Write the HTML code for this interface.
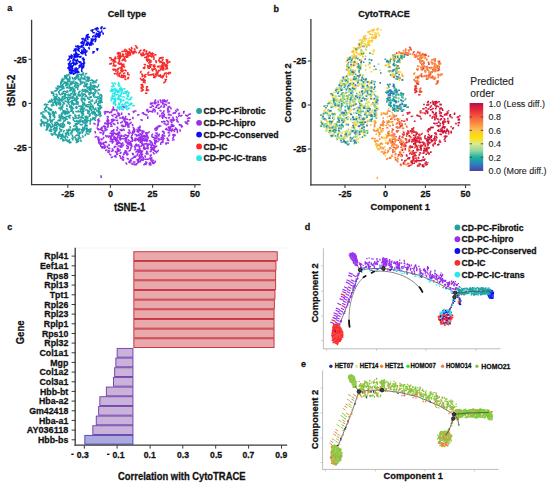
<!DOCTYPE html>
<html><head><meta charset="utf-8"><style>
html,body{margin:0;padding:0;background:#fff;}
svg{display:block;}
text{font-family:"Liberation Sans",sans-serif;}
</style></head><body>
<svg width="550" height="486" viewBox="0 0 550 486">
<rect width="550" height="486" fill="#fff"/>
<line x1="31.6" y1="19.8" x2="31.6" y2="185.2" stroke="#3a3a3a" stroke-width="1.3"/>
<line x1="31.0" y1="184.6" x2="200.7" y2="184.6" stroke="#3a3a3a" stroke-width="1.3"/>
<line x1="28.5" y1="59.3" x2="31.6" y2="59.3" stroke="#3a3a3a" stroke-width="1.1"/>
<line x1="28.5" y1="103.4" x2="31.6" y2="103.4" stroke="#3a3a3a" stroke-width="1.1"/>
<line x1="28.5" y1="147.4" x2="31.6" y2="147.4" stroke="#3a3a3a" stroke-width="1.1"/>
<line x1="67.8" y1="184.6" x2="67.8" y2="187.8" stroke="#3a3a3a" stroke-width="1.1"/>
<line x1="110.4" y1="184.6" x2="110.4" y2="187.8" stroke="#3a3a3a" stroke-width="1.1"/>
<line x1="152.6" y1="184.6" x2="152.6" y2="187.8" stroke="#3a3a3a" stroke-width="1.1"/>
<line x1="194.9" y1="184.6" x2="194.9" y2="187.8" stroke="#3a3a3a" stroke-width="1.1"/>
<text x="26.8" y="62.6" font-size="9.63" textLength="13.01" lengthAdjust="spacingAndGlyphs" font-weight="bold" text-anchor="end" fill="#111" stroke="#111" stroke-width="0.28">-25</text>
<text x="26.8" y="106.7" font-size="9.63" textLength="5.01" lengthAdjust="spacingAndGlyphs" font-weight="bold" text-anchor="end" fill="#111" stroke="#111" stroke-width="0.28">0</text>
<text x="26.8" y="150.7" font-size="9.63" textLength="13.01" lengthAdjust="spacingAndGlyphs" font-weight="bold" text-anchor="end" fill="#111" stroke="#111" stroke-width="0.28">-25</text>
<text x="67.8" y="196.9" font-size="9.63" textLength="13.01" lengthAdjust="spacingAndGlyphs" font-weight="bold" text-anchor="middle" fill="#111" stroke="#111" stroke-width="0.28">-25</text>
<text x="110.4" y="196.9" font-size="9.63" textLength="5.01" lengthAdjust="spacingAndGlyphs" font-weight="bold" text-anchor="middle" fill="#111" stroke="#111" stroke-width="0.28">0</text>
<text x="152.6" y="196.9" font-size="9.63" textLength="10.01" lengthAdjust="spacingAndGlyphs" font-weight="bold" text-anchor="middle" fill="#111" stroke="#111" stroke-width="0.28">25</text>
<text x="194.9" y="196.9" font-size="9.63" textLength="10.01" lengthAdjust="spacingAndGlyphs" font-weight="bold" text-anchor="middle" fill="#111" stroke="#111" stroke-width="0.28">50</text>
<text x="129.7" y="210.8" font-size="10.27" textLength="31.47" lengthAdjust="spacingAndGlyphs" font-weight="bold" text-anchor="middle" fill="#111" stroke="#111" stroke-width="0.28">tSNE-1</text>
<text x="15.4" y="90.4" font-size="10.27" textLength="31.47" lengthAdjust="spacingAndGlyphs" font-weight="bold" text-anchor="middle" fill="#111" stroke="#111" stroke-width="0.28" transform="rotate(-90 15.4 90.4)">tSNE-2</text>
<text x="126.9" y="16.6" font-size="9.84" textLength="38.35" lengthAdjust="spacingAndGlyphs" font-weight="bold" text-anchor="middle" fill="#111" stroke="#111" stroke-width="0.28">Cell type</text>
<text x="7.3" y="10.9" font-size="9.63" textLength="5.01" lengthAdjust="spacingAndGlyphs" font-weight="bold" text-anchor="start" fill="#111" stroke="#111" stroke-width="0.28">a</text>
<path stroke="#22a2a1" stroke-width="1.5" stroke-linecap="square" d="M88.2 104.8h0M89.3 104.4h0M87.8 113.2h0M88.6 112.5h0M76.3 100.5h0M75.2 100.5h0M78.1 98.4h0M77.0 98.3h0M85.5 92.3h0M85.2 91.3h0M64.3 93.6h0M63.3 93.2h0M71.6 103.2h0M72.7 102.8h0M48.8 112.4h0M47.8 111.9h0M98.7 93.8h0M98.0 93.0h0M66.9 136.6h0M67.6 137.4h0M76.2 106.6h0M77.0 107.3h0M72.5 108.0h0M73.5 108.5h0M62.0 114.4h0M61.1 115.0h0M83.1 109.0h0M82.0 109.3h0M64.7 111.1h0M63.6 111.5h0M100.8 106.2h0M100.4 107.2h0M73.6 130.0h0M74.5 129.4h0M72.7 78.7h0M72.4 77.6h0M96.5 101.5h0M96.1 102.6h0M72.4 107.5h0M71.3 107.6h0M79.3 115.2h0M78.2 115.5h0M79.8 74.3h0M80.9 74.7h0M59.5 120.7h0M60.6 120.7h0M93.3 113.0h0M92.2 112.8h0M71.4 111.3h0M70.3 111.2h0M76.4 100.7h0M75.5 100.2h0M88.3 78.8h0M89.4 78.7h0M72.6 129.9h0M73.0 128.9h0M88.8 94.0h0M89.6 94.7h0M76.5 96.2h0M77.1 97.1h0M76.4 140.2h0M77.2 141.0h0M59.8 135.5h0M60.3 136.5h0M77.4 140.1h0M77.3 141.2h0M55.1 98.9h0M56.1 99.2h0M58.8 134.1h0M59.4 133.1h0M62.7 84.4h0M63.6 83.7h0M75.2 79.2h0M74.2 78.8h0M65.8 76.1h0M66.0 77.2h0M62.1 88.9h0M61.2 89.4h0M82.3 96.0h0M82.1 97.1h0M92.4 80.4h0M93.2 81.2h0M90.7 82.8h0M90.3 83.9h0M63.9 140.7h0M62.8 140.8h0M71.7 87.4h0M70.6 87.6h0M85.1 89.5h0M85.4 90.6h0M63.0 88.6h0M64.0 88.2h0M72.3 110.6h0M72.0 109.5h0M64.0 118.2h0M63.6 117.2h0M64.8 77.7h0M65.6 78.5h0M60.4 119.0h0M60.7 120.0h0M62.7 107.1h0M61.6 107.5h0M59.8 87.6h0M59.8 86.5h0M58.1 99.8h0M57.4 98.9h0M41.3 119.7h0M41.1 120.8h0M65.9 118.2h0M65.4 119.2h0M93.6 96.2h0M93.1 95.2h0M86.6 122.3h0M85.5 122.3h0M59.2 98.5h0M60.1 99.2h0M80.6 83.6h0M81.0 82.6h0M85.0 89.5h0M85.1 90.6h0M94.4 114.8h0M95.5 115.0h0M46.9 128.6h0M46.6 129.7h0M87.4 76.9h0M87.8 78.0h0M87.3 130.8h0M88.3 130.3h0M100.5 101.3h0M100.6 102.4h0M86.6 130.5h0M87.0 131.5h0M42.7 121.4h0M43.4 122.3h0M84.5 129.4h0M84.5 128.3h0M74.6 89.1h0M74.3 90.1h0M65.8 85.7h0M66.8 85.2h0M84.8 119.5h0M85.8 120.0h0M72.8 102.9h0M73.8 103.4h0M59.0 135.0h0M58.7 136.1h0M60.4 129.6h0M59.6 128.8h0M50.1 118.8h0M50.6 119.8h0M88.7 131.0h0M87.8 130.5h0M62.9 86.0h0M63.6 86.8h0M52.1 121.6h0M52.2 120.5h0M60.2 104.9h0M59.2 104.4h0M45.3 122.6h0M44.3 122.4h0M46.4 106.3h0M47.0 107.2h0M74.7 71.4h0M74.3 70.4h0M79.6 138.2h0M80.7 137.9h0M93.4 92.7h0M92.5 93.3h0M50.6 127.1h0M51.7 127.2h0M60.6 84.1h0M61.2 83.1h0M62.8 111.1h0M63.8 110.8h0M76.0 115.8h0M74.9 116.0h0M71.3 107.2h0M72.4 107.1h0M76.7 76.6h0M77.2 77.6h0M68.0 140.9h0M68.3 141.9h0M67.7 84.7h0M67.0 83.9h0M89.8 102.1h0M88.7 102.2h0M72.3 101.6h0M72.4 102.7h0M82.3 130.4h0M83.3 130.8h0M58.2 102.8h0M58.0 103.9h0M60.9 104.0h0M59.8 104.0h0M101.1 115.5h0M100.2 114.9h0M82.7 115.2h0M81.9 116.0h0M100.3 105.4h0M99.3 105.8h0M61.7 134.8h0M62.8 134.9h0M83.3 103.4h0M84.4 103.7h0M63.1 113.0h0M62.0 113.0h0M75.8 99.7h0M76.9 99.9h0M96.9 110.9h0M96.4 109.9h0M73.1 89.1h0M73.2 90.2h0M54.3 112.5h0M53.3 112.7h0M77.1 76.8h0M76.0 76.6h0M67.2 133.0h0M67.3 131.9h0M88.4 79.2h0M88.7 78.2h0M65.0 83.2h0M66.1 82.9h0M89.1 80.7h0M88.4 79.9h0M55.1 97.8h0M56.0 97.1h0M53.1 92.3h0M52.0 92.2h0M96.7 115.4h0M96.3 114.4h0M50.1 125.1h0M49.4 124.2h0M83.3 130.6h0M82.6 129.8h0M85.6 74.0h0M86.5 73.5h0M75.2 129.3h0M75.9 128.4h0M82.9 89.6h0M82.0 90.3h0M93.2 112.9h0M93.0 111.8h0M46.8 129.0h0M46.2 129.9h0M58.0 120.6h0M59.0 120.1h0M95.3 109.3h0M95.7 108.2h0M60.9 81.9h0M61.2 82.9h0M51.1 129.6h0M50.1 129.3h0M70.2 82.1h0M71.3 82.1h0M95.6 115.1h0M96.3 116.0h0M77.4 74.4h0M76.7 75.2h0M69.3 112.7h0M68.4 112.1h0M69.1 142.1h0M70.2 142.1h0M82.4 91.0h0M83.5 91.2h0M55.6 111.8h0M56.0 112.9h0M75.8 126.1h0M76.9 126.4h0M79.9 116.9h0M80.8 117.4h0M59.0 125.6h0M58.7 124.5h0M79.9 96.1h0M79.1 95.4h0M70.4 97.7h0M71.1 96.9h0M62.5 80.8h0M62.9 79.8h0M68.3 103.0h0M69.2 102.3h0M58.8 92.8h0M59.1 91.8h0M99.9 95.3h0M100.8 94.8h0M76.4 142.5h0M77.3 141.9h0M67.3 133.7h0M66.4 133.0h0M97.0 90.9h0M96.0 90.6h0M84.4 86.8h0M83.9 85.9h0M78.0 133.1h0M78.9 132.4h0M78.2 76.1h0M78.5 75.1h0M61.5 81.2h0M61.5 80.1h0M95.7 117.0h0M95.4 118.0h0M60.3 124.7h0M60.9 123.8h0M83.3 95.4h0M82.4 96.1h0M42.3 116.4h0M43.3 116.9h0M77.8 89.5h0M77.6 88.4h0M98.8 111.6h0M98.7 110.5h0M78.8 123.3h0M77.7 123.0h0M88.7 77.2h0M88.6 78.3h0M73.6 113.2h0M72.9 112.4h0M78.0 94.6h0M79.0 95.0h0M85.1 125.7h0M84.9 126.8h0M67.9 90.9h0M67.6 92.0h0M70.0 117.9h0M69.0 117.6h0M88.1 77.5h0M89.2 77.6h0M75.3 84.0h0M74.5 83.3h0M89.7 88.4h0M89.0 89.3h0M80.4 95.5h0M80.9 94.5h0M60.7 136.4h0M61.6 135.7h0M43.3 117.8h0M44.2 117.2h0M42.9 112.0h0M44.0 112.1h0M100.0 116.4h0M100.8 115.6h0M56.4 102.4h0M55.3 102.5h0M87.8 118.2h0M87.1 117.3h0M53.8 112.5h0M53.3 111.5h0M95.2 89.7h0M95.1 90.8h0M57.0 94.9h0M56.2 94.2h0M49.7 120.0h0M50.4 120.8h0M76.8 135.2h0M75.9 135.8h0M62.8 127.0h0M62.1 126.1h0M49.4 124.1h0M49.4 125.2h0M82.9 78.1h0M83.5 79.0h0M85.5 134.5h0M85.3 135.6h0M54.6 128.0h0M55.7 128.1h0M71.7 87.7h0M70.9 88.4h0M60.1 134.5h0M59.1 135.0h0M48.5 102.3h0M49.4 101.7h0M48.9 124.2h0M47.8 124.0h0M62.4 106.6h0M61.3 106.6h0M65.7 111.1h0M66.0 112.2h0M83.2 117.9h0M82.2 117.5h0M64.4 94.3h0M64.3 95.4h0M64.2 98.8h0M63.4 99.6h0M78.4 138.1h0M78.4 139.2h0M63.7 88.5h0M62.6 88.4h0M83.7 94.1h0M84.8 94.0h0M93.3 107.2h0M92.2 107.0h0M54.6 116.0h0M53.6 116.6h0M84.7 99.3h0M84.1 98.3h0M82.6 93.9h0M81.9 93.1h0M53.8 115.8h0M52.9 115.1h0M69.5 122.9h0M69.5 124.0h0M98.5 109.0h0M98.0 108.0h0M91.8 88.7h0M91.0 89.4h0M69.3 116.6h0M68.3 116.2h0M64.0 130.8h0M63.5 131.7h0M90.8 108.6h0M89.7 108.5h0M83.5 103.4h0M82.8 104.3h0M88.0 81.5h0M88.5 80.6h0M72.7 88.3h0M72.8 87.2h0M52.6 112.1h0M52.9 113.2h0M85.4 91.0h0M84.6 90.2h0M80.3 133.1h0M79.9 132.1h0M90.2 115.6h0M89.3 116.2h0M67.8 97.2h0M68.9 97.2h0M65.8 117.4h0M64.9 118.1h0M64.4 112.6h0M64.5 113.7h0M63.3 119.0h0M63.2 117.9h0M87.6 98.3h0M87.9 97.2h0M40.9 113.8h0M42.0 113.7h0M92.6 101.0h0M92.3 99.9h0M67.1 106.3h0M66.8 105.3h0M82.4 124.4h0M81.4 125.0h0M83.1 110.4h0M83.7 111.3h0M88.2 111.8h0M89.3 111.8h0M85.5 105.9h0M84.8 105.0h0M66.9 113.0h0M67.7 113.8h0M95.1 81.8h0M96.0 82.4h0M57.1 90.1h0M56.0 90.5h0M94.2 111.0h0M93.9 112.1h0M94.4 89.6h0M93.3 89.2h0M73.6 98.0h0M74.6 98.3h0M77.0 97.1h0M76.3 98.0h0M98.6 111.1h0M99.6 111.6h0M73.4 100.3h0M72.3 100.2h0M57.0 128.8h0M56.7 129.9h0M90.2 113.8h0M89.3 114.4h0M68.3 134.3h0M68.9 135.3h0M80.5 74.4h0M81.2 75.3h0M78.0 83.8h0M77.2 83.1h0M90.6 106.5h0M90.2 105.4h0M58.5 86.1h0M57.5 86.3h0M98.4 86.0h0M98.6 84.9h0M66.1 119.1h0M67.1 119.3h0M83.9 82.3h0M84.9 82.7h0M58.1 87.6h0M58.4 88.7h0M75.6 81.9h0M76.4 82.7h0M93.6 81.1h0M94.7 81.4h0M63.9 117.5h0M65.0 117.7h0M45.5 104.1h0M46.5 104.7h0M83.1 79.1h0M84.0 78.5h0M99.6 109.2h0M100.5 108.6h0M87.7 106.7h0M86.6 106.4h0M70.3 133.0h0M70.9 133.9h0M57.0 135.1h0M56.0 134.8h0M77.5 141.2h0M78.6 141.1h0M81.4 74.9h0M81.6 76.0h0M55.6 124.9h0M55.4 123.9h0M74.8 77.7h0M75.8 78.3h0M78.0 104.3h0M77.4 103.4h0M46.1 117.9h0M45.1 118.4h0M62.1 97.8h0M62.4 96.8h0M61.0 131.4h0M59.9 131.4h0M71.6 109.8h0M70.9 108.9h0M49.8 109.5h0M50.3 110.5h0M52.3 100.2h0M51.7 99.3h0M54.3 133.7h0M55.2 134.3h0M70.4 127.8h0M70.1 126.7h0M54.4 125.2h0M54.8 124.2h0M72.8 91.9h0M73.2 90.9h0M76.1 87.5h0M77.1 87.0h0M85.0 75.9h0M84.7 76.9h0M79.2 120.6h0M78.7 121.5h0M91.4 104.2h0M90.6 103.5h0M99.6 100.7h0M98.6 101.3h0M55.2 123.7h0M55.0 122.6h0M61.7 81.3h0M61.5 82.4h0M70.4 106.2h0M71.1 105.4h0M87.8 117.2h0M86.7 117.6h0M45.4 122.8h0M44.3 122.6h0M87.6 80.1h0M88.0 79.1h0M77.6 101.9h0M78.4 102.6h0M95.6 92.4h0M95.0 91.5h0M55.7 131.6h0M54.8 131.0h0M68.2 88.1h0M69.3 87.9h0M83.0 122.5h0M83.9 123.1h0M90.8 120.0h0M90.7 118.9h0M65.2 76.8h0M64.7 75.8h0M61.6 113.4h0M61.3 114.4h0M91.2 100.9h0M90.3 101.5h0M60.7 86.8h0M61.7 87.3h0M79.4 92.2h0M80.0 91.3h0M84.1 102.4h0M83.6 103.3h0M47.9 120.3h0M47.2 119.4h0M100.9 97.7h0M100.4 98.7h0M78.3 135.6h0M77.3 135.1h0M100.9 107.5h0M99.8 107.5h0M92.7 82.7h0M93.7 82.9h0M68.6 129.6h0M68.0 130.5h0M46.3 110.5h0M45.9 111.5h0M64.0 137.6h0M65.1 137.5h0M43.7 116.2h0M43.0 115.3h0M62.5 118.4h0M61.5 118.1h0M73.3 119.5h0M73.8 120.5h0M82.8 111.3h0M83.1 112.3h0M48.8 113.3h0M49.1 114.3h0M64.5 124.6h0M64.6 125.7h0M88.0 91.9h0M87.7 90.8h0M90.5 120.2h0M90.2 121.3h0M84.9 120.9h0M86.0 120.6h0M76.4 130.2h0M77.5 129.9h0M48.7 108.0h0M48.4 109.1h0M86.7 83.4h0M87.5 84.1h0M59.4 98.4h0M58.7 97.5h0M51.7 93.2h0M51.5 92.1h0M60.3 102.7h0M59.3 103.2h0M65.0 98.7h0M65.2 97.6h0M68.0 130.9h0M67.9 132.0h0M87.6 104.7h0M86.5 104.9h0M87.3 91.3h0M86.4 90.6h0M73.3 91.6h0M74.1 90.9h0M92.0 112.4h0M93.1 112.3h0M56.9 88.7h0M56.1 87.9h0M87.3 120.1h0M88.3 120.6h0M80.5 140.3h0M81.1 141.2h0M89.6 99.2h0M88.5 99.1h0M61.5 99.0h0M61.3 100.1h0M51.1 133.7h0M52.1 134.1h0M82.6 136.1h0M83.0 137.1h0M71.5 132.0h0M72.0 132.9h0M65.3 112.9h0M64.8 111.9h0M90.2 131.7h0M89.3 132.2h0M88.3 106.7h0M87.2 106.7h0M86.7 129.6h0M87.3 128.7h0M47.9 121.3h0M47.1 122.1h0M78.1 130.6h0M78.4 129.5h0M90.8 96.8h0M89.9 97.5h0M93.6 94.4h0M94.5 95.1h0M75.6 129.3h0M75.2 128.2h0M79.6 95.8h0M78.5 95.8h0M53.7 128.7h0M53.6 129.8h0M91.8 109.8h0M91.3 110.7h0M66.4 75.2h0M66.8 76.2h0M76.6 99.8h0M76.4 98.7h0M54.6 133.5h0M54.1 132.5h0M101.1 94.7h0M101.7 95.6h0M69.7 80.8h0M69.6 79.7h0M84.8 103.9h0M83.9 104.5h0M65.5 91.8h0M64.6 91.2h0M72.7 103.0h0M72.5 104.1h0M75.9 121.4h0M74.8 121.2h0M86.0 122.9h0M85.3 123.8h0M85.7 116.7h0M86.7 116.3h0M50.3 116.5h0M49.8 115.6h0M62.4 135.4h0M63.2 136.1h0M48.5 127.1h0M47.6 126.6h0M70.1 130.3h0M69.0 130.3h0M75.7 107.8h0M76.7 108.3h0M102.2 102.2h0M101.3 101.5h0M53.2 113.2h0M53.9 114.0h0M69.5 73.9h0M68.7 74.6h0M79.1 134.8h0M79.5 133.8h0M97.8 98.8h0M98.8 99.1h0M68.5 112.8h0M67.6 113.5h0M67.7 75.8h0M68.2 74.8h0M69.5 99.4h0M70.0 98.4h0M54.8 117.5h0M54.5 116.4h0M77.9 76.4h0M78.8 77.1h0M54.3 98.7h0M54.8 99.7h0M80.2 124.4h0M81.3 124.7h0M54.0 119.2h0M53.1 119.8h0M98.4 90.0h0M99.5 89.8h0M88.4 78.4h0M89.5 78.4h0M51.7 129.4h0M50.7 129.0h0M46.9 127.2h0M47.7 128.0h0M74.7 130.1h0M75.2 129.2h0M77.7 128.6h0M77.1 127.7h0M74.4 92.0h0M75.1 91.1h0M68.7 79.6h0M67.8 80.2h0M67.4 78.9h0M66.6 78.1h0M86.3 132.1h0M86.6 133.1h0M63.1 92.6h0M63.2 91.5h0M78.4 141.4h0M77.3 141.4h0M83.5 114.1h0M83.1 115.1h0M65.2 114.5h0M66.0 113.7h0M86.9 128.1h0M86.4 129.0h0M82.5 132.5h0M82.8 131.4h0M67.8 122.1h0M68.0 123.2h0M62.1 94.5h0M61.7 93.5h0M87.7 91.1h0M86.7 91.5h0M60.7 125.8h0M61.5 126.6h0M90.8 109.6h0M91.8 110.1h0M59.4 116.4h0M59.2 115.3h0M72.8 117.6h0M73.6 118.4h0M65.3 136.1h0M66.0 135.2h0M58.2 136.3h0M58.8 135.3h0M50.7 102.1h0M51.6 101.5h0M87.3 125.5h0M86.3 125.9h0M41.4 121.0h0M41.4 119.9h0M77.0 118.0h0M76.0 117.6h0M63.0 81.5h0M61.9 81.7h0M57.1 126.5h0M56.9 127.6h0M58.9 100.1h0M57.8 99.9h0M86.4 77.7h0M87.2 76.9h0M92.9 86.9h0M93.8 86.2h0M82.7 91.0h0M82.7 89.9h0M81.6 113.1h0M82.7 112.9h0M81.3 112.1h0M81.4 113.2h0M63.2 123.4h0M62.7 124.4h0M55.5 97.3h0M55.7 98.4h0M55.4 128.6h0M54.3 128.7h0M88.5 87.3h0M87.5 87.6h0M63.9 97.0h0M64.9 96.6h0M82.0 131.3h0M82.7 132.1h0M67.2 79.5h0M68.0 78.7h0M70.3 83.8h0M71.2 83.2h0M63.0 104.6h0M62.7 105.7h0M87.7 111.0h0M88.8 110.8h0M99.9 109.0h0M98.9 108.6h0M95.1 86.4h0M94.8 87.5h0M98.6 104.1h0M97.8 103.4h0M68.7 94.3h0M67.8 95.0h0M63.0 79.6h0M62.6 78.6h0M81.7 108.1h0M82.8 108.0h0M87.0 110.0h0M85.9 109.9h0M78.6 118.3h0M78.8 117.2h0M94.5 97.4h0M95.6 97.0h0M54.2 114.0h0M54.1 112.9h0M67.8 81.6h0M66.9 82.2h0M76.5 138.9h0M75.6 139.5h0M53.8 105.3h0M52.9 104.6h0M70.9 142.3h0M69.8 142.2h0M93.2 85.5h0M94.3 85.6h0M59.9 100.7h0M60.0 99.6h0M50.4 130.6h0M49.3 130.7h0M55.6 103.5h0M56.1 104.5h0M73.0 112.8h0M73.3 111.7h0M76.5 103.9h0M77.2 103.1h0M82.1 132.9h0M82.6 131.9h0M100.4 100.6h0M101.0 101.5h0M58.7 91.7h0M59.0 92.7h0M66.8 108.7h0M67.5 109.5h0M81.5 108.1h0M81.0 107.1h0M81.9 112.6h0M81.9 113.7h0M76.0 83.9h0M74.9 83.7h0M54.3 97.3h0M54.9 96.4h0M44.1 124.1h0M43.5 123.2h0M82.9 128.6h0M82.7 127.5h0M82.8 121.9h0M81.9 121.3h0M54.7 102.0h0M55.8 101.8h0M65.9 140.1h0M65.6 139.0h0M86.3 96.5h0M85.2 96.6h0M65.9 101.5h0M65.0 100.9h0M99.5 112.9h0M100.5 113.4h0M67.5 83.6h0M67.0 84.6h0M82.3 83.1h0M83.1 82.4h0M88.3 130.8h0M87.9 129.8h0M52.1 126.4h0M53.1 126.1h0M92.5 113.8h0M91.8 112.9h0M77.6 85.3h0M78.6 85.7h0M86.0 90.6h0M87.1 90.4h0M50.9 121.1h0M50.7 122.2h0M56.6 122.2h0M57.7 122.5h0M60.9 108.9h0M60.3 109.8h0M70.3 89.7h0M71.4 89.9h0M79.4 121.7h0M80.5 122.0h0M86.0 95.6h0M85.3 94.8h0M99.1 111.4h0M98.3 110.7h0M83.8 98.5h0M82.8 99.0h0M90.9 129.0h0M89.8 129.2h0M52.0 121.5h0M52.3 120.4h0M82.1 111.8h0M81.0 111.7h0M76.7 78.6h0M75.9 77.8h0M55.6 101.4h0M55.9 100.3h0M41.6 123.4h0M42.0 122.4h0M80.0 120.3h0M80.9 119.6h0M52.6 93.2h0M53.6 93.6h0M88.7 129.8h0M87.6 130.0h0M90.2 93.7h0M91.2 93.3h0M43.2 114.9h0M43.8 115.9h0M73.0 81.6h0M73.9 81.0h0M69.4 85.5h0M69.3 86.6h0M72.8 96.8h0M73.6 96.0h0M89.4 78.8h0M88.3 78.6h0M70.4 89.0h0M71.5 89.0h0M59.8 104.8h0M60.5 104.0h0M64.0 102.9h0M64.5 103.8h0M78.7 78.7h0M79.5 79.5h0M47.7 104.4h0M46.6 104.8h0M44.0 124.7h0M44.5 125.7h0M88.8 80.8h0M88.6 79.7h0M50.2 109.1h0M51.0 109.8h0M50.5 126.2h0M49.6 125.5h0M56.7 123.9h0M57.6 123.3h0M69.6 139.7h0M69.1 140.7h0M69.3 122.4h0M70.1 123.2h0M46.3 129.8h0M47.4 129.5h0M56.1 104.8h0M56.3 103.7h0M94.4 94.6h0M94.8 93.5h0M60.9 84.8h0M61.3 85.8h0M95.3 112.4h0M94.2 112.2h0M78.6 135.7h0M79.4 136.4h0M56.4 97.5h0M57.0 96.6h0M63.9 79.6h0M62.8 79.2h0M66.2 116.5h0M67.3 116.4h0M86.2 125.1h0M87.2 125.7h0M81.6 98.3h0M82.1 99.2h0M74.2 95.0h0M75.3 95.1h0M96.2 80.8h0M96.9 79.9h0M83.4 118.2h0M82.4 118.0h0M74.3 104.3h0M73.4 104.9h0M53.3 95.6h0M53.8 94.7h0M90.6 87.4h0M90.0 86.5h0M86.7 85.4h0M85.8 84.7h0M59.7 116.3h0M59.1 117.3h0M59.4 133.9h0M59.0 132.8h0M76.8 130.7h0M77.3 131.6h0M66.1 134.2h0M65.4 133.4h0M63.2 97.0h0M62.4 97.7h0M41.4 113.7h0M41.2 112.7h0M66.5 77.6h0M67.1 78.5h0M90.1 97.2h0M91.2 97.3h0M91.5 86.1h0M90.6 85.6h0M67.1 97.7h0M66.0 97.8h0M52.3 93.2h0M51.5 92.3h0M51.1 110.4h0M51.6 109.4h0M90.7 84.0h0M91.1 85.0h0M87.7 134.0h0M88.8 134.1h0M72.3 135.3h0M72.6 136.3h0M72.1 138.1h0M73.2 138.1h0M79.6 129.0h0M79.6 130.1h0M55.8 91.0h0M54.7 91.0h0M69.8 77.7h0M69.7 76.6h0M85.4 125.1h0M85.0 126.1h0M72.1 83.2h0M71.8 84.3h0M52.4 112.7h0M53.5 112.7h0M85.0 122.7h0M86.0 123.1h0M100.0 102.9h0M99.1 102.4h0M90.7 120.0h0M89.9 120.7h0M61.1 126.4h0M62.2 126.2h0M49.7 100.4h0M50.7 100.9h0M59.9 107.6h0M59.0 108.3h0M67.0 141.1h0M67.7 140.3h0M69.6 85.2h0M70.6 84.7h0M65.1 96.6h0M64.7 95.6h0M84.1 99.7h0M84.9 100.5h0M76.5 71.1h0M77.3 71.8h0M62.5 116.2h0M61.5 116.5h0M66.8 92.3h0M67.0 91.2h0M76.9 120.4h0M77.4 121.3h0M74.8 100.1h0M75.8 99.8h0M69.8 107.2h0M69.6 106.1h0M62.3 109.1h0M61.3 108.7h0M69.8 95.2h0M70.8 95.0h0M89.6 90.0h0M90.5 90.6h0M62.6 136.7h0M61.5 136.7h0M61.1 130.5h0M61.8 129.7h0M87.1 122.5h0M86.7 121.4h0M75.4 137.7h0M74.6 137.0h0M67.3 84.3h0M68.1 83.6h0M64.6 77.3h0M64.8 76.3h0M77.8 141.4h0M76.8 141.6h0M85.0 116.5h0M85.4 117.5h0M50.8 114.2h0M50.0 114.9h0M67.4 99.4h0M67.9 100.3h0M84.8 83.8h0M85.1 84.8h0M62.4 124.2h0M63.1 123.3h0M82.6 73.6h0M83.5 73.0h0M76.7 103.2h0M75.8 103.9h0M61.7 99.3h0M62.5 100.1h0M98.2 111.5h0M98.3 112.6h0M64.6 120.7h0M63.7 121.4h0M90.4 108.1h0M89.6 107.3h0M65.6 119.0h0M65.4 120.1h0M66.4 139.9h0M65.3 140.0h0M78.7 93.9h0M79.3 94.9h0M90.4 130.1h0M90.7 131.2h0M59.9 126.0h0M60.1 127.0h0M70.9 90.7h0M69.8 90.8h0M48.5 125.5h0M47.5 125.0h0M77.2 101.7h0M76.1 101.7h0M89.2 78.6h0M88.6 77.7h0M95.2 102.6h0M94.5 103.4h0M86.6 117.9h0M86.0 118.9h0M85.6 86.2h0M86.7 86.3h0M64.3 136.9h0M64.9 137.8h0M67.1 111.7h0M68.1 111.2h0M68.2 133.6h0M68.0 132.5h0M69.8 79.4h0M70.0 78.3h0M83.4 74.8h0M82.4 74.4h0M86.7 80.2h0M86.2 81.2h0M55.9 129.7h0M56.5 130.6h0M69.2 104.3h0M68.3 103.6h0M61.6 138.3h0M60.6 138.7h0M91.8 80.0h0M90.9 80.6h0M61.4 82.6h0M60.7 83.5h0M90.0 88.9h0M91.0 88.4h0M98.0 115.0h0M98.9 114.4h0M80.1 109.1h0M81.2 109.2h0M91.1 119.9h0M90.1 120.5h0M69.9 130.1h0M69.2 129.2h0M49.6 120.1h0M50.6 120.4h0M69.6 106.8h0M70.6 107.3h0M74.9 125.8h0M73.8 126.1h0M97.0 97.3h0M98.1 97.1h0M48.9 112.9h0M49.9 113.2h0M74.8 93.6h0M75.9 93.6h0M80.3 111.4h0M80.7 110.4h0M62.5 139.1h0M63.3 139.8h0M94.5 119.5h0M95.4 120.2h0M74.8 85.8h0M75.9 85.5h0M92.8 118.5h0M92.7 119.6h0M75.4 72.0h0M76.2 71.2h0M77.5 130.4h0M76.8 131.3h0M51.6 131.3h0M50.5 131.5h0M56.4 134.4h0M55.3 134.4h0M101.3 100.1h0M101.7 99.0h0M46.6 124.9h0M47.1 125.9h0M63.8 118.4h0M64.6 117.6h0M81.3 82.2h0M82.4 82.1h0M62.5 136.0h0M61.5 136.3h0M77.4 129.0h0M76.7 128.1h0M76.0 111.5h0M77.1 111.7h0M66.6 87.8h0M67.4 87.0h0M92.5 88.6h0M93.6 88.3h0M64.4 94.9h0M65.5 94.9h0M82.1 131.2h0M82.3 130.1h0M98.7 114.6h0M99.6 114.0h0M45.0 117.8h0M44.9 116.7h0M72.3 138.6h0M72.7 139.7h0M59.5 94.1h0M60.4 94.8h0M67.2 83.0h0M66.3 83.7h0M94.0 118.0h0M93.1 117.4h0M86.9 122.6h0M87.1 121.5h0M82.3 102.1h0M82.1 101.0h0M53.9 99.8h0M54.7 100.5h0M60.9 90.0h0M59.8 90.2h0M65.1 120.6h0M64.0 120.9h0M44.8 110.1h0M44.4 109.0h0M45.8 107.2h0M45.5 108.3h0M82.5 106.5h0M81.5 106.0h0M69.7 81.2h0M68.6 81.5h0M82.7 120.8h0M83.8 121.0h0M42.5 122.4h0M41.8 123.2h0M76.6 123.4h0M77.4 124.2h0M62.9 123.1h0M63.2 124.1h0M45.7 123.0h0M46.8 123.3h0M85.1 79.6h0M84.4 78.7h0M62.5 134.0h0M62.7 135.0h0M95.3 113.3h0M94.3 113.6h0M100.3 112.1h0M99.6 111.2h0M70.2 95.5h0M69.1 95.6h0M77.1 87.4h0M78.1 86.9h0M71.7 101.0h0M70.8 101.7h0M73.6 90.4h0M73.3 91.5h0M89.5 108.9h0M89.7 107.9h0M72.2 98.3h0M71.2 97.7h0M84.4 130.0h0M83.5 129.3h0M53.0 103.7h0M53.5 102.7h0M62.5 125.1h0M62.7 126.2h0M54.3 127.1h0M55.2 127.8h0M80.2 121.0h0M80.2 119.9h0M100.7 108.1h0M101.7 107.6h0M90.9 87.6h0M89.9 87.9h0M90.2 124.1h0M90.1 123.0h0M56.7 105.5h0M56.3 104.5h0M67.4 102.1h0M68.4 101.9h0M57.7 137.2h0M58.3 138.1h0M66.9 84.6h0M66.0 83.9h0M67.5 99.5h0M67.7 98.4h0M63.1 126.2h0M63.7 127.1h0M80.0 84.6h0M80.8 84.0h0M78.8 92.7h0M79.4 91.8h0M97.4 87.6h0M96.6 86.8h0M60.1 117.2h0M60.1 118.3h0M59.1 101.5h0M58.0 101.9h0M55.0 133.1h0M54.8 132.0h0M90.4 129.9h0M89.4 130.1h0M70.5 142.2h0M69.9 143.1h0M54.3 115.4h0M54.3 114.3h0M74.7 98.7h0M73.8 98.1h0M55.3 125.5h0M56.4 125.6h0M45.4 104.3h0M44.4 104.8h0M62.9 102.1h0M63.5 103.1h0M84.6 108.1h0M83.8 108.9h0M71.8 107.0h0M70.7 107.1h0M52.8 134.4h0M52.1 135.2h0M78.9 111.7h0M78.3 110.8h0M101.0 97.9h0M101.8 97.1h0M73.3 95.1h0M73.8 94.1h0M61.5 101.0h0M60.4 100.8h0M65.1 82.3h0M64.5 83.3h0M68.2 100.8h0M68.5 99.7h0M68.5 131.2h0M67.6 132.0h0M82.6 106.8h0M83.1 105.9h0M50.6 117.2h0M49.6 116.8h0M80.6 80.7h0M80.2 81.7h0M72.0 93.6h0M70.9 93.6h0M70.7 115.6h0M69.6 115.3h0M82.6 110.0h0M83.7 109.8h0M75.6 87.2h0M74.6 86.6h0M75.6 125.5h0M76.2 124.5h0M81.3 78.6h0M81.0 77.5h0M86.2 90.1h0M87.1 90.8h0M93.1 108.6h0M94.1 109.0h0M67.6 130.4h0M66.6 130.0h0M94.9 85.5h0M94.0 86.0h0M79.6 79.9h0M80.5 79.2h0M57.9 136.9h0M57.5 135.9h0M90.9 91.0h0M90.9 92.1h0M87.0 87.8h0M87.8 88.5h0M75.0 115.0h0M75.5 115.9h0M84.4 104.1h0M83.3 103.7h0M57.7 124.4h0M58.7 124.0h0M84.0 99.7h0M85.1 99.3h0M100.2 97.5h0M99.4 96.7h0M41.3 124.6h0M40.4 124.0h0M62.1 86.5h0M62.1 87.6h0M81.5 100.2h0M81.2 99.2h0M97.8 104.9h0M98.5 105.8h0M51.9 123.5h0M52.5 124.4h0M79.9 106.0h0M78.9 106.3h0M54.1 102.5h0M53.0 102.3h0M55.4 130.7h0M56.5 130.3h0M79.6 79.8h0M78.5 79.7h0M82.5 129.9h0M81.5 129.6h0M72.3 82.3h0M73.1 83.0h0M64.6 82.1h0M65.6 82.2h0M51.4 105.1h0M52.1 106.0h0M72.5 131.3h0M71.9 130.4h0M88.4 112.0h0M87.9 113.0h0M89.5 92.8h0M90.6 92.7h0M76.0 117.9h0M74.9 118.2h0M43.7 117.2h0M44.8 117.2h0M75.3 124.1h0M76.1 123.5h0M70.8 89.3h0M70.8 90.4h0M63.3 127.6h0M62.3 127.3h0M84.4 127.2h0M84.9 128.2h0M41.4 125.9h0M40.8 124.9h0M65.3 93.8h0M66.1 94.6h0M71.9 102.9h0M71.9 104.0h0M92.8 105.5h0M91.9 106.2h0M96.4 100.0h0M96.2 101.1h0M69.1 112.8h0M68.3 112.0h0"/>
<path stroke="#0c10f0" stroke-width="1.5" stroke-linecap="square" d="M92.1 30.3h0M93.1 29.8h0M83.7 66.0h0M83.8 64.9h0M89.6 45.6h0M89.9 44.6h0M79.2 65.7h0M80.0 65.0h0M79.0 54.6h0M77.9 54.4h0M75.9 53.9h0M76.3 52.9h0M95.6 40.5h0M95.2 41.5h0M83.5 62.9h0M84.6 62.9h0M68.8 59.2h0M68.0 60.0h0M82.4 58.5h0M83.4 58.8h0M69.5 63.3h0M68.9 64.2h0M82.5 68.1h0M82.7 67.0h0M77.5 47.0h0M78.4 47.5h0M75.9 49.7h0M76.0 48.6h0M81.8 53.5h0M81.9 52.4h0M82.6 46.0h0M83.4 45.2h0M67.9 68.0h0M68.9 68.3h0M85.3 49.8h0M84.2 49.6h0M100.1 34.7h0M100.0 35.8h0M73.0 63.2h0M73.3 62.1h0M75.8 51.4h0M75.8 52.5h0M77.4 59.5h0M76.8 60.4h0M70.7 57.8h0M69.7 57.8h0M73.7 64.6h0M74.5 63.8h0M95.4 35.1h0M95.1 36.2h0M73.1 65.8h0M72.0 66.0h0M80.7 52.8h0M81.8 52.9h0M99.2 37.2h0M98.4 36.4h0M76.4 54.9h0M77.3 55.4h0M71.9 70.0h0M70.8 69.9h0M86.5 52.0h0M86.9 51.0h0M79.2 51.2h0M78.3 50.6h0M83.9 52.2h0M83.7 51.1h0M100.0 33.7h0M98.9 33.9h0M70.0 57.8h0M69.4 58.8h0M72.9 60.5h0M73.7 59.7h0M75.3 72.0h0M75.9 71.1h0M87.2 43.2h0M87.4 44.3h0M88.9 47.7h0M89.3 48.8h0M69.7 72.5h0M70.7 72.9h0M68.5 63.8h0M69.1 64.7h0M72.4 70.0h0M71.9 69.1h0M69.5 70.7h0M70.4 70.2h0M70.8 67.5h0M71.9 67.8h0M84.0 42.7h0M83.0 42.6h0M87.7 38.3h0M87.9 39.4h0M86.5 35.4h0M87.6 35.3h0M74.5 49.3h0M75.3 50.1h0M82.0 50.0h0M81.8 51.1h0M80.3 65.7h0M80.3 66.8h0M82.9 43.4h0M83.9 43.9h0M69.8 62.0h0M70.4 61.1h0M70.6 66.2h0M69.7 65.6h0M78.6 48.9h0M79.6 48.4h0M77.6 72.1h0M77.5 71.0h0M76.4 72.6h0M75.9 71.7h0M85.6 51.0h0M85.3 52.0h0M82.4 42.3h0M82.9 41.3h0M69.0 66.0h0M68.9 67.1h0M70.7 66.1h0M70.9 65.1h0M95.9 39.0h0M95.7 40.0h0M95.4 35.8h0M95.1 36.9h0M85.8 45.0h0M86.9 44.8h0M92.2 30.8h0M91.1 30.6h0M93.0 40.6h0M93.0 39.5h0M84.7 40.3h0M84.9 39.3h0M75.4 54.6h0M74.4 54.2h0M76.0 69.2h0M76.2 68.1h0M84.8 41.4h0M84.7 40.3h0M79.8 66.5h0M79.1 67.4h0M100.1 32.4h0M100.0 33.5h0M81.9 45.5h0M82.9 45.9h0M81.1 47.2h0M81.9 46.5h0M70.8 66.9h0M70.0 67.7h0M86.4 36.5h0M86.5 35.4h0M95.0 29.0h0M96.0 28.5h0M102.9 33.0h0M103.2 34.1h0M78.8 61.7h0M79.6 62.5h0M92.3 41.0h0M91.2 41.1h0M74.9 69.6h0M75.1 68.5h0M82.9 51.8h0M83.6 52.7h0M83.1 47.8h0M84.2 48.2h0M101.5 28.1h0M101.7 27.0h0M85.3 53.0h0M84.5 52.3h0M75.9 70.0h0M76.5 70.9h0M79.2 48.5h0M78.1 48.7h0M83.0 38.5h0M82.0 38.8h0M80.1 46.6h0M79.0 46.7h0M86.9 36.6h0M87.6 35.7h0M75.4 63.5h0M74.9 64.4h0M86.4 36.1h0M86.6 37.2h0M75.4 72.9h0M74.4 73.4h0M74.2 70.9h0M73.2 70.4h0M81.6 42.6h0M82.3 41.8h0M81.0 65.3h0M80.6 66.3h0M81.6 70.5h0M81.9 71.5h0M101.5 28.7h0M100.8 27.9h0M97.0 28.9h0M98.1 28.8h0M77.1 60.9h0M76.1 60.5h0M103.8 28.5h0M104.9 28.2h0M83.9 50.1h0M84.1 49.0h0M90.6 42.7h0M90.0 43.6h0M97.7 31.2h0M98.7 31.4h0M75.8 46.3h0M76.9 46.5h0M93.0 32.5h0M94.1 32.8h0M89.1 44.3h0M90.1 44.9h0M72.7 68.4h0M72.3 67.4h0M86.9 37.5h0M87.6 38.4h0M77.3 63.5h0M76.6 62.7h0M76.8 55.0h0M77.3 54.0h0M93.4 35.9h0M92.8 36.8h0M82.3 52.8h0M82.8 53.7h0M73.2 59.8h0M73.7 58.8h0M78.8 72.2h0M77.9 72.8h0M81.6 45.8h0M80.7 46.5h0M96.0 36.6h0M97.1 36.3h0M83.0 65.9h0M82.9 67.0h0M70.2 56.5h0M69.2 56.2h0M99.2 34.3h0M98.8 33.3h0M82.9 66.6h0M83.5 67.5h0M87.4 45.2h0M86.8 44.2h0M96.6 28.7h0M97.3 27.8h0M91.1 41.6h0M91.9 42.4h0M83.3 58.1h0M82.5 58.8h0M86.1 37.5h0M85.5 38.4h0M91.8 30.3h0M92.3 31.3h0M86.8 44.7h0M86.4 43.7h0M73.8 73.2h0M73.6 74.3h0M96.7 34.3h0M96.4 33.3h0M98.1 33.7h0M99.2 33.7h0M86.9 42.0h0M88.0 42.3h0M73.0 70.4h0M72.6 71.5h0M73.9 64.1h0M74.1 63.1h0M92.1 43.6h0M93.1 44.0h0M70.9 73.5h0M72.0 73.4h0M80.9 63.0h0M81.4 64.0h0M96.1 29.1h0M96.4 30.1h0M75.6 54.3h0M75.7 55.4h0M72.3 71.2h0M71.2 71.0h0M71.1 56.6h0M72.0 57.2h0M83.1 39.5h0M83.1 38.4h0M88.7 43.2h0M89.8 43.6h0M77.0 69.6h0M77.9 68.8h0M69.7 63.6h0M68.6 64.0h0M74.4 55.6h0M74.0 54.5h0M98.6 35.4h0M97.5 35.2h0M69.0 68.3h0M69.1 69.4h0M79.9 61.7h0M80.9 62.2h0M94.5 39.4h0M95.3 38.8h0M77.6 57.1h0M76.8 56.3h0M101.3 27.9h0M102.1 27.1h0M76.0 69.3h0M75.1 68.7h0M83.8 60.9h0M84.0 62.0h0M75.8 56.6h0M75.1 57.3h0M71.1 70.8h0M71.3 69.7h0M81.4 64.9h0M81.5 66.0h0M70.2 67.4h0M70.1 68.5h0M91.7 40.6h0M92.7 41.1h0M96.4 36.9h0M97.4 36.4h0M77.8 60.8h0M76.7 60.8h0M83.8 63.7h0M84.5 62.9h0M88.1 37.1h0M89.2 37.2h0M99.2 35.0h0M98.5 35.9h0M73.9 50.7h0M75.0 50.6h0M77.1 71.6h0M78.2 71.6h0M71.7 57.2h0M71.6 58.3h0M91.2 43.9h0M91.4 45.0h0M101.8 31.0h0M101.2 31.9h0M81.8 68.9h0M81.8 67.8h0M80.9 42.8h0M81.9 43.4h0M87.3 34.7h0M88.3 34.4h0M71.2 72.4h0M72.3 72.1h0M74.8 57.1h0M75.9 57.3h0M82.4 63.8h0M81.7 64.7h0M72.1 55.7h0M71.3 54.9h0M79.5 56.7h0M78.4 56.3h0M91.3 38.9h0M92.4 39.0h0M74.2 57.5h0M73.9 56.4h0M73.6 63.6h0M74.7 63.7h0M74.8 59.5h0M74.9 60.6h0M71.7 73.4h0M71.1 72.4h0M78.0 45.8h0M78.7 46.7h0M83.3 60.0h0M84.3 59.5h0M76.1 61.7h0M76.0 60.6h0M75.4 64.8h0M76.2 64.1h0M72.2 63.1h0M71.3 63.7h0M85.4 54.2h0M85.9 55.2h0M81.0 56.5h0M80.2 57.2h0M85.1 40.8h0M86.0 40.2h0M78.4 49.7h0M77.3 49.8h0M69.7 65.6h0M70.2 66.6h0M72.4 66.0h0M71.4 66.3h0M92.7 38.9h0M92.3 39.9h0M76.0 63.6h0M75.1 64.2h0M96.7 49.1h0M97.8 48.8h0M93.1 52.0h0M93.1 53.1h0M97.4 50.3h0M97.2 49.2h0M94.2 51.8h0M93.1 51.8h0"/>
<path stroke="#2ae8ea" stroke-width="1.5" stroke-linecap="square" d="M114.0 102.0h0M113.5 103.0h0M112.5 97.6h0M111.4 97.3h0M119.8 106.5h0M119.8 107.6h0M113.3 85.3h0M114.1 86.0h0M114.6 90.1h0M114.5 89.0h0M119.6 104.4h0M118.5 104.5h0M118.9 83.7h0M118.5 82.7h0M117.9 92.4h0M119.0 92.5h0M112.7 86.8h0M111.6 86.6h0M131.9 103.5h0M131.4 104.5h0M123.4 106.8h0M122.8 105.9h0M128.9 99.8h0M129.9 99.4h0M124.2 96.9h0M123.1 96.9h0M111.1 99.3h0M111.3 100.4h0M125.5 103.1h0M125.5 102.0h0M112.9 89.5h0M112.0 90.0h0M119.7 88.8h0M120.8 88.6h0M121.5 106.8h0M121.3 107.8h0M121.4 100.1h0M120.7 100.9h0M119.8 103.6h0M118.9 103.0h0M118.1 97.4h0M119.1 97.9h0M113.0 83.7h0M112.1 83.0h0M115.6 92.0h0M116.7 91.7h0M117.6 91.8h0M118.3 92.6h0M127.0 106.3h0M126.2 107.0h0M126.3 98.6h0M127.3 99.1h0M120.2 95.9h0M121.3 96.3h0M118.4 98.7h0M117.3 98.7h0M114.6 104.0h0M113.5 103.7h0M121.8 108.8h0M122.6 109.7h0M128.7 105.6h0M129.6 104.9h0M116.3 90.3h0M115.8 91.3h0M126.4 93.6h0M125.8 92.6h0M127.9 109.6h0M126.9 109.5h0M129.4 108.3h0M128.3 108.2h0M113.7 95.9h0M114.7 96.4h0M115.2 94.1h0M114.7 95.1h0M117.7 92.5h0M118.7 92.1h0M129.8 104.8h0M130.8 104.6h0M117.6 90.6h0M118.7 90.4h0M115.8 104.2h0M115.5 105.2h0M113.9 98.7h0M115.0 98.6h0M125.7 106.1h0M125.9 107.2h0M126.6 103.0h0M125.5 103.1h0M122.3 109.3h0M123.4 109.3h0M115.5 100.1h0M115.6 101.2h0M121.9 89.0h0M121.1 88.2h0M128.1 102.9h0M127.6 101.9h0M121.8 105.1h0M122.3 104.2h0M116.3 91.3h0M117.3 91.7h0M130.3 98.5h0M130.6 99.5h0M118.7 96.7h0M119.0 95.6h0M119.6 108.6h0M119.8 109.6h0M114.5 98.8h0M115.4 98.2h0M118.3 107.7h0M118.0 108.7h0M123.6 88.9h0M124.7 88.8h0M127.3 95.4h0M128.2 94.8h0M130.1 103.5h0M131.1 103.3h0M121.0 91.0h0M122.1 90.9h0M117.7 91.1h0M118.8 91.2h0M114.7 89.3h0M115.5 88.5h0M126.3 107.8h0M125.2 108.0h0M125.3 93.3h0M125.7 92.3h0M114.6 82.9h0M115.4 83.7h0M114.0 99.3h0M114.8 98.7h0M124.9 104.0h0M124.0 104.7h0M128.8 93.5h0M129.0 92.4h0M121.7 93.7h0M121.3 92.7h0M113.4 89.7h0M114.1 88.9h0M119.2 107.5h0M118.2 108.0h0M114.6 92.4h0M114.2 93.4h0M126.7 91.5h0M127.4 92.3h0M121.0 101.2h0M120.7 102.3h0M121.0 94.3h0M120.3 95.2h0M117.7 94.5h0M116.6 94.8h0M121.7 89.5h0M122.3 90.4h0M127.7 97.1h0M128.4 96.3h0M111.3 91.4h0M110.4 90.8h0M130.8 98.0h0M131.6 97.3h0M115.9 90.6h0M116.5 89.7h0M118.3 99.4h0M119.3 99.2h0M121.4 100.6h0M120.9 99.6h0M126.2 105.4h0M125.3 106.0h0M117.7 106.4h0M117.4 107.5h0M113.3 99.0h0M112.3 98.6h0M127.3 92.3h0M127.5 91.2h0M111.9 91.3h0M113.0 91.3h0M123.0 100.7h0M123.8 99.9h0M114.1 101.4h0M114.8 100.5h0M133.0 105.8h0M134.1 105.6h0M112.3 95.3h0M112.7 96.4h0M114.4 93.2h0M113.3 93.5h0M118.1 84.7h0M118.8 83.9h0M125.2 91.8h0M126.3 91.8h0M123.7 93.5h0M123.3 92.5h0M120.7 99.0h0M119.9 99.7h0M115.5 101.5h0M115.2 102.6h0M120.1 89.4h0M119.8 90.4h0M112.7 89.6h0M111.7 89.1h0M114.7 92.4h0M114.5 93.5h0M126.4 105.8h0M127.2 106.5h0M119.1 86.4h0M119.7 85.5h0M121.0 87.3h0M121.0 88.4h0M114.1 93.6h0M113.0 93.5h0M127.4 95.1h0M127.9 96.1h0"/>
<path stroke="#f82b2b" stroke-width="1.5" stroke-linecap="square" d="M119.6 75.4h0M119.8 76.5h0M135.6 45.7h0M136.5 46.4h0M134.4 48.9h0M135.0 49.9h0M129.9 52.9h0M129.0 52.2h0M132.1 51.8h0M132.9 52.6h0M120.2 57.1h0M119.6 58.0h0M114.3 69.2h0M114.0 70.3h0M119.4 56.0h0M119.1 57.0h0M114.5 69.4h0M115.6 69.5h0M120.5 73.1h0M119.4 73.3h0M115.9 71.3h0M116.1 70.2h0M123.1 64.2h0M122.2 64.9h0M119.2 55.3h0M120.3 55.1h0M128.6 54.9h0M127.6 54.4h0M126.0 51.8h0M125.0 51.2h0M132.7 51.4h0M133.6 52.0h0M125.1 76.0h0M125.4 77.0h0M121.2 63.3h0M121.5 64.4h0M136.2 52.5h0M135.4 51.8h0M120.5 57.3h0M120.2 58.4h0M122.0 55.9h0M122.7 55.0h0M115.5 56.9h0M115.5 58.0h0M126.8 57.2h0M126.4 56.2h0M112.7 59.8h0M113.8 59.6h0M119.5 60.5h0M119.4 61.6h0M121.8 76.3h0M121.2 77.2h0M117.4 72.5h0M118.0 71.6h0M118.2 54.3h0M117.4 53.6h0M128.2 52.0h0M129.3 51.9h0M127.8 72.8h0M127.6 73.9h0M127.8 56.0h0M127.9 57.1h0M129.0 74.7h0M127.9 74.4h0M120.7 68.1h0M121.4 67.3h0M118.9 63.7h0M119.9 64.2h0M114.8 58.3h0M115.9 58.5h0M119.4 75.1h0M118.9 74.1h0M122.6 75.5h0M123.6 76.0h0M121.6 66.9h0M122.0 65.9h0M115.4 73.4h0M114.4 73.8h0M123.4 70.2h0M122.9 71.1h0M130.5 54.7h0M129.8 55.6h0M125.3 75.9h0M124.2 75.7h0M124.0 66.4h0M122.9 66.5h0M128.3 77.8h0M128.0 78.8h0M118.0 58.3h0M119.0 57.9h0M117.2 73.5h0M116.9 74.5h0M127.8 54.0h0M127.7 52.9h0M111.4 63.2h0M110.4 63.8h0M123.8 64.3h0M122.9 65.0h0M128.8 51.7h0M127.7 51.7h0M114.2 65.3h0M113.2 65.8h0M119.0 68.0h0M118.5 69.0h0M119.4 57.4h0M119.8 58.5h0M114.7 62.0h0M115.8 62.1h0M127.8 78.3h0M128.6 77.5h0M121.7 75.0h0M122.7 75.4h0M118.1 53.5h0M118.1 52.4h0M133.8 51.5h0M133.1 52.3h0M130.9 52.6h0M130.3 53.5h0M125.1 70.3h0M126.1 70.8h0M121.6 69.3h0M121.2 68.3h0M119.2 64.1h0M120.2 63.6h0M113.9 69.8h0M112.9 69.5h0M121.8 70.8h0M120.8 70.3h0M122.5 71.6h0M121.9 70.7h0M124.4 50.4h0M125.1 49.6h0M129.9 50.0h0M129.2 49.1h0M125.1 59.2h0M124.7 58.2h0M118.1 76.0h0M119.1 75.6h0M133.9 53.6h0M132.8 53.8h0M134.5 52.1h0M133.6 51.5h0M136.3 47.8h0M137.4 48.1h0M117.6 69.7h0M117.9 68.7h0M120.3 53.8h0M119.9 52.7h0M127.1 55.5h0M127.6 54.6h0M122.6 53.9h0M123.6 54.4h0M121.3 71.6h0M122.4 71.7h0M110.9 64.0h0M109.8 64.1h0M122.9 59.7h0M122.2 60.6h0M118.6 62.3h0M118.1 63.3h0M122.5 65.7h0M121.7 66.6h0M123.5 56.7h0M123.1 55.7h0M114.3 65.5h0M115.4 66.0h0M124.6 73.1h0M123.7 73.8h0M114.9 66.0h0M115.9 65.5h0M128.4 52.3h0M128.7 53.4h0M124.9 79.0h0M125.8 79.6h0M124.7 57.5h0M125.3 56.6h0M123.6 77.3h0M122.5 77.6h0M131.2 49.6h0M131.0 50.6h0M121.2 56.6h0M120.2 56.2h0M127.1 51.2h0M126.6 50.2h0M126.2 54.5h0M125.8 53.5h0M119.8 53.0h0M118.7 53.2h0M114.8 61.3h0M113.7 61.2h0M125.7 60.9h0M124.6 60.5h0M131.3 51.0h0M132.2 51.6h0M131.9 48.5h0M131.5 47.5h0M113.8 59.6h0M114.9 59.9h0M113.1 61.3h0M114.1 60.9h0M124.5 66.9h0M124.0 66.0h0M123.1 51.4h0M122.0 51.6h0M113.5 63.0h0M113.7 64.1h0M119.2 59.2h0M119.3 60.3h0M111.5 59.1h0M111.2 60.1h0M119.0 56.1h0M117.9 56.2h0M122.3 68.4h0M121.2 68.3h0M110.8 57.7h0M109.7 57.8h0M123.5 60.0h0M123.3 58.9h0M147.5 61.5h0M147.7 60.4h0M152.4 74.4h0M153.4 74.1h0M162.0 65.1h0M162.5 64.1h0M165.0 73.2h0M166.1 73.0h0M148.8 63.1h0M149.9 62.9h0M151.8 57.0h0M151.1 56.2h0M157.3 72.2h0M156.5 73.0h0M156.8 74.9h0M157.8 74.4h0M142.2 76.6h0M142.9 75.8h0M149.3 52.1h0M148.8 53.2h0M149.8 62.1h0M149.2 63.1h0M160.3 74.7h0M160.6 75.7h0M151.7 64.8h0M150.7 64.7h0M156.2 71.0h0M156.3 69.9h0M167.1 62.3h0M167.6 63.2h0M154.1 75.9h0M154.8 76.8h0M166.5 66.2h0M167.4 65.5h0M146.7 51.1h0M146.1 52.0h0M162.2 67.2h0M162.6 68.2h0M160.6 58.2h0M159.5 58.3h0M147.9 73.0h0M148.7 72.2h0M145.9 57.6h0M144.8 57.5h0M149.5 59.4h0M149.1 60.4h0M167.7 61.1h0M166.8 61.8h0M154.4 66.0h0M154.7 64.9h0M151.0 74.9h0M152.0 74.5h0M166.3 79.4h0M165.2 79.5h0M162.5 65.0h0M162.3 66.1h0M144.7 77.0h0M144.5 75.9h0M163.8 65.8h0M163.0 66.5h0M163.7 69.7h0M162.7 70.0h0M151.2 74.8h0M150.2 74.7h0M162.0 57.4h0M163.1 57.6h0M163.4 69.6h0M162.3 69.7h0M166.1 64.8h0M165.4 65.5h0M150.6 66.1h0M150.6 67.2h0M158.3 71.0h0M159.4 70.7h0M151.9 69.1h0M153.0 69.2h0M148.8 75.3h0M148.1 74.4h0M155.7 60.8h0M156.4 61.6h0M141.0 53.4h0M141.2 54.5h0M160.6 69.4h0M160.3 68.3h0M162.6 62.9h0M161.7 62.2h0M167.4 60.3h0M166.6 61.0h0M162.9 59.4h0M162.2 60.2h0M146.6 56.6h0M147.5 56.0h0M165.9 73.1h0M166.4 74.1h0M153.4 66.3h0M153.5 65.2h0M139.9 50.9h0M140.8 50.2h0M146.2 57.6h0M146.6 56.6h0M157.5 66.4h0M158.4 67.0h0M147.7 54.7h0M148.3 53.8h0M158.1 72.2h0M157.0 72.2h0M161.1 77.2h0M162.2 77.2h0M164.1 63.2h0M163.5 64.1h0M145.9 74.6h0M144.9 75.0h0M166.8 68.6h0M165.8 69.1h0M146.8 53.5h0M145.8 54.1h0M140.9 54.8h0M141.7 55.7h0M154.0 66.9h0M155.0 66.4h0M166.2 65.8h0M167.1 65.2h0M152.3 55.6h0M151.9 56.7h0M165.3 64.3h0M166.4 64.5h0M154.9 77.5h0M155.7 76.7h0M147.1 59.8h0M148.1 59.3h0M167.8 73.3h0M168.7 74.0h0M151.9 53.8h0M152.4 52.9h0M157.7 73.3h0M157.6 72.2h0M151.4 54.2h0M152.2 55.0h0M142.5 55.3h0M142.2 54.2h0M165.6 80.3h0M165.5 81.4h0M159.1 66.1h0M158.6 67.1h0M153.7 77.6h0M154.5 76.8h0M144.7 67.1h0M144.6 68.2h0M152.4 53.4h0M153.4 53.7h0M165.5 65.6h0M165.7 66.7h0M161.5 57.9h0M160.4 57.8h0M146.5 59.6h0M146.9 58.6h0M144.4 50.9h0M144.5 49.8h0M169.3 72.7h0M170.4 73.0h0M159.6 75.7h0M158.5 76.1h0M147.0 54.1h0M148.0 53.6h0M168.9 62.3h0M169.8 61.7h0M148.4 59.8h0M149.5 59.8h0M154.3 69.2h0M155.3 68.7h0M147.9 66.9h0M147.6 65.8h0M170.0 72.5h0M168.9 72.6h0M163.4 76.8h0M162.9 75.7h0M146.7 60.2h0M147.4 61.1h0M144.4 54.8h0M143.3 54.6h0M142.5 55.2h0M143.5 55.5h0M145.4 64.7h0M144.4 64.5h0M156.1 75.5h0M155.7 76.5h0M161.7 66.9h0M160.8 66.3h0M160.0 61.8h0M161.1 61.8h0M162.9 62.3h0M162.6 63.4h0M148.0 66.8h0M149.1 66.6h0M144.9 75.9h0M145.6 76.7h0M162.1 76.6h0M162.3 77.7h0M166.9 66.9h0M166.0 66.2h0M144.1 68.6h0M143.4 67.8h0M142.5 75.0h0M141.8 74.1h0M149.3 68.2h0M148.2 68.1h0M160.0 62.4h0M159.9 61.3h0M161.0 76.4h0M159.9 76.2h0M153.8 56.9h0M153.3 55.9h0M141.0 71.4h0M140.5 72.4h0M139.5 52.3h0M138.6 53.0h0M163.8 67.7h0M163.8 68.8h0M154.3 67.4h0M154.1 66.3h0M154.7 55.0h0M155.8 54.8h0M154.0 58.2h0M153.9 59.3h0M151.0 61.6h0M150.9 60.5h0M143.6 53.4h0M143.0 52.5h0M167.5 68.8h0M167.2 67.8h0M152.8 70.8h0M152.3 69.9h0M150.7 62.3h0M149.7 62.7h0M156.2 73.3h0M155.8 74.3h0M150.5 53.2h0M149.8 52.4h0M166.6 76.9h0M166.3 75.9h0M156.1 61.5h0M156.2 62.6h0M149.7 56.0h0M150.1 55.0h0M143.6 50.3h0M144.7 50.5h0M164.4 63.0h0M163.8 63.9h0M164.4 74.0h0M164.0 75.0h0M167.5 60.1h0M166.4 59.8h0M158.8 60.8h0M159.1 59.8h0M153.8 74.1h0M153.6 75.2h0M159.8 70.6h0M158.7 70.4h0M149.7 65.0h0M149.3 66.1h0M148.5 55.8h0M148.3 56.9h0M164.7 82.0h0M163.9 82.8h0M160.9 68.6h0M161.8 68.0h0M142.3 84.6h0M141.2 84.8h0M146.8 87.7h0M147.5 86.8h0M145.3 80.5h0M144.4 79.9h0M142.5 89.2h0M143.3 89.9h0M142.7 79.4h0M141.7 79.9h0M141.6 88.5h0M141.2 87.5h0M143.3 87.0h0M142.2 86.9h0M142.7 80.2h0M143.8 79.9h0M141.8 87.5h0M141.2 88.5h0M140.5 78.4h0M141.1 79.4h0M142.5 86.5h0M142.0 87.5h0M143.8 81.2h0M143.4 82.2h0M146.5 87.9h0M146.6 86.8h0M142.7 84.9h0M142.1 85.8h0M144.5 81.8h0M145.1 82.7h0M142.1 86.0h0M141.5 85.1h0M143.9 79.9h0M143.7 78.8h0M146.6 90.2h0M147.7 90.2h0M146.5 90.3h0M147.6 90.5h0M147.4 90.1h0M148.5 90.0h0M146.7 93.3h0M145.6 93.3h0M146.6 89.3h0M146.2 90.4h0M142.3 89.0h0M141.6 88.1h0M141.3 91.1h0M142.3 90.7h0M143.7 81.0h0M143.6 79.9h0"/>
<path stroke="#9a2eec" stroke-width="1.5" stroke-linecap="square" d="M145.5 148.0h0M145.3 149.1h0M136.3 134.8h0M135.2 134.4h0M143.3 158.6h0M143.2 157.5h0M126.9 124.3h0M125.8 124.1h0M138.7 138.3h0M138.8 139.4h0M150.0 162.8h0M149.2 163.6h0M149.7 144.3h0M150.5 145.0h0M121.0 118.1h0M119.9 118.0h0M130.7 159.4h0M131.2 160.4h0M107.1 146.2h0M107.5 147.2h0M98.6 137.2h0M98.3 138.2h0M106.8 120.9h0M107.9 120.8h0M109.0 145.5h0M109.0 144.4h0M139.6 138.0h0M138.5 138.1h0M129.6 133.5h0M130.1 132.6h0M150.4 142.7h0M151.2 141.9h0M132.6 141.0h0M131.6 141.3h0M136.3 144.3h0M135.6 145.1h0M147.5 137.0h0M146.5 136.5h0M98.9 143.0h0M98.6 141.9h0M104.8 148.3h0M105.3 147.3h0M138.1 131.9h0M137.1 131.5h0M142.8 144.3h0M142.1 143.4h0M115.4 155.5h0M115.7 156.6h0M144.9 135.8h0M144.6 136.8h0M135.9 140.2h0M135.1 140.8h0M108.4 117.1h0M107.4 116.5h0M119.6 143.1h0M120.6 143.6h0M126.2 140.3h0M125.2 140.7h0M138.3 161.6h0M138.4 160.5h0M116.9 115.7h0M116.8 116.8h0M150.5 159.0h0M149.9 158.1h0M145.8 136.7h0M144.7 136.8h0M115.4 138.5h0M115.6 137.4h0M119.1 133.8h0M118.3 133.2h0M139.0 130.0h0M139.9 129.4h0M112.6 140.5h0M112.8 139.4h0M98.4 122.0h0M98.7 120.9h0M111.5 138.8h0M110.8 138.0h0M151.9 135.3h0M152.4 134.3h0M101.1 139.0h0M101.9 139.8h0M129.1 126.9h0M128.0 126.9h0M152.3 144.2h0M151.8 145.2h0M139.3 155.5h0M139.2 156.6h0M112.4 135.9h0M113.0 135.0h0M141.6 153.2h0M140.5 153.1h0M117.6 136.5h0M117.7 137.6h0M104.8 126.8h0M104.3 125.9h0M106.9 111.8h0M107.9 112.1h0M102.2 130.2h0M101.2 129.9h0M115.4 151.4h0M116.1 152.2h0M152.4 160.0h0M153.2 160.6h0M104.9 128.2h0M104.9 127.1h0M133.3 127.8h0M134.2 128.5h0M148.1 138.3h0M148.1 137.2h0M138.5 132.3h0M138.6 131.3h0M103.0 126.8h0M103.8 126.0h0M134.4 140.3h0M135.4 139.9h0M124.5 136.6h0M123.6 136.1h0M126.5 124.4h0M125.7 125.2h0M107.4 122.8h0M106.9 123.8h0M150.3 151.6h0M151.3 151.1h0M127.1 137.5h0M126.4 138.4h0M152.7 145.1h0M153.7 145.5h0M139.6 158.1h0M138.8 158.9h0M144.7 148.6h0M143.6 148.5h0M155.3 141.7h0M154.8 140.7h0M119.4 137.9h0M119.9 138.9h0M148.0 148.7h0M147.0 148.4h0M131.0 147.3h0M131.8 146.5h0M145.0 159.3h0M146.1 159.2h0M118.1 135.1h0M117.6 134.2h0M139.4 127.8h0M138.3 127.4h0M146.9 153.9h0M148.0 153.9h0M115.5 117.6h0M116.6 117.7h0M109.5 136.6h0M108.6 137.3h0M122.9 117.4h0M123.4 118.4h0M141.8 154.8h0M141.1 154.0h0M113.7 134.0h0M114.3 133.1h0M150.9 149.4h0M151.9 149.2h0M140.3 138.2h0M140.5 137.2h0M132.4 153.6h0M133.3 154.1h0M98.0 137.2h0M98.0 138.3h0M119.0 135.4h0M118.3 134.6h0M112.0 120.7h0M111.5 119.7h0M149.5 164.8h0M150.6 165.1h0M98.2 124.0h0M98.2 125.1h0M110.2 136.3h0M109.1 136.1h0M102.0 128.6h0M101.0 128.9h0M145.3 157.0h0M145.0 156.0h0M103.2 147.1h0M102.5 147.9h0M124.8 121.6h0M125.7 122.1h0M138.8 145.0h0M138.0 145.8h0M143.6 138.7h0M142.8 137.9h0M142.3 140.2h0M141.2 140.4h0M127.3 158.5h0M128.3 158.9h0M126.2 142.5h0M125.9 141.5h0M126.9 148.3h0M127.8 148.8h0M144.4 148.2h0M144.2 149.3h0M113.8 129.8h0M113.6 130.9h0M157.5 151.4h0M158.3 150.6h0M133.8 164.1h0M134.8 164.7h0M120.1 129.7h0M120.9 130.5h0M151.2 161.1h0M152.2 161.7h0M107.0 129.4h0M106.0 129.0h0M102.2 146.7h0M103.2 147.2h0M138.5 128.5h0M139.3 127.7h0M142.2 159.4h0M143.3 159.3h0M155.8 146.6h0M154.9 145.9h0M112.3 133.7h0M111.6 134.5h0M156.4 151.4h0M155.3 150.9h0M105.9 123.6h0M104.8 123.4h0M99.5 121.1h0M98.5 121.6h0M103.0 131.2h0M104.1 131.0h0M144.6 140.2h0M145.7 140.4h0M140.3 138.2h0M139.7 139.1h0M112.2 121.5h0M111.5 122.3h0M96.5 136.6h0M95.4 137.0h0M140.0 148.4h0M139.3 147.5h0M135.5 148.9h0M134.9 149.8h0M127.6 146.3h0M126.6 145.8h0M126.9 153.1h0M126.2 152.2h0M128.9 133.4h0M128.2 132.6h0M108.1 126.8h0M107.1 127.2h0M123.5 157.6h0M122.8 156.7h0M141.5 153.9h0M142.5 154.3h0M155.3 143.9h0M154.5 143.2h0M100.7 142.3h0M99.7 142.6h0M136.0 152.1h0M136.8 151.3h0M131.2 143.6h0M131.6 144.6h0M139.0 150.5h0M139.8 151.3h0M124.7 152.5h0M123.9 153.2h0M120.9 147.3h0M121.8 146.6h0M127.1 155.0h0M127.8 154.1h0M107.4 118.5h0M107.6 119.5h0M138.6 162.2h0M137.7 162.9h0M121.6 146.8h0M120.9 146.0h0M113.1 139.4h0M114.2 139.1h0M119.6 115.2h0M118.8 116.0h0M104.8 113.9h0M105.5 113.1h0M129.0 130.0h0M129.5 131.0h0M132.3 124.5h0M132.8 125.5h0M118.5 141.8h0M117.7 142.5h0M126.6 151.7h0M125.6 151.2h0M118.5 150.3h0M118.9 151.3h0M105.2 129.7h0M105.8 130.6h0M154.4 162.8h0M153.6 163.5h0M144.0 146.1h0M143.4 145.2h0M99.0 139.0h0M98.0 138.5h0M105.7 141.8h0M106.4 142.6h0M146.3 163.5h0M145.9 164.5h0M120.9 136.3h0M120.2 137.1h0M112.1 119.6h0M113.2 119.2h0M150.5 141.1h0M149.6 140.7h0M139.5 135.5h0M140.4 136.2h0M114.4 156.5h0M115.5 156.6h0M114.9 133.3h0M113.8 133.0h0M127.8 142.1h0M126.7 142.0h0M125.4 152.5h0M125.5 151.4h0M138.7 141.0h0M139.3 140.0h0M98.3 120.1h0M98.8 119.1h0M103.0 134.5h0M103.3 133.4h0M108.2 121.7h0M108.8 120.7h0M131.2 137.3h0M132.2 137.8h0M116.0 140.1h0M115.4 141.0h0M116.0 156.9h0M115.1 156.2h0M125.6 137.8h0M125.7 138.9h0M126.1 135.2h0M125.1 134.8h0M120.4 138.1h0M119.4 137.6h0M127.3 119.3h0M126.2 119.0h0M106.5 136.7h0M107.4 136.1h0M110.7 154.9h0M109.8 154.3h0M95.0 123.9h0M94.0 123.4h0M150.8 164.5h0M150.4 163.4h0M125.1 122.4h0M126.1 122.8h0M141.2 142.4h0M140.1 142.4h0M143.1 136.3h0M143.8 135.5h0M107.4 124.6h0M107.0 123.6h0M132.1 138.7h0M132.5 139.7h0M114.2 147.4h0M115.0 146.6h0M125.1 117.5h0M125.7 116.6h0M148.1 147.4h0M147.6 146.4h0M132.2 164.3h0M132.0 163.2h0M154.1 146.9h0M154.8 147.8h0M141.8 143.5h0M141.6 142.4h0M141.8 135.6h0M140.9 136.2h0M111.3 124.4h0M110.7 123.4h0M141.6 155.9h0M142.4 156.6h0M121.8 129.4h0M122.3 130.4h0M113.1 149.9h0M112.3 149.1h0M137.4 154.3h0M137.1 155.4h0M140.1 127.4h0M139.9 126.3h0M121.5 125.6h0M122.4 126.3h0M128.1 126.6h0M127.7 125.6h0M139.5 149.3h0M138.4 149.7h0M127.5 122.7h0M126.8 121.9h0M135.4 138.3h0M136.4 138.7h0M134.8 162.1h0M133.7 162.1h0M144.7 163.8h0M144.0 164.7h0M127.9 154.0h0M127.0 154.6h0M130.1 150.5h0M129.1 150.9h0M140.8 130.8h0M139.7 130.8h0M117.1 139.5h0M116.0 139.9h0M110.9 126.3h0M112.0 126.2h0M126.1 150.9h0M125.1 150.7h0M119.4 142.5h0M118.7 143.3h0M131.8 135.7h0M132.4 134.8h0M115.7 146.7h0M114.6 146.6h0M111.2 141.3h0M110.1 141.6h0M142.4 145.1h0M143.5 144.9h0M125.2 152.4h0M126.0 153.2h0M146.5 135.1h0M146.5 134.0h0M117.7 122.5h0M117.9 123.6h0M97.7 125.0h0M97.6 126.1h0M112.3 142.9h0M112.7 141.9h0M108.2 119.7h0M107.8 120.7h0M137.2 159.6h0M137.5 160.7h0M101.4 127.6h0M101.4 128.7h0M118.1 150.6h0M117.2 149.8h0M121.2 146.3h0M120.4 147.1h0M150.7 159.7h0M150.7 158.6h0M151.7 148.9h0M151.6 147.8h0M141.1 154.5h0M140.1 154.7h0M133.5 131.0h0M134.4 130.5h0M121.2 135.2h0M120.5 136.1h0M148.2 132.7h0M149.1 132.0h0M156.0 151.7h0M155.0 151.3h0M152.5 163.3h0M152.9 162.3h0M116.8 153.5h0M116.8 152.4h0M146.8 152.7h0M146.0 153.4h0M145.1 137.7h0M146.0 138.4h0M140.8 151.6h0M140.5 150.6h0M117.6 148.2h0M118.4 148.9h0M154.0 153.7h0M153.3 152.8h0M122.1 143.9h0M122.8 143.1h0M151.5 142.0h0M152.1 142.9h0M139.9 152.2h0M138.8 152.0h0M148.7 158.9h0M147.6 159.2h0M125.7 139.1h0M126.6 139.8h0M134.3 164.6h0M135.3 164.3h0M143.0 131.1h0M143.9 131.9h0M137.5 130.4h0M137.0 129.4h0M112.2 110.0h0M112.9 109.2h0M135.6 156.3h0M135.1 157.3h0M140.3 156.8h0M141.1 157.6h0M117.0 129.5h0M116.9 130.6h0M144.4 141.1h0M143.7 140.3h0M142.7 159.2h0M141.6 159.2h0M108.3 123.7h0M109.4 123.6h0M122.6 145.9h0M123.5 145.1h0M117.0 142.6h0M116.6 143.6h0M114.8 124.4h0M113.8 124.1h0M141.5 152.0h0M140.4 152.0h0M147.5 140.7h0M147.3 139.6h0M129.9 160.8h0M129.1 161.6h0M134.0 132.5h0M134.7 131.6h0M133.4 132.8h0M132.6 133.5h0M114.0 124.1h0M113.2 123.4h0M111.3 139.6h0M110.4 139.0h0M112.3 130.7h0M111.4 131.3h0M100.1 129.2h0M99.0 129.6h0M141.9 145.5h0M141.0 146.2h0M135.5 138.2h0M135.1 139.1h0M112.9 132.0h0M113.7 132.9h0M115.9 134.4h0M117.0 134.3h0M116.8 154.5h0M117.8 154.0h0M112.2 142.2h0M113.2 141.9h0M124.9 120.1h0M124.8 119.0h0M108.1 123.2h0M107.4 122.3h0M151.2 158.7h0M151.8 157.7h0M122.5 121.5h0M121.7 122.2h0M100.0 132.6h0M101.1 132.8h0M113.7 137.4h0M114.6 138.1h0M126.8 154.4h0M127.9 154.3h0M110.7 124.0h0M110.3 123.0h0M153.7 150.4h0M154.2 149.4h0M99.0 140.9h0M99.5 139.9h0M123.4 154.8h0M124.1 154.0h0M127.8 143.0h0M127.3 144.0h0M139.1 156.2h0M139.4 155.1h0M129.3 142.7h0M130.4 142.9h0M122.9 118.6h0M122.4 117.6h0M140.9 151.0h0M142.0 151.0h0M97.8 129.0h0M97.2 128.1h0M108.2 111.7h0M107.1 111.8h0M128.5 135.5h0M127.5 135.8h0M127.9 124.3h0M127.3 123.4h0M103.8 132.7h0M102.9 133.3h0M142.6 136.9h0M142.7 138.0h0M140.6 160.4h0M141.6 160.0h0M122.1 138.4h0M121.1 138.9h0M110.4 111.9h0M109.6 112.7h0M138.4 134.5h0M138.5 135.6h0M111.4 112.6h0M111.8 111.6h0M144.3 143.9h0M145.4 144.0h0M130.0 162.7h0M129.0 162.3h0M138.2 150.7h0M137.3 150.1h0M138.1 152.8h0M138.4 151.7h0M98.8 140.8h0M98.3 139.8h0M141.1 134.3h0M142.2 133.9h0M133.1 158.1h0M132.1 158.6h0M138.2 145.7h0M139.2 146.2h0M134.5 156.5h0M133.8 157.3h0M104.5 146.6h0M104.9 145.5h0M111.1 137.2h0M111.3 136.1h0M140.9 141.7h0M141.9 142.0h0M142.2 140.6h0M142.0 139.5h0M134.7 129.8h0M133.7 129.4h0M147.5 152.0h0M146.7 151.2h0M101.7 147.4h0M102.6 148.0h0M136.1 164.7h0M136.8 163.8h0M146.7 162.4h0M145.7 162.1h0M117.7 149.6h0M117.7 148.5h0M123.1 117.9h0M123.0 116.8h0M134.5 146.4h0M135.1 147.4h0M129.3 144.8h0M128.4 144.1h0M147.5 144.9h0M148.1 143.9h0M124.6 138.8h0M123.5 138.8h0M123.0 126.4h0M122.9 125.3h0M114.2 114.6h0M115.3 114.5h0M142.8 137.5h0M141.9 138.0h0M103.0 148.1h0M103.6 147.2h0M129.7 143.6h0M129.8 144.7h0M117.7 150.9h0M117.2 151.8h0M105.7 135.7h0M106.4 136.6h0M116.4 144.5h0M117.5 144.3h0M137.7 135.7h0M136.6 136.1h0M99.9 144.0h0M101.0 144.3h0M140.0 133.7h0M141.1 133.9h0M138.8 140.8h0M138.0 140.1h0M109.7 148.4h0M108.6 148.3h0M155.8 142.5h0M155.4 143.5h0M143.7 130.9h0M142.6 130.9h0M145.7 133.2h0M146.2 134.1h0M105.3 126.4h0M104.8 127.4h0M133.8 131.8h0M134.6 131.0h0M102.4 143.7h0M103.5 143.7h0M150.5 156.3h0M150.6 155.2h0M115.1 139.2h0M116.1 138.7h0M150.8 147.4h0M151.9 147.5h0M118.4 132.4h0M118.2 133.5h0M139.7 159.1h0M140.0 158.0h0M146.1 132.7h0M147.1 133.1h0M121.5 143.6h0M121.3 144.7h0M119.8 133.1h0M119.2 132.1h0M116.8 138.5h0M116.3 139.5h0M142.1 138.4h0M142.4 137.3h0M130.2 123.2h0M131.1 122.5h0M117.4 120.2h0M116.4 120.6h0M129.1 140.7h0M128.4 139.9h0M98.1 120.9h0M97.9 119.8h0M142.1 132.2h0M142.8 133.0h0M130.5 161.4h0M129.9 162.3h0M137.7 160.9h0M138.0 159.8h0M100.8 146.2h0M100.6 145.1h0M113.0 120.9h0M113.7 120.1h0M139.5 161.2h0M140.5 161.7h0M139.9 137.4h0M139.6 138.5h0M107.9 152.1h0M108.9 152.6h0M145.7 139.9h0M144.6 139.8h0M120.2 140.1h0M120.7 139.1h0M103.5 142.8h0M104.6 142.4h0M124.0 126.6h0M125.1 126.3h0M108.0 126.0h0M108.2 124.9h0M130.7 145.2h0M131.7 145.7h0M122.5 159.3h0M123.6 159.5h0M98.5 129.7h0M98.1 128.7h0M119.4 145.9h0M118.3 145.9h0M120.7 158.3h0M121.8 158.3h0M115.9 141.1h0M115.5 140.1h0M153.4 148.8h0M153.2 149.9h0M124.1 130.3h0M123.7 129.2h0M129.0 125.0h0M128.9 123.9h0M154.8 142.1h0M155.0 143.1h0M153.8 148.5h0M153.0 147.6h0M147.1 145.6h0M147.3 146.7h0M142.4 140.4h0M142.1 141.4h0M143.7 147.6h0M144.1 146.6h0M151.6 147.7h0M151.4 146.7h0M146.6 143.4h0M145.6 143.8h0M95.4 132.8h0M95.1 131.7h0M116.9 143.8h0M117.1 142.7h0M147.4 136.3h0M147.3 135.2h0M114.4 136.4h0M115.0 137.4h0M135.5 145.8h0M136.5 146.1h0M112.9 116.0h0M112.0 115.3h0M111.8 151.2h0M112.8 150.7h0M148.2 145.2h0M147.3 144.6h0M146.4 140.2h0M146.6 141.2h0M123.9 120.0h0M124.8 120.6h0M120.2 153.2h0M121.0 152.4h0M137.7 140.0h0M138.0 138.9h0M132.5 139.2h0M131.6 138.5h0M156.5 151.7h0M156.4 152.8h0M140.0 130.8h0M141.0 130.6h0M122.0 136.0h0M120.9 135.9h0M101.9 143.4h0M100.8 143.4h0M106.8 150.1h0M105.8 150.5h0M140.3 140.4h0M139.4 139.9h0M135.7 156.3h0M134.6 156.3h0M136.3 145.4h0M137.3 145.1h0M143.1 160.2h0M142.0 160.0h0M103.7 137.6h0M103.0 138.5h0M112.2 156.9h0M111.4 157.6h0M111.3 133.0h0M110.2 133.2h0M146.8 162.6h0M145.9 162.0h0M142.2 140.4h0M141.2 140.1h0M119.3 114.0h0M119.0 115.0h0M113.6 120.2h0M114.7 120.1h0M121.7 122.5h0M120.7 122.7h0M122.3 159.5h0M123.1 160.2h0M128.3 146.7h0M128.2 147.8h0M120.5 156.4h0M119.7 155.7h0M130.6 149.2h0M130.9 148.1h0M117.8 128.3h0M117.2 127.3h0M127.6 136.8h0M128.3 135.9h0M126.7 163.9h0M126.0 163.0h0M116.0 134.0h0M117.0 133.4h0M141.9 138.4h0M141.2 139.3h0M132.0 133.2h0M133.0 132.8h0M130.7 141.5h0M130.3 142.5h0M132.7 153.5h0M132.9 154.6h0M127.4 124.0h0M127.0 123.0h0M98.3 122.7h0M98.3 123.8h0M142.6 151.0h0M141.9 151.9h0M103.2 143.9h0M103.9 144.8h0M153.1 147.9h0M152.8 149.0h0M133.2 130.7h0M132.7 131.7h0M155.2 161.2h0M155.0 162.3h0M106.1 123.7h0M105.1 123.1h0M109.6 151.1h0M108.6 150.5h0M120.1 150.1h0M119.0 150.4h0M117.9 140.5h0M116.8 140.7h0M150.3 155.6h0M151.2 154.9h0M116.4 110.0h0M117.0 111.0h0M133.7 112.4h0M133.2 111.4h0M143.4 112.7h0M142.4 113.1h0M132.8 117.5h0M132.9 118.6h0M148.4 112.2h0M149.0 111.3h0M142.1 120.3h0M141.1 119.8h0M147.7 109.4h0M146.7 110.0h0M117.7 112.9h0M118.0 113.9h0M105.5 111.5h0M104.5 111.9h0M143.7 113.9h0M144.7 114.3h0M130.4 119.6h0M129.3 119.7h0M138.8 114.7h0M137.7 115.0h0M129.3 114.6h0M128.6 113.7h0M118.5 113.1h0M119.0 114.1h0M124.1 107.2h0M123.2 106.7h0M121.7 113.2h0M121.5 114.3h0M145.9 114.7h0M146.9 115.0h0M147.8 117.1h0M147.8 118.2h0M134.7 111.1h0M135.8 111.1h0M147.1 110.0h0M147.2 111.1h0M113.4 108.2h0M113.3 107.2h0M113.5 110.0h0M114.6 109.8h0M161.4 106.1h0M160.7 107.0h0M170.5 126.4h0M170.5 127.5h0M164.5 106.8h0M163.5 107.3h0M175.9 129.0h0M175.6 127.9h0M188.7 117.9h0M189.8 117.9h0M168.5 122.1h0M167.6 121.5h0M172.5 125.9h0M171.5 126.4h0M164.9 121.8h0M163.9 121.2h0M160.1 115.4h0M159.8 116.5h0M154.1 103.5h0M154.2 102.4h0M164.1 101.5h0M163.0 101.3h0M167.9 108.4h0M167.6 109.4h0M184.1 111.6h0M183.6 112.6h0M159.3 108.0h0M158.3 108.3h0M161.0 102.6h0M160.9 101.6h0M180.0 130.1h0M180.2 131.1h0M165.7 104.3h0M166.5 105.1h0M176.4 119.7h0M177.4 119.9h0M177.4 131.4h0M177.4 132.5h0M157.5 113.0h0M157.6 114.1h0M188.0 115.2h0M187.3 116.1h0M187.1 122.1h0M187.7 121.2h0M155.2 110.5h0M154.5 109.6h0M152.7 111.0h0M152.5 112.1h0M168.5 128.0h0M169.2 127.2h0M163.5 100.8h0M164.6 100.7h0M153.2 106.2h0M152.2 105.7h0M155.9 102.2h0M155.3 103.1h0M164.7 101.4h0M165.8 101.7h0M177.1 121.6h0M178.2 121.9h0M164.1 105.4h0M164.9 104.6h0M156.8 105.7h0M157.9 105.6h0M157.9 104.3h0M159.0 104.4h0M169.5 117.4h0M168.7 118.1h0M175.7 129.4h0M174.7 129.6h0M155.2 103.7h0M156.0 103.0h0M167.7 121.2h0M166.8 120.6h0M174.1 113.1h0M173.1 113.4h0M150.1 107.2h0M151.2 107.2h0M178.6 114.1h0M179.3 113.2h0M174.3 112.7h0M175.4 113.1h0M161.8 113.5h0M162.6 112.7h0M169.3 106.5h0M168.4 107.1h0M169.5 114.7h0M168.4 114.8h0M171.0 115.2h0M169.9 114.8h0M163.9 111.1h0M163.6 112.1h0M171.3 120.4h0M170.2 120.1h0M185.3 122.1h0M185.8 123.0h0M181.8 115.5h0M180.9 116.1h0M173.0 126.4h0M174.0 126.1h0M168.2 102.9h0M169.3 103.1h0M169.1 107.1h0M168.0 107.4h0M173.8 119.6h0M172.8 120.0h0M150.4 104.0h0M151.0 103.0h0M189.2 114.3h0M190.3 114.0h0M176.1 128.7h0M176.9 129.5h0M177.2 109.2h0M178.1 109.9h0M177.2 118.0h0M176.5 117.1h0M174.1 120.2h0M173.2 120.8h0M163.8 100.5h0M162.7 100.3h0M166.5 125.0h0M167.3 124.2h0M171.9 122.6h0M171.0 121.8h0M154.9 111.7h0M155.0 110.6h0M160.1 110.4h0M160.9 111.1h0M162.0 115.2h0M163.1 115.4h0M186.7 123.6h0M187.8 123.9h0M167.2 124.3h0M168.3 124.1h0M169.0 127.9h0M168.4 126.9h0M171.5 130.0h0M170.5 130.2h0M168.9 112.1h0M167.8 112.0h0M163.8 116.8h0M162.7 117.0h0M164.3 100.1h0M165.2 100.7h0M175.8 110.5h0M176.5 111.4h0M171.9 119.5h0M172.2 120.6h0M164.2 123.6h0M165.2 124.0h0M182.4 126.2h0M181.7 127.1h0M179.4 115.3h0M178.8 116.2h0M167.9 110.3h0M168.3 109.2h0M180.0 125.3h0M179.3 124.4h0M173.4 125.4h0M172.5 124.7h0M175.3 129.5h0M176.1 128.7h0M172.5 129.0h0M172.6 130.1h0M162.8 102.6h0M163.6 103.4h0M162.7 102.8h0M162.8 103.9h0M162.7 122.1h0M161.7 121.8h0M160.2 99.9h0M160.8 100.8h0M183.7 111.8h0M183.7 112.9h0M171.0 108.7h0M170.5 107.6h0M172.9 117.2h0M173.2 118.2h0M153.3 109.1h0M153.2 110.2h0M151.8 103.9h0M152.3 102.9h0M166.7 101.4h0M167.1 100.3h0M169.6 129.3h0M170.4 128.5h0M169.5 111.2h0M168.5 111.6h0M158.3 102.3h0M158.1 101.2h0M162.6 117.1h0M162.3 116.1h0M181.0 125.8h0M181.0 124.7h0M164.4 114.7h0M163.8 113.8h0M188.9 118.2h0M187.8 118.4h0M163.9 115.4h0M164.1 116.5h0M155.4 107.6h0M156.4 107.3h0M162.1 117.3h0M162.7 118.3h0M174.1 130.5h0M174.4 131.6h0M171.4 124.6h0M171.6 125.7h0M165.6 117.5h0M166.5 118.1h0M175.1 112.4h0M174.0 112.7h0M168.5 114.2h0M169.6 114.5h0M176.4 129.3h0M177.3 129.9h0M172.2 120.4h0M173.1 119.9h0M150.0 111.3h0M151.1 111.5h0M188.8 121.1h0M187.9 120.5h0M186.7 115.8h0M185.8 115.2h0M154.9 101.0h0M155.5 100.1h0M169.4 133.0h0M168.3 132.7h0M158.9 126.8h0M159.1 125.7h0M163.0 140.5h0M162.9 139.4h0M158.8 135.9h0M158.0 135.1h0M171.4 131.5h0M171.9 130.5h0M158.2 126.3h0M159.3 126.3h0M173.4 137.2h0M172.9 138.2h0M164.7 136.1h0M164.1 135.2h0M157.2 141.4h0M156.3 140.8h0M156.5 146.2h0M155.6 146.8h0M167.2 143.0h0M168.3 143.0h0M172.7 139.9h0M173.8 139.8h0M159.2 134.2h0M158.9 135.2h0M174.5 135.7h0M175.2 134.9h0M156.8 133.0h0M156.9 134.1h0M156.6 130.2h0M155.5 130.2h0M156.8 137.5h0M156.1 138.4h0M155.8 138.9h0M155.3 137.9h0M162.8 131.6h0M163.9 131.7h0M155.0 138.3h0M154.2 137.5h0M155.6 128.3h0M154.8 129.1h0M164.1 138.5h0M163.1 139.0h0M154.9 138.3h0M154.1 139.2h0M162.4 142.2h0M162.8 141.2h0M166.2 144.0h0M166.0 142.9h0M161.9 137.2h0M163.0 137.0h0M156.3 127.4h0M157.4 127.5h0M156.1 136.2h0M155.2 135.6h0M167.1 129.8h0M168.2 129.9h0M157.0 129.2h0M157.5 128.2h0M159.0 140.1h0M158.8 139.0h0M151.9 136.5h0M152.8 137.3h0M166.5 128.5h0M165.6 129.2h0M162.8 134.8h0M162.1 135.6h0M157.0 128.3h0M157.0 127.2h0M159.6 125.9h0M160.7 125.9h0M165.9 143.4h0M166.9 142.9h0M162.9 142.4h0M161.9 142.0h0M158.0 141.6h0M156.9 141.4h0M167.9 139.1h0M167.2 138.2h0M163.2 137.0h0M162.4 136.3h0M161.2 137.7h0M162.0 138.4h0M162.9 141.9h0M161.9 142.2h0M169.1 131.0h0M169.0 129.9h0M160.8 144.2h0M160.7 143.1h0M155.9 133.0h0M157.0 133.0h0M174.4 134.9h0M173.8 135.8h0M162.5 131.2h0M163.5 131.8h0M172.8 135.0h0M173.8 134.6h0M164.2 133.2h0M163.5 132.4h0M158.0 139.0h0M158.9 138.4h0M169.5 135.1h0M168.7 135.9h0M160.1 139.4h0M161.2 139.6h0M168.7 140.6h0M167.6 140.3h0M156.7 136.1h0M157.1 137.1h0M101.0 176.0h0M101.3 177.2h0"/>
<circle cx="199.1" cy="111.0" r="2.9" fill="#22a2a1"/>
<text x="203.6" y="114.2" font-size="9.26" textLength="61.99" lengthAdjust="spacingAndGlyphs" font-weight="bold" text-anchor="start" fill="#111" stroke="#111" stroke-width="0.28">CD-PC-Fibrotic</text>
<circle cx="199.1" cy="122.8" r="2.9" fill="#9a2eec"/>
<text x="203.6" y="126.0" font-size="9.26" textLength="51.89" lengthAdjust="spacingAndGlyphs" font-weight="bold" text-anchor="start" fill="#111" stroke="#111" stroke-width="0.28">CD-PC-hipro</text>
<circle cx="199.1" cy="134.6" r="2.9" fill="#0c10f0"/>
<text x="203.6" y="137.8" font-size="9.26" textLength="74.98" lengthAdjust="spacingAndGlyphs" font-weight="bold" text-anchor="start" fill="#111" stroke="#111" stroke-width="0.28">CD-PC-Conserved</text>
<circle cx="199.1" cy="146.4" r="2.9" fill="#f82b2b"/>
<text x="203.6" y="149.6" font-size="9.26" textLength="24.02" lengthAdjust="spacingAndGlyphs" font-weight="bold" text-anchor="start" fill="#111" stroke="#111" stroke-width="0.28">CD-IC</text>
<circle cx="199.1" cy="158.2" r="2.9" fill="#2ae8ea"/>
<text x="203.6" y="161.4" font-size="9.26" textLength="62.95" lengthAdjust="spacingAndGlyphs" font-weight="bold" text-anchor="start" fill="#111" stroke="#111" stroke-width="0.28">CD-PC-IC-trans</text>
<line x1="310.9" y1="19.1" x2="310.9" y2="185.5" stroke="#3a3a3a" stroke-width="1.3"/>
<line x1="310.3" y1="184.9" x2="470.5" y2="184.9" stroke="#3a3a3a" stroke-width="1.3"/>
<line x1="307.8" y1="61.0" x2="310.9" y2="61.0" stroke="#3a3a3a" stroke-width="1.1"/>
<line x1="307.8" y1="105.0" x2="310.9" y2="105.0" stroke="#3a3a3a" stroke-width="1.1"/>
<line x1="307.8" y1="149.0" x2="310.9" y2="149.0" stroke="#3a3a3a" stroke-width="1.1"/>
<line x1="345.0" y1="184.9" x2="345.0" y2="188.1" stroke="#3a3a3a" stroke-width="1.1"/>
<line x1="385.4" y1="184.9" x2="385.4" y2="188.1" stroke="#3a3a3a" stroke-width="1.1"/>
<line x1="425.4" y1="184.9" x2="425.4" y2="188.1" stroke="#3a3a3a" stroke-width="1.1"/>
<line x1="465.5" y1="184.9" x2="465.5" y2="188.1" stroke="#3a3a3a" stroke-width="1.1"/>
<text x="306.2" y="64.3" font-size="9.63" textLength="13.01" lengthAdjust="spacingAndGlyphs" font-weight="bold" text-anchor="end" fill="#111" stroke="#111" stroke-width="0.28">-25</text>
<text x="306.2" y="108.3" font-size="9.63" textLength="5.01" lengthAdjust="spacingAndGlyphs" font-weight="bold" text-anchor="end" fill="#111" stroke="#111" stroke-width="0.28">0</text>
<text x="306.2" y="152.3" font-size="9.63" textLength="13.01" lengthAdjust="spacingAndGlyphs" font-weight="bold" text-anchor="end" fill="#111" stroke="#111" stroke-width="0.28">-25</text>
<text x="345.0" y="196.6" font-size="9.63" textLength="13.01" lengthAdjust="spacingAndGlyphs" font-weight="bold" text-anchor="middle" fill="#111" stroke="#111" stroke-width="0.28">-25</text>
<text x="385.4" y="196.6" font-size="9.63" textLength="5.01" lengthAdjust="spacingAndGlyphs" font-weight="bold" text-anchor="middle" fill="#111" stroke="#111" stroke-width="0.28">0</text>
<text x="425.4" y="196.6" font-size="9.63" textLength="10.01" lengthAdjust="spacingAndGlyphs" font-weight="bold" text-anchor="middle" fill="#111" stroke="#111" stroke-width="0.28">25</text>
<text x="465.5" y="196.6" font-size="9.63" textLength="10.01" lengthAdjust="spacingAndGlyphs" font-weight="bold" text-anchor="middle" fill="#111" stroke="#111" stroke-width="0.28">50</text>
<text x="400.2" y="210.2" font-size="9.95" textLength="59.41" lengthAdjust="spacingAndGlyphs" font-weight="bold" text-anchor="middle" fill="#111" stroke="#111" stroke-width="0.28">Component 1</text>
<text x="290.6" y="93.1" font-size="9.95" textLength="59.41" lengthAdjust="spacingAndGlyphs" font-weight="bold" text-anchor="middle" fill="#111" stroke="#111" stroke-width="0.28" transform="rotate(-90 290.6 93.1)">Component 2</text>
<text x="384.0" y="17.1" font-size="9.74" textLength="51.57" lengthAdjust="spacingAndGlyphs" font-weight="bold" text-anchor="middle" fill="#111" stroke="#111" stroke-width="0.28">CytoTRACE</text>
<text x="273.5" y="11.7" font-size="9.63" textLength="5.50" lengthAdjust="spacingAndGlyphs" font-weight="bold" text-anchor="start" fill="#111" stroke="#111" stroke-width="0.28">b</text>
<path stroke="#fcd835" stroke-width="1.6" stroke-linecap="square" d="M378.9 34.5h0M369.5 107.0h0M375.2 100.6h0M336.6 125.9h0M363.6 75.0h0M368.5 31.8h0M363.8 131.1h0M364.6 36.8h0M388.4 136.5h0M375.1 32.9h0M375.8 113.1h0M367.4 44.2h0M355.0 55.5h0M352.6 101.6h0M374.4 30.3h0M379.5 145.2h0M363.6 36.9h0M334.5 125.4h0M353.4 127.0h0M366.6 110.0h0M346.1 96.5h0M374.6 125.5h0M353.6 101.3h0M365.6 69.9h0M376.7 114.9h0M377.0 144.9h0M329.9 133.0h0M362.4 53.5h0M368.8 31.8h0M359.3 48.0h0M357.0 58.2h0M346.9 65.5h0M386.5 65.5h0M362.6 55.7h0M374.4 116.5h0M361.1 110.4h0M354.7 98.6h0M394.4 76.6h0M335.7 107.0h0M401.9 92.7h0M333.9 101.2h0M349.0 66.6h0M369.5 38.3h0M338.2 104.7h0M371.9 121.7h0M343.1 83.6h0M329.0 121.6h0M374.6 121.6h0M334.5 130.1h0M391.2 141.6h0M394.4 139.4h0M349.8 89.2h0M364.9 40.9h0M356.3 48.2h0M366.6 109.4h0M366.1 82.2h0M362.0 121.0h0M369.0 41.4h0M362.3 127.2h0M335.8 129.1h0M397.4 55.4h0M326.0 112.0h0M383.1 137.6h0M329.2 101.9h0M385.8 134.7h0M355.0 136.6h0M376.4 33.9h0M344.0 80.0h0M360.8 74.5h0M330.0 128.6h0M331.1 94.7h0M351.7 127.6h0M359.9 69.6h0M352.1 80.3h0M368.9 32.3h0M352.3 55.7h0M377.8 148.9h0M359.6 84.6h0M394.4 63.1h0M393.0 59.8h0M368.1 40.4h0M347.4 57.7h0M378.3 148.2h0M360.5 39.9h0M326.7 123.6h0M347.3 114.3h0M375.2 110.1h0M341.5 81.3h0M364.0 39.0h0M399.8 109.5h0M368.6 114.4h0M341.5 124.6h0M342.5 104.4h0M340.0 84.4h0M400.3 62.4h0M359.4 40.3h0M369.9 82.7h0M361.1 83.8h0M361.4 103.9h0M351.7 74.7h0M328.4 114.4h0M321.6 124.9h0M376.2 35.0h0M381.8 130.5h0M320.4 125.5h0M343.8 114.4h0M335.3 95.7h0M361.1 100.0h0M345.2 93.8h0M356.8 116.7h0M360.7 119.7h0M365.0 80.6h0M326.8 120.9h0M353.7 51.2h0M354.8 88.5h0M352.8 52.1h0M370.8 53.3h0M369.1 40.5h0M356.2 137.2h0M357.7 125.9h0M361.2 51.6h0M404.6 100.0h0M340.8 89.1h0M351.1 84.5h0M403.9 106.4h0M380.7 128.9h0M345.5 84.5h0M377.0 147.7h0M363.7 38.7h0M353.9 65.6h0M351.1 67.3h0M386.0 65.3h0M341.1 108.1h0M343.5 119.2h0M343.4 119.6h0M362.7 123.8h0M352.2 57.1h0M334.2 99.3h0M343.5 84.7h0M339.9 84.6h0M341.8 93.0h0M320.8 126.4h0M341.1 136.9h0M326.2 131.2h0M370.7 110.5h0M365.7 132.5h0M375.8 114.4h0M370.8 112.5h0M360.8 64.4h0M364.0 43.5h0M346.4 135.1h0M348.4 58.0h0M365.7 95.5h0M399.5 80.5h0M347.9 82.7h0M374.8 107.3h0M384.3 138.8h0M386.9 64.7h0M397.8 102.2h0M399.8 71.8h0M363.8 84.9h0M399.7 77.5h0M353.7 85.4h0M353.8 50.1h0M368.7 107.7h0M353.9 126.0h0M355.6 77.9h0M351.8 65.6h0M373.2 50.6h0M354.6 127.9h0M356.9 93.3h0M368.0 102.4h0M348.7 67.7h0M341.6 83.0h0M376.0 109.0h0M375.1 142.3h0M346.8 65.3h0M373.8 51.8h0M352.7 85.2h0M377.3 96.2h0M365.7 135.6h0M364.3 108.2h0M348.5 71.7h0M359.8 92.5h0M398.2 58.2h0M371.4 89.0h0M355.1 130.5h0M376.4 99.0h0M345.8 85.1h0M350.5 109.5h0M348.0 131.6h0M364.0 133.0h0M361.6 105.6h0M362.2 91.0h0M338.3 122.2h0M385.1 138.1h0M359.9 137.6h0M356.2 50.4h0M344.5 120.6h0M336.7 101.4h0M353.4 55.8h0M366.5 100.7h0M371.1 96.6h0M349.6 133.5h0M360.2 42.8h0M376.8 146.6h0M333.1 101.3h0M376.5 113.6h0M397.4 111.2h0M389.1 65.6h0M346.1 123.6h0M374.9 102.8h0M354.1 144.0h0M351.8 82.5h0M341.9 94.7h0M389.2 100.2h0M374.9 112.6h0M354.3 72.4h0M389.5 87.5h0M355.3 130.1h0M334.7 99.9h0M348.4 97.0h0M360.6 104.9h0M382.9 113.3h0M343.7 78.3h0M327.3 129.5h0M390.1 59.8h0M357.1 139.7h0M390.1 62.8h0M358.3 96.0h0M353.9 72.7h0M326.1 106.2h0M362.9 121.5h0M352.8 62.1h0M369.9 87.0h0M394.8 60.0h0M354.3 97.7h0M368.0 45.4h0M342.7 100.3h0M353.2 65.0h0M340.2 82.7h0M381.6 132.1h0M394.0 75.6h0M369.4 42.6h0M376.5 106.9h0M387.6 123.0h0M397.6 61.2h0M335.2 100.7h0M339.3 105.5h0M369.5 120.0h0M338.6 88.0h0M397.0 66.4h0M365.0 43.8h0M345.2 114.5h0M331.2 125.0h0M354.6 121.9h0M361.9 41.8h0M396.4 68.4h0M324.5 111.6h0M355.1 122.8h0M327.4 122.8h0M354.4 109.8h0M366.5 91.5h0M366.9 46.4h0M361.9 41.8h0M342.2 85.2h0M333.9 132.5h0M369.7 42.1h0M346.1 81.7h0M369.4 84.2h0M354.1 56.4h0M353.6 52.9h0M369.7 41.0h0M334.9 131.2h0M393.2 77.5h0M334.9 92.5h0M372.5 38.1h0M360.1 112.8h0M337.9 109.8h0M323.8 126.2h0M332.9 96.2h0M338.1 100.0h0M366.2 113.3h0M377.5 178.7h0M377.0 29.4h0M360.2 55.2h0M322.0 115.2h0M334.3 129.3h0M379.6 144.3h0M342.1 133.2h0M361.1 66.4h0M356.6 48.2h0M334.8 133.1h0M335.4 99.0h0M354.6 48.0h0M367.9 32.1h0M332.2 103.8h0M353.7 71.5h0M342.9 114.1h0M387.2 90.6h0M366.9 45.1h0M361.2 63.5h0M348.3 70.0h0M377.1 103.0h0M369.3 102.5h0M376.7 102.8h0M332.5 97.1h0M350.6 104.3h0M340.6 114.5h0M398.9 77.2h0M360.3 47.4h0M335.7 125.4h0M404.2 54.4h0M344.3 119.7h0M368.0 42.6h0M404.7 56.2h0M357.9 80.7h0M400.4 55.0h0M349.2 58.1h0M342.8 138.4h0M351.4 110.0h0M367.9 43.1h0M353.9 125.0h0M380.8 29.7h0M371.9 36.6h0M359.8 60.3h0M360.7 46.7h0M375.5 38.7h0M358.9 66.4h0M360.3 44.9h0M348.9 103.2h0M329.1 121.5h0M359.4 110.8h0M360.6 132.1h0M354.5 62.3h0M341.6 81.1h0M352.7 79.2h0M366.2 50.3h0M366.2 117.7h0M344.7 85.2h0M358.4 108.6h0M370.6 60.4h0M354.9 103.2h0M356.4 124.8h0M358.5 58.0h0M363.3 39.0h0M341.7 114.5h0M351.8 52.2h0M373.5 98.8h0M338.7 127.5h0M344.4 78.7h0M376.9 109.6h0M363.1 122.1h0M350.7 104.5h0M349.7 104.7h0M355.1 125.7h0M354.2 131.7h0M357.2 64.0h0M345.5 120.8h0M353.6 101.2h0M356.5 133.9h0M348.3 131.8h0M390.6 67.5h0M368.3 87.6h0M387.7 96.8h0M389.2 134.5h0M347.8 116.8h0M354.2 102.2h0M345.2 77.7h0M359.7 75.9h0M363.8 87.8h0M348.5 99.2h0M348.7 86.2h0M390.0 63.5h0M344.4 115.2h0M333.4 115.5h0M336.8 138.4h0M355.7 99.9h0M342.6 139.1h0M351.2 91.7h0M353.7 122.9h0M330.5 135.2h0M348.0 80.9h0M323.2 119.3h0M344.4 85.4h0M352.0 92.4h0M326.5 130.1h0M338.2 134.6h0M370.3 95.9h0M382.3 138.2h0M339.6 83.4h0M355.6 55.9h0M337.6 125.5h0M398.3 78.8h0M348.9 74.4h0M349.7 102.5h0M324.2 110.5h0M359.1 66.2h0M372.9 38.4h0M365.3 132.3h0M374.2 100.3h0M377.9 32.5h0M348.9 71.4h0M376.2 145.5h0M367.7 130.5h0M369.2 94.8h0M354.9 104.6h0M340.8 96.0h0M360.4 107.4h0M329.2 117.1h0M367.8 90.9h0M330.1 103.6h0M349.4 108.7h0M331.8 125.9h0M350.5 105.6h0M356.5 107.8h0M338.1 116.8h0M356.3 123.0h0M367.1 103.0h0M361.1 106.0h0M349.4 112.8h0M331.0 128.7h0M385.4 155.8h0M349.9 104.4h0M366.7 45.1h0M349.2 98.4h0M333.2 120.7h0M345.3 83.7h0M383.1 126.1h0M402.2 54.4h0M345.6 133.4h0M324.8 119.3h0M346.3 142.4h0M371.6 37.7h0M396.7 72.2h0M353.8 70.8h0M374.3 109.5h0M361.0 67.5h0M346.3 61.5h0M374.1 50.3h0M340.0 101.6h0M351.5 131.5h0M362.6 126.6h0M348.4 112.7h0M371.6 92.3h0M346.0 115.3h0M350.4 109.0h0M367.5 120.4h0M359.3 73.0h0M370.2 97.7h0M371.0 40.9h0M361.8 129.8h0M345.0 131.5h0M352.9 70.0h0M358.3 85.5h0M354.9 142.9h0M361.4 49.7h0M336.9 122.1h0M379.3 148.6h0M357.2 97.3h0M400.7 72.3h0M349.4 71.2h0M390.2 100.1h0M371.9 37.3h0M370.3 82.6h0M349.3 109.1h0M363.3 126.6h0M329.2 111.0h0M366.8 46.1h0M343.7 99.1h0M355.9 77.6h0M364.7 39.8h0M364.8 90.0h0M360.8 104.9h0M354.6 101.4h0M347.9 67.1h0M366.7 89.4h0M348.0 92.3h0M402.0 75.4h0M356.8 122.1h0M331.4 127.9h0M364.2 78.4h0M360.3 44.1h0M372.6 30.6h0M392.5 74.0h0M379.0 128.3h0M371.1 104.9h0M364.6 85.6h0M345.6 117.9h0M344.8 141.4h0M359.4 102.5h0M396.8 67.4h0M367.4 94.2h0M343.8 137.6h0M341.4 128.5h0M365.5 79.2h0M355.3 86.8h0M352.9 58.8h0M359.8 65.3h0M346.3 132.0h0M355.5 62.3h0M347.0 81.1h0M349.9 71.5h0M402.8 53.8h0M352.7 58.6h0M373.1 30.2h0M357.8 68.3h0M345.9 131.9h0M368.5 42.1h0M354.2 84.2h0M390.7 58.4h0M389.0 121.6h0M348.9 69.0h0M378.9 134.8h0M379.2 35.6h0M331.5 94.7h0M351.3 63.6h0M334.2 124.1h0M394.6 110.1h0M361.2 45.4h0M349.3 72.5h0M357.7 67.2h0M343.6 139.0h0M369.8 45.5h0M364.6 39.9h0M330.1 102.4h0M388.3 71.0h0M328.4 125.7h0M359.3 53.9h0M345.3 138.1h0M360.0 68.5h0M365.1 79.0h0M370.0 114.5h0M357.4 68.0h0M345.0 79.6h0M394.4 58.9h0M370.0 90.7h0M330.9 93.8h0M388.9 64.5h0M395.3 96.7h0M374.7 112.2h0M334.7 113.3h0M367.7 121.5h0M347.3 67.5h0M351.5 99.5h0M356.3 80.2h0M333.9 92.5h0M355.5 70.3h0M356.0 139.6h0M349.6 111.3h0M359.7 54.3h0M387.1 88.1h0M352.4 65.3h0M341.7 127.7h0M354.4 80.1h0M382.7 113.3h0M343.0 105.3h0M368.6 81.5h0M355.1 131.9h0M362.6 92.5h0M390.2 138.9h0M359.7 43.8h0M364.3 121.6h0M372.1 42.0h0M353.4 88.7h0M342.9 96.9h0M325.3 109.8h0M361.0 52.6h0M360.4 80.6h0M338.6 89.1h0M333.7 129.5h0M362.2 118.0h0M347.8 59.3h0M334.6 98.8h0M364.0 52.5h0M361.3 44.2h0M337.9 136.5h0M372.5 30.0h0M360.1 123.4h0M358.2 48.0h0M358.5 48.7h0M359.8 83.6h0M362.3 42.3h0M363.8 122.9h0M358.3 76.2h0M330.8 106.6h0M322.8 113.5h0M397.9 98.4h0M358.1 67.8h0M401.3 58.7h0M343.5 100.2h0M359.2 54.4h0M351.6 91.9h0M377.1 130.4h0M372.5 82.9h0M347.5 123.9h0M328.9 125.6h0M394.6 59.5h0M367.9 121.4h0M392.5 55.1h0M349.9 108.5h0M368.6 43.9h0M398.5 65.8h0M365.2 113.3h0M350.4 79.1h0M396.4 70.8h0M397.4 77.0h0M349.2 72.3h0M363.3 91.6h0M340.7 99.3h0M334.8 103.3h0M352.4 84.8h0M370.8 113.7h0M355.1 61.0h0M354.8 62.4h0M375.1 34.8h0M370.3 64.0h0M362.2 100.8h0M389.2 61.1h0M386.0 113.4h0M373.6 50.7h0M334.1 134.6h0M328.9 125.7h0M352.6 87.3h0M359.3 122.8h0M345.5 99.2h0M335.1 106.3h0M347.1 68.6h0M356.1 97.3h0M360.4 40.0h0M353.6 47.8h0M360.9 54.2h0M362.0 105.4h0M359.9 111.5h0M371.3 71.7h0M347.7 124.4h0M359.3 47.0h0M324.1 123.9h0M334.7 126.4h0M350.4 108.6h0M360.6 105.2h0M373.5 92.4h0M358.2 54.3h0M347.0 60.7h0M352.3 74.9h0M364.2 127.2h0M333.4 128.6h0M366.0 45.8h0M329.7 112.0h0M355.9 52.1h0M375.2 35.4h0M346.9 83.0h0M377.0 107.7h0M365.6 114.0h0M363.6 106.4h0M385.9 140.5h0M355.1 104.9h0M366.2 115.9h0M396.1 109.3h0M355.7 88.4h0M402.8 79.3h0M341.2 80.1h0M347.9 74.0h0M351.6 66.1h0M369.7 34.0h0M389.1 61.1h0M356.0 51.2h0M362.5 51.3h0M399.9 58.1h0M364.3 36.2h0M355.9 117.0h0M345.9 93.5h0M350.0 95.1h0M326.5 128.7h0M365.7 44.7h0M341.1 117.7h0M396.1 58.1h0M380.1 70.2h0M334.0 97.9h0M349.0 135.4h0M331.7 114.2h0M351.9 64.6h0M354.5 136.7h0M374.4 140.0h0M364.5 89.1h0M355.1 48.5h0M355.2 58.6h0M349.2 73.9h0M332.4 93.8h0M368.1 112.2h0M335.7 131.4h0M348.2 69.2h0M362.6 39.9h0M344.5 135.7h0M378.2 28.6h0M338.5 117.8h0M353.9 63.2h0M333.1 115.5h0M341.2 137.5h0M326.4 124.8h0M360.2 100.5h0M345.8 101.0h0M321.4 121.4h0M363.7 134.6h0M372.7 117.5h0M379.8 146.3h0M360.9 104.8h0M388.1 88.3h0M369.1 81.9h0M372.7 102.6h0M354.4 104.7h0M337.6 99.0h0M351.7 104.9h0M372.9 31.6h0M360.6 59.6h0M356.1 76.6h0M354.3 124.9h0M369.0 32.8h0M390.6 157.0h0M354.5 129.6h0M384.6 154.1h0M349.0 110.4h0M362.5 54.5h0M345.7 85.8h0M363.4 133.6h0M359.4 91.8h0M363.5 37.6h0M353.6 58.1h0M360.0 129.0h0M359.6 119.0h0M400.3 93.8h0M377.5 129.1h0M353.0 102.0h0M369.0 42.5h0M358.7 83.7h0M360.6 61.5h0M350.7 80.2h0M374.5 122.4h0M368.4 64.8h0M340.3 139.8h0M364.7 37.2h0M384.7 137.6h0M396.9 92.4h0M374.7 91.5h0M362.2 124.2h0M327.4 121.8h0M338.7 132.9h0M349.6 90.5h0M355.2 103.4h0M339.1 138.0h0M347.1 136.8h0M364.3 130.2h0M347.4 130.7h0M393.1 73.1h0M403.4 53.7h0M356.3 95.4h0M333.7 135.0h0M362.6 107.4h0M366.9 124.5h0M352.4 50.8h0M358.0 75.9h0M322.6 122.9h0M342.6 132.3h0M355.3 73.6h0M349.3 73.9h0M389.8 70.9h0M373.8 69.9h0M337.3 90.2h0M344.7 76.7h0M366.6 89.9h0M360.3 124.0h0M353.6 87.0h0M337.8 136.5h0M360.3 53.3h0M350.4 71.5h0M381.9 125.2h0M398.3 55.9h0"/>
<path stroke="#f25a3a" stroke-width="1.6" stroke-linecap="square" d="M399.4 123.1h0M382.9 128.7h0M394.3 115.5h0M414.8 140.8h0M392.8 139.1h0M409.6 47.2h0M408.0 55.1h0M406.8 52.9h0M408.5 132.0h0M432.0 77.2h0M382.7 125.3h0M419.9 90.8h0M389.5 140.6h0M438.4 61.3h0M432.7 76.2h0M418.0 78.5h0M395.6 159.8h0M414.8 89.0h0M428.5 75.8h0M400.5 53.3h0M420.6 137.8h0M417.4 147.6h0M407.9 133.3h0M418.0 52.0h0M438.1 66.3h0M401.8 145.5h0M418.7 158.5h0M394.4 147.4h0M390.4 140.7h0M401.9 125.5h0M410.2 145.8h0M422.2 133.5h0M405.0 146.7h0M430.8 72.5h0M424.8 55.3h0M416.2 86.4h0M417.3 82.7h0M405.5 145.1h0M397.7 118.9h0M414.1 73.9h0M411.1 161.1h0M415.7 87.5h0M402.3 143.6h0M393.6 151.8h0M439.6 62.6h0M399.8 142.2h0M431.6 67.6h0M424.4 55.7h0M404.4 134.1h0M423.5 54.7h0M400.3 126.7h0M417.8 52.4h0M416.0 138.8h0M426.4 76.7h0M438.9 68.4h0M412.5 116.2h0M430.0 129.0h0M427.6 147.4h0M420.2 149.9h0M419.9 94.8h0M394.7 134.6h0M416.8 88.5h0M407.8 130.9h0M400.7 141.8h0M432.3 77.7h0M422.5 60.9h0M416.8 160.1h0M412.6 160.4h0M421.9 54.7h0M434.9 71.5h0M415.1 86.6h0M425.3 54.4h0M389.9 139.6h0M416.9 69.3h0M423.7 63.8h0M422.8 53.9h0M437.6 82.9h0M407.0 55.3h0M392.0 142.2h0M420.4 111.5h0M419.8 89.4h0M431.0 77.6h0M439.1 69.3h0M437.9 70.6h0M412.9 158.1h0M402.3 125.8h0M428.4 78.2h0M430.1 73.7h0M407.1 120.1h0M406.3 160.1h0M422.7 64.2h0M434.5 78.7h0M410.1 54.0h0M439.0 63.8h0M400.2 139.3h0M415.7 87.3h0M437.3 81.0h0M411.2 49.6h0M424.2 76.3h0M427.0 68.9h0M416.7 159.0h0M410.5 137.6h0M417.6 148.1h0M406.6 136.3h0M421.2 139.8h0M419.2 116.2h0M408.8 163.6h0M408.5 50.4h0M421.1 74.5h0M405.5 52.5h0M418.7 145.5h0M439.5 110.9h0M434.8 64.9h0M421.5 58.4h0M415.5 161.5h0M394.8 119.5h0M418.8 149.5h0M397.1 131.9h0M414.6 147.7h0M418.0 138.3h0M405.8 142.8h0M401.4 125.8h0M429.1 74.5h0M416.3 145.8h0M393.4 147.4h0M417.5 166.2h0M397.9 108.2h0M402.0 137.3h0M420.6 91.6h0M411.8 147.3h0M400.2 152.7h0M436.8 83.5h0M433.0 77.2h0M430.6 73.7h0M398.2 146.6h0M420.8 92.0h0M414.7 54.9h0M434.5 79.2h0M426.5 79.1h0M435.1 60.9h0M428.8 139.9h0M404.7 121.1h0M419.0 141.4h0M425.6 146.6h0M391.1 142.6h0M420.0 111.5h0M407.0 54.1h0M420.7 153.5h0M414.8 86.3h0M415.2 57.2h0M410.4 47.9h0M428.7 63.0h0M397.3 123.0h0M421.6 91.5h0M398.8 155.5h0M403.5 142.2h0M400.0 154.0h0M403.9 135.0h0M418.3 77.4h0M419.9 91.7h0M397.8 119.4h0M421.2 150.2h0M435.9 70.3h0M448.7 134.0h0M418.3 76.5h0M396.4 127.1h0M406.7 135.0h0M427.3 111.1h0M426.9 67.8h0M419.9 52.6h0M421.5 61.3h0M395.2 141.6h0M424.3 152.6h0M392.8 152.4h0M423.9 62.0h0M420.7 88.3h0M415.7 135.4h0M427.6 79.0h0M435.3 59.1h0M415.3 81.4h0M415.2 89.6h0M414.2 79.9h0M396.6 148.1h0M392.2 141.0h0M396.1 136.7h0M430.3 74.8h0M399.7 127.8h0M424.2 108.7h0M408.3 166.1h0M412.2 153.2h0M398.4 130.7h0M419.8 61.1h0M416.3 139.4h0M406.4 53.1h0M422.4 67.6h0M419.8 91.8h0M417.3 81.4h0M429.4 76.4h0M411.4 162.2h0M417.2 141.8h0M419.4 53.5h0M403.0 115.2h0M404.1 145.1h0M424.7 58.5h0M410.2 49.3h0M401.5 124.5h0M424.7 66.3h0M408.8 166.2h0M434.4 68.7h0M412.9 157.7h0M414.9 92.6h0M400.3 140.4h0M413.5 152.8h0M433.2 70.1h0M428.5 56.3h0M415.8 90.5h0M426.2 67.8h0M420.7 63.0h0M426.2 55.2h0M423.6 67.6h0M421.9 76.8h0M407.0 156.1h0M427.9 162.7h0M434.7 66.5h0M439.3 67.0h0M438.4 75.6h0M420.5 146.1h0M397.7 120.1h0M394.6 116.7h0M393.0 125.1h0M389.0 121.7h0M401.7 124.9h0M415.1 90.0h0M416.8 56.1h0M416.1 138.4h0M437.7 68.2h0M424.0 63.1h0M383.3 121.0h0M390.8 119.1h0M404.2 163.8h0M387.7 143.7h0M414.5 143.2h0M406.9 127.0h0M423.8 166.0h0M419.2 166.0h0M427.7 67.9h0M426.8 59.7h0M432.4 63.3h0M419.5 59.1h0M396.3 115.8h0M415.8 141.7h0M439.3 61.8h0M407.5 132.5h0M437.4 67.0h0M387.5 127.7h0M414.8 56.0h0M403.7 121.2h0M387.5 122.2h0M428.4 62.3h0M421.4 146.7h0M419.5 91.9h0M392.8 151.1h0M415.6 89.0h0M396.6 130.9h0M428.0 70.2h0M392.0 156.0h0M393.3 134.7h0M432.9 59.7h0M416.9 146.7h0M423.4 164.9h0M421.4 55.3h0M414.7 135.8h0M432.7 69.8h0M405.3 124.0h0M425.2 57.1h0M411.9 133.4h0M420.4 61.3h0M436.0 65.4h0M422.1 112.8h0M413.3 159.6h0M402.6 134.1h0M401.1 147.3h0M420.9 110.9h0M407.7 163.6h0"/>
<path stroke="#1ea6a2" stroke-width="1.6" stroke-linecap="square" d="M395.9 102.7h0M339.4 85.6h0M320.9 115.3h0M390.7 101.6h0M339.3 122.2h0M373.8 89.1h0M361.7 130.9h0M401.2 93.0h0M352.5 72.9h0M394.7 87.0h0M396.7 110.3h0M393.8 85.4h0M331.4 107.5h0M333.5 126.7h0M376.6 108.7h0M332.5 114.2h0M371.7 91.2h0M400.2 107.6h0M364.2 92.3h0M376.1 96.8h0M398.0 94.0h0M357.7 58.7h0M397.8 57.2h0M389.0 97.4h0M337.6 136.8h0M393.2 98.9h0M370.6 119.5h0M394.8 109.1h0M348.0 108.7h0M354.4 76.7h0M346.0 141.8h0M325.6 113.0h0M324.2 106.3h0M345.2 106.8h0M359.2 44.9h0M369.3 59.5h0M359.9 133.4h0M397.3 79.1h0M356.0 57.8h0M398.7 106.2h0M337.9 121.6h0M367.1 133.2h0M397.0 62.1h0M398.5 101.4h0M338.9 100.7h0M332.8 131.3h0M395.8 101.1h0M341.2 138.2h0M346.6 143.4h0M356.4 78.6h0M395.1 58.6h0M339.6 110.4h0M353.3 117.4h0M329.9 127.7h0M334.5 132.2h0M401.8 93.8h0M330.2 115.7h0M400.1 104.6h0M360.0 92.5h0M348.5 107.7h0M334.3 135.8h0M361.1 122.5h0M389.5 102.9h0M401.9 96.6h0M343.2 97.1h0M389.3 71.3h0M364.2 123.0h0M360.3 67.4h0M335.4 103.9h0M374.9 81.7h0M388.4 85.2h0M354.9 79.1h0M400.8 56.0h0M366.7 130.7h0M387.8 100.1h0M402.2 55.5h0M328.1 127.0h0M345.3 85.4h0M403.7 109.8h0M341.4 85.9h0M327.3 113.4h0M396.1 97.8h0M338.4 130.3h0M351.1 139.6h0M345.5 81.0h0M397.3 73.1h0M387.4 91.5h0M332.8 118.1h0M397.2 110.8h0M396.1 94.2h0M390.9 102.7h0M371.5 87.0h0M400.4 108.7h0M327.4 125.5h0M364.4 132.3h0M402.9 97.8h0M360.4 111.9h0M399.2 74.6h0M356.4 113.2h0M402.6 53.5h0M340.0 115.9h0M408.1 107.1h0M357.5 66.5h0M388.9 105.2h0M352.1 72.4h0M394.3 61.8h0M358.9 109.6h0M392.8 94.0h0M351.5 97.5h0M369.6 62.9h0M363.5 92.1h0M350.7 69.9h0M361.7 53.8h0M394.0 59.4h0M392.7 92.1h0M338.9 118.7h0M323.9 125.6h0M362.1 122.4h0M392.7 71.2h0M359.9 108.3h0M394.2 60.7h0M328.9 103.2h0M364.7 135.5h0M390.8 59.5h0M396.6 106.6h0M386.8 92.9h0M344.3 87.2h0M347.3 143.6h0M398.2 61.5h0M388.3 91.0h0M389.9 105.5h0M391.1 92.1h0M389.4 90.4h0M360.2 68.1h0M390.1 100.2h0M372.9 103.0h0M400.9 109.3h0M336.5 124.8h0M349.2 106.9h0M333.8 103.5h0M402.1 56.1h0M398.4 95.0h0M404.4 105.0h0M394.1 87.9h0M346.6 113.6h0M364.6 106.2h0M397.5 56.5h0M343.0 126.1h0M347.1 98.7h0M332.8 95.1h0M344.4 113.7h0M402.1 55.9h0M371.8 81.0h0M338.6 91.7h0M367.4 108.0h0M359.7 103.6h0M358.5 66.8h0M392.4 100.2h0M371.0 121.0h0M393.5 106.0h0M342.5 119.7h0M350.7 89.8h0M354.8 78.3h0M386.9 98.8h0M363.0 111.4h0M356.0 131.0h0M369.0 108.5h0M392.8 92.6h0M357.7 83.2h0M388.7 91.2h0M335.9 130.3h0M329.5 130.8h0M394.2 65.6h0M362.5 137.1h0M360.8 115.6h0M339.1 96.3h0M397.5 76.9h0M388.9 104.5h0M394.7 54.5h0M345.1 110.2h0M355.6 74.3h0M336.6 124.0h0M393.3 100.9h0M350.9 113.9h0M395.1 57.7h0M367.0 98.7h0M389.7 94.7h0M394.1 58.5h0M375.8 115.5h0M363.6 53.5h0M360.1 105.8h0M338.9 119.8h0M347.8 86.7h0M361.6 131.5h0M394.7 108.0h0M393.9 65.2h0M347.6 64.8h0M389.3 100.8h0M340.8 127.7h0M360.1 132.9h0M364.7 92.3h0M395.1 65.1h0M365.7 82.3h0M403.2 95.0h0M353.0 130.8h0M389.5 66.8h0M402.3 97.6h0M350.9 62.0h0M390.2 61.4h0M344.3 141.6h0M341.8 125.6h0M350.8 98.3h0M345.4 80.0h0M393.9 104.5h0M321.4 122.5h0M341.7 94.1h0M388.7 86.8h0M367.9 86.5h0M340.9 128.8h0M341.4 125.9h0M330.5 131.1h0M404.6 55.0h0M405.1 106.1h0M366.2 80.1h0M393.4 109.2h0M396.2 102.1h0M364.6 99.8h0M347.4 105.8h0M355.5 142.9h0M400.9 107.3h0M376.8 103.9h0M390.9 71.0h0M349.8 74.9h0M390.7 106.7h0M323.8 113.6h0M395.9 95.8h0M333.4 98.8h0M363.7 62.3h0M401.0 95.1h0M358.8 65.5h0M401.8 100.6h0M395.6 100.5h0M398.2 110.8h0M394.1 99.4h0M394.8 111.1h0M377.1 99.4h0M347.8 107.6h0M337.9 134.3h0M333.7 117.5h0M342.4 81.1h0M356.2 142.6h0M407.1 107.3h0M398.3 90.4h0M359.3 115.2h0M389.8 95.0h0M359.4 132.8h0M394.0 97.1h0M386.0 92.3h0M369.7 113.3h0M375.0 116.1h0M396.1 69.8h0M390.6 99.7h0M393.3 109.5h0M367.3 131.4h0M337.0 89.1h0M326.0 131.3h0M365.5 81.2h0M389.7 67.0h0M327.2 105.9h0M387.4 92.8h0M394.3 100.7h0M363.8 81.7h0M377.1 99.2h0M402.5 104.4h0M370.1 94.2h0M397.1 105.7h0M393.3 55.8h0M352.1 59.0h0M394.6 90.3h0M375.3 115.9h0M369.8 53.3h0M396.1 73.1h0M399.3 62.0h0M328.0 103.8h0M335.4 135.9h0M396.6 68.1h0M347.3 66.2h0M400.9 57.7h0M390.5 104.1h0M392.7 93.3h0M367.5 132.7h0M359.2 70.4h0M346.6 135.8h0M321.3 126.1h0M396.1 78.7h0M362.7 87.7h0M331.4 123.1h0M400.8 93.3h0M346.3 112.7h0M397.6 68.0h0M360.0 95.4h0M387.0 60.6h0M393.8 92.7h0M402.5 80.3h0M400.8 108.5h0M343.3 113.4h0M356.0 142.9h0M339.2 102.3h0M389.9 91.6h0M343.1 92.7h0M367.7 93.6h0M392.4 93.2h0M388.5 62.8h0M385.3 59.3h0M356.2 119.8h0M396.3 68.8h0M364.0 129.6h0M400.0 78.5h0M359.7 125.9h0M405.4 104.8h0M371.0 116.3h0M386.8 101.9h0M359.0 44.1h0M334.2 100.4h0M392.8 107.9h0M361.4 50.5h0M351.3 106.4h0M376.3 117.9h0M333.5 130.2h0M349.0 143.8h0M398.1 60.4h0M325.1 124.3h0M397.6 107.4h0M395.6 102.4h0M399.3 90.3h0M406.1 105.0h0M323.5 118.7h0M352.6 95.1h0M404.2 57.1h0M339.2 131.1h0M388.7 95.0h0M358.9 67.5h0M341.4 136.4h0M360.0 122.3h0M364.9 98.7h0M371.4 95.0h0M401.9 93.8h0M363.3 82.7h0M397.2 73.2h0M395.6 69.6h0M397.8 65.7h0M348.5 62.6h0M375.9 69.2h0M401.4 111.0h0M326.7 127.4h0M390.6 74.9h0M365.3 80.1h0M359.0 72.0h0M350.0 58.7h0M388.1 97.9h0M338.0 118.8h0"/>
<path stroke="#5cc2a2" stroke-width="1.6" stroke-linecap="square" d="M366.0 90.8h0M321.4 115.2h0M342.1 118.7h0M393.7 91.9h0M346.7 132.7h0M370.9 87.1h0M343.9 96.4h0M359.8 108.0h0M338.2 135.4h0M325.1 105.8h0M366.8 99.0h0M346.1 92.4h0M343.4 102.4h0M358.9 101.7h0M365.7 131.3h0M362.5 92.1h0M339.5 127.3h0M388.6 67.3h0M335.5 131.8h0M394.7 91.9h0M400.8 106.9h0M349.0 95.1h0M350.1 134.4h0M405.8 98.8h0M344.4 99.3h0M393.2 55.0h0M345.3 86.1h0M360.4 116.6h0M340.2 100.5h0M402.3 57.5h0M401.8 96.9h0M399.9 94.8h0M350.5 132.8h0M353.6 137.3h0M334.7 105.0h0M363.6 119.4h0M354.5 132.2h0M338.2 117.9h0M343.9 120.7h0M341.9 101.1h0M345.9 133.5h0M336.3 100.4h0M362.4 98.1h0M329.8 122.3h0M391.5 92.8h0M337.6 126.0h0M353.3 141.0h0M392.5 109.0h0M360.9 111.3h0M402.3 58.6h0M362.2 86.3h0M364.8 118.7h0M350.8 119.1h0M342.4 112.3h0M341.4 142.3h0M339.0 106.4h0M342.1 104.6h0M335.5 132.1h0M362.5 125.3h0M374.2 104.9h0M354.1 99.5h0M349.2 84.7h0M369.2 115.3h0M351.7 99.6h0M365.7 112.3h0M342.3 122.9h0M349.9 105.5h0M342.5 89.7h0M352.6 131.6h0M359.5 98.6h0M357.1 130.5h0M362.3 81.1h0M396.3 108.3h0M337.7 135.6h0M358.7 80.1h0M375.0 95.3h0M340.2 128.1h0M325.1 124.1h0M346.5 113.5h0M342.9 95.8h0M390.1 102.0h0M396.0 89.7h0M336.1 128.0h0M344.3 103.0h0M354.7 99.8h0M375.0 105.6h0M399.7 60.7h0M346.7 103.4h0M343.3 139.3h0M341.4 112.6h0M342.5 119.0h0M364.3 92.8h0M341.0 99.2h0M352.9 92.6h0M340.4 88.8h0M358.5 113.2h0M368.6 90.2h0M356.9 96.4h0M363.8 117.8h0M372.2 118.5h0M394.0 57.6h0M354.8 88.9h0M375.0 112.0h0M348.9 90.8h0M394.2 56.8h0M386.7 100.8h0M376.7 100.2h0M345.9 115.0h0M389.8 100.3h0M354.7 108.8h0M324.0 118.7h0M342.4 142.2h0M401.7 108.0h0M389.3 103.5h0M361.6 105.2h0M399.9 107.5h0M347.8 141.2h0M363.7 132.0h0M363.7 86.9h0M360.8 130.8h0M340.8 127.6h0M367.6 110.1h0M366.9 90.4h0M338.1 105.9h0M353.5 109.3h0M332.3 121.3h0M346.3 124.7h0M362.0 95.5h0M377.8 109.1h0M346.9 95.8h0M356.9 93.7h0M392.8 96.0h0M403.0 56.4h0M357.7 121.4h0M391.5 91.8h0M325.8 119.4h0M405.1 99.5h0M340.2 118.0h0M335.1 114.4h0M354.0 102.0h0M336.7 138.7h0M360.4 113.8h0M395.7 71.8h0M374.9 86.4h0M367.4 87.1h0M337.0 105.4h0M367.1 115.3h0M347.2 119.1h0M394.8 105.1h0M352.5 100.2h0M355.0 142.7h0M340.3 114.9h0M389.3 71.8h0M333.3 114.4h0M333.9 119.0h0M352.5 90.6h0M333.0 106.8h0M375.8 102.2h0M337.6 93.2h0M396.5 95.2h0M353.8 78.1h0M347.6 87.0h0M352.8 116.5h0M347.9 82.3h0M339.4 121.5h0M364.8 132.0h0M402.7 109.7h0M389.7 70.7h0M335.0 98.6h0M351.3 96.6h0M343.5 83.8h0M343.7 116.0h0M349.9 85.8h0M361.2 80.0h0M354.4 78.1h0M375.4 112.9h0M399.2 68.4h0M347.5 88.1h0M333.5 114.0h0M336.0 91.6h0M363.4 127.4h0M395.4 74.6h0M350.1 139.6h0M358.7 113.6h0M389.5 94.9h0M396.4 65.9h0M374.3 94.5h0M347.9 96.7h0M369.8 110.1h0M340.8 88.0h0M335.5 127.1h0M334.7 102.9h0M393.4 94.1h0M368.0 94.8h0M344.5 84.4h0M339.8 132.0h0M355.6 134.6h0M328.3 114.8h0M395.9 88.8h0M349.5 91.4h0M354.8 98.6h0M345.3 86.1h0M340.1 110.2h0M359.9 134.0h0M330.1 123.7h0M398.9 98.4h0M347.8 81.2h0M397.1 69.9h0M350.3 101.7h0M334.4 104.0h0M338.7 102.2h0M354.5 143.1h0M341.3 108.6h0M333.5 135.2h0M344.1 83.7h0M333.0 117.3h0M402.6 96.3h0M352.2 91.6h0"/>
<path stroke="#98d4a0" stroke-width="1.6" stroke-linecap="square" d="M361.0 65.2h0M353.1 96.6h0M341.8 119.4h0M321.3 121.2h0M363.5 130.5h0M362.0 42.9h0M321.7 124.7h0M348.5 129.3h0M366.5 47.1h0M347.3 97.1h0M355.9 137.1h0M355.4 124.5h0M333.3 134.0h0M341.0 110.6h0M351.2 92.4h0M347.6 100.9h0M339.7 105.5h0M373.3 81.4h0M369.4 121.1h0M341.0 125.7h0M361.4 99.8h0M340.0 108.1h0M357.1 49.9h0M366.4 79.9h0M323.6 117.7h0M359.0 99.8h0M345.7 80.4h0M324.1 124.1h0M352.7 119.7h0M345.4 92.7h0M342.1 88.3h0M369.6 88.4h0M372.8 115.9h0M331.1 130.9h0M358.4 79.0h0M327.1 126.5h0M343.6 98.1h0M354.3 101.3h0M344.8 134.5h0M337.2 139.6h0M372.6 104.1h0M358.3 64.5h0M340.6 83.2h0M348.4 134.5h0M353.7 119.1h0M362.2 127.6h0M337.5 137.6h0M360.9 112.8h0M364.1 91.9h0M352.7 122.7h0M354.7 71.1h0M357.0 81.0h0M339.4 137.9h0M341.2 126.6h0M332.5 114.7h0M365.4 79.9h0M375.1 113.1h0M329.8 132.1h0M367.3 121.7h0M343.1 127.2h0M357.2 81.3h0M365.8 49.2h0M346.2 101.8h0M360.8 69.0h0M357.4 133.6h0M361.0 95.6h0M361.3 101.2h0M343.4 98.1h0M361.9 78.4h0M328.9 126.7h0M364.1 124.0h0M362.1 84.2h0M332.1 106.1h0M364.8 114.7h0M343.1 78.8h0M344.5 96.1h0M350.4 104.2h0M325.4 124.5h0M353.9 62.0h0M340.0 87.3h0M360.1 114.4h0M357.4 118.4h0M343.0 115.2h0M343.3 79.2h0M348.0 79.2h0M351.1 90.6h0M355.2 131.4h0M348.0 143.7h0M347.8 78.1h0M338.6 137.0h0M346.9 131.1h0M348.7 108.8h0M341.3 107.2h0M323.4 124.7h0M341.8 98.5h0M353.8 113.0h0M357.7 122.5h0M338.7 109.1h0M348.9 91.9h0M356.0 140.7h0M352.5 99.8h0M346.7 114.3h0M339.1 104.2h0M375.6 107.3h0M365.5 88.8h0M355.9 112.3h0M347.8 65.1h0M331.4 136.7h0M346.7 101.2h0M377.0 96.3h0M322.3 117.9h0M357.8 112.9h0M327.9 110.6h0M354.5 132.8h0M356.7 96.9h0M361.7 88.3h0M339.6 91.5h0M359.7 119.5h0M348.2 119.4h0M332.7 114.2h0M357.5 86.1h0M337.0 101.3h0M350.9 130.4h0M351.2 71.9h0M377.9 97.1h0M347.8 108.3h0M365.7 103.7h0M370.6 87.5h0M378.5 64.1h0M346.6 105.1h0M353.3 101.7h0M377.5 103.0h0M330.0 121.9h0M350.3 73.6h0M367.3 131.6h0M369.8 113.8h0M338.6 106.3h0M357.5 107.5h0M348.7 89.1h0M341.4 80.7h0M328.2 109.5h0M340.8 90.4h0M363.2 120.4h0M358.9 131.1h0M354.9 84.6h0M327.1 128.1h0M343.1 122.2h0M373.4 112.4h0M352.2 105.8h0M344.1 120.5h0M355.1 142.7h0M346.3 132.4h0M353.8 62.1h0M331.9 113.6h0M337.1 104.3h0M371.6 93.0h0M345.7 100.9h0M330.9 103.0h0M322.0 123.9h0M329.3 114.7h0M362.3 92.1h0M360.1 109.5h0M357.1 131.6h0M336.0 96.4h0M345.7 88.5h0M360.5 119.4h0M365.0 83.0h0M347.1 65.7h0M365.2 106.3h0M349.3 83.6h0M354.8 129.2h0M365.4 113.5h0M339.8 127.9h0M346.2 69.5h0M375.9 112.7h0M329.4 116.4h0M345.4 113.2h0M362.8 75.5h0M359.2 69.3h0M362.0 85.3h0M347.4 142.2h0M340.4 95.0h0M351.5 114.7h0M361.6 128.7h0M374.1 106.4h0M342.8 95.1h0M365.3 80.3h0M375.4 103.9h0M359.9 131.3h0M346.4 102.3h0M329.5 126.6h0M347.4 103.8h0M343.8 95.3h0M351.7 95.6h0M364.8 79.5h0M359.0 77.5h0M356.7 136.3h0M369.2 90.1h0M335.1 106.0h0M342.9 96.4h0M328.6 115.8h0M331.3 123.0h0M342.3 119.9h0M371.0 96.1h0M335.6 123.7h0M356.7 50.0h0M344.2 118.9h0M349.7 59.8h0M328.8 132.2h0M344.4 136.7h0M356.6 56.1h0M324.3 127.2h0M357.8 97.0h0M364.2 118.8h0M338.3 95.6h0M367.2 109.6h0M341.6 124.8h0M324.9 119.9h0M377.9 98.6h0M346.2 133.5h0M350.3 103.1h0"/>
<path stroke="#c8103e" stroke-width="1.6" stroke-linecap="square" d="M451.3 132.6h0M428.6 134.5h0M427.9 137.1h0M429.6 128.7h0M424.5 149.3h0M458.4 119.9h0M433.1 102.3h0M438.5 126.5h0M443.8 122.1h0M428.0 139.4h0M442.2 127.9h0M445.3 137.3h0M418.4 157.5h0M424.0 104.5h0M428.9 128.9h0M443.5 124.1h0M442.2 131.7h0M419.9 142.7h0M409.5 157.8h0M432.2 118.0h0M419.0 134.7h0M444.7 119.7h0M435.0 136.3h0M428.2 101.6h0M443.1 133.0h0M425.4 113.6h0M434.8 114.2h0M429.7 138.6h0M433.2 145.7h0M437.3 102.2h0M439.0 101.8h0M425.7 163.8h0M420.7 146.4h0M434.0 123.3h0M403.8 132.5h0M422.6 166.3h0M430.7 127.8h0M426.3 150.3h0M416.2 160.7h0M433.0 127.4h0M424.8 150.7h0M408.6 157.8h0M428.6 153.2h0M434.9 101.8h0M426.0 149.4h0M444.6 114.9h0M446.8 114.6h0M448.6 131.4h0M416.5 161.7h0M430.6 102.7h0M435.8 113.6h0M456.0 123.6h0M427.1 164.3h0M427.7 152.8h0M430.1 115.6h0M416.5 132.6h0M440.9 131.4h0M414.0 158.3h0M421.2 145.4h0M431.7 135.7h0M441.1 108.0h0M424.3 148.2h0M433.2 103.1h0M407.8 158.8h0M419.3 154.9h0M413.8 143.9h0M439.5 141.8h0M440.2 134.2h0M420.1 116.5h0M424.7 159.2h0M425.6 138.8h0M392.9 129.8h0M439.1 125.8h0M434.6 143.7h0M426.9 105.0h0M417.9 141.7h0M424.8 149.0h0M412.3 163.7h0M418.0 165.3h0M438.8 122.1h0M397.3 160.8h0M429.1 147.7h0M429.3 137.6h0M409.9 153.6h0M420.8 160.7h0M426.5 150.0h0M417.1 149.1h0M414.6 132.1h0M418.1 115.8h0M449.8 115.6h0M446.7 136.4h0M421.0 118.6h0M429.1 153.2h0M454.6 113.3h0M427.0 139.0h0M420.7 142.2h0M434.9 119.8h0M406.4 139.3h0M436.2 140.0h0M414.1 163.2h0M432.0 127.4h0M417.0 140.2h0M439.7 113.5h0M421.8 160.4h0M415.4 137.1h0M424.2 160.2h0M415.4 139.5h0M450.6 116.8h0M427.5 143.6h0M444.9 126.9h0M432.5 111.9h0M423.8 150.9h0M411.9 154.3h0M413.4 132.3h0M428.4 148.1h0M439.1 131.3h0M432.5 140.9h0M413.3 140.0h0M413.7 159.5h0M436.7 102.2h0M434.2 139.9h0M444.4 121.5h0M430.8 109.8h0M425.9 149.1h0M446.1 131.1h0M447.2 130.5h0M443.3 127.2h0M433.1 108.5h0M423.3 153.1h0M431.3 140.5h0M448.4 123.1h0M419.0 141.9h0M419.5 135.6h0M424.6 150.4h0M451.1 131.6h0M400.8 144.0h0M409.6 157.8h0M435.7 133.9h0M437.3 125.5h0M406.5 155.1h0M445.6 132.0h0M417.3 133.4h0M423.4 144.2h0M435.2 102.8h0M436.2 106.9h0M426.9 140.7h0M427.7 112.1h0M437.6 119.0h0M457.4 117.3h0M417.7 149.7h0M409.7 112.6h0M402.2 155.6h0M422.3 165.1h0M412.1 128.9h0M424.9 138.0h0M420.3 147.1h0M428.5 144.0h0M417.0 150.0h0M426.2 154.3h0M441.1 104.6h0M416.9 146.4h0M414.0 153.5h0M458.4 125.4h0M448.7 121.4h0M458.6 116.7h0M410.8 130.9h0M433.3 104.1h0M435.1 104.1h0M409.1 158.8h0M440.2 108.6h0M401.5 156.1h0M446.5 113.9h0M407.8 113.9h0M423.3 157.1h0M415.2 161.5h0M412.0 147.2h0M434.7 137.8h0M411.5 162.4h0M441.3 112.7h0M447.8 112.9h0M444.1 130.5h0M437.0 106.1h0M436.3 118.0h0M440.4 115.7h0M403.4 163.8h0M448.2 131.0h0M409.2 135.9h0M436.5 116.2h0M443.1 126.1h0M420.7 138.5h0M415.8 141.9h0M414.0 139.7h0M452.7 128.6h0M428.2 131.7h0M423.6 166.6h0M440.5 119.6h0M423.5 142.6h0M416.3 139.0h0M428.7 104.5h0M413.7 135.2h0M415.5 143.5h0M443.2 131.5h0M433.2 112.6h0M454.5 114.1h0M388.3 133.5h0M411.8 141.6h0M437.7 130.7h0M444.5 127.9h0M413.2 150.8h0M431.5 141.6h0M447.9 118.6h0M438.8 144.4h0M409.5 150.4h0M459.2 119.4h0M447.7 121.2h0M435.0 123.6h0M424.5 143.5h0M401.3 143.5h0M436.8 137.6h0M400.6 164.5h0M443.8 121.9h0M404.9 160.9h0M428.4 140.4h0M440.1 104.4h0M430.6 136.6h0M458.3 122.7h0M420.1 164.1h0M414.7 155.5h0M444.1 127.4h0M412.2 130.0h0M406.8 142.5h0M402.7 137.4h0M444.9 138.7h0M436.1 112.6h0M418.3 137.3h0M427.0 150.9h0M429.5 142.9h0M450.4 114.7h0M435.6 133.3h0M427.5 142.2h0M420.8 147.9h0M436.2 103.0h0M436.4 101.6h0M429.6 129.8h0M401.8 160.0h0M415.5 141.0h0M440.7 113.6h0M426.1 110.6h0M442.1 130.0h0M426.9 148.4h0M415.1 143.9h0M430.8 152.1h0M435.0 133.1h0M402.3 150.3h0M435.2 143.4h0M431.4 139.9h0M406.9 119.0h0M436.0 115.3h0M440.8 129.4h0M435.0 105.4h0M420.0 152.7h0M442.3 109.1h0M440.3 123.6h0M441.4 130.8h0M425.6 150.5h0M439.9 108.9h0M441.3 118.9h0M459.3 122.6h0M414.2 138.7h0M415.7 139.9h0M445.5 114.2h0M434.2 138.7h0M439.2 125.7h0M435.7 102.3h0M415.7 144.9h0M431.8 109.5h0M435.7 108.8h0M429.4 139.0h0M423.1 108.7h0M412.5 139.8h0M438.5 130.0h0M431.2 137.4h0M435.9 102.0h0M431.5 127.2h0M421.2 148.9h0M403.5 163.1h0M444.4 118.7h0M428.3 129.8h0M412.3 139.6h0M430.4 107.1h0M441.4 116.0h0M418.4 160.8h0M442.7 123.3h0M442.9 121.9h0M415.1 154.7h0M427.6 102.5h0M425.2 145.7h0M422.6 142.2h0M459.4 119.7h0M426.0 107.7h0M434.5 117.6h0M431.7 127.8h0M443.6 132.0h0M407.5 134.3h0M429.8 142.9h0M423.7 160.1h0M413.0 157.0h0M411.8 161.3h0M412.2 162.0h0M416.3 134.5h0M447.0 129.4h0M412.1 163.1h0M429.0 142.3h0M437.9 144.9h0M426.1 162.1h0M414.7 121.3h0M445.3 136.1h0M400.3 123.6h0M442.7 110.2h0M427.6 113.2h0M419.4 160.7h0M442.7 116.7h0M395.8 148.8h0M411.2 146.6h0M447.5 130.2h0M416.8 160.8h0M445.3 141.3h0M444.2 131.6h0M441.2 134.5h0M417.1 115.4h0M418.1 138.3h0M426.1 111.7h0M427.7 144.6h0M437.0 123.3h0"/>
<path stroke="#dbe88a" stroke-width="1.6" stroke-linecap="square" d="M365.5 79.8h0M336.0 98.1h0M365.5 82.1h0M337.1 137.8h0M346.0 77.3h0M361.9 109.6h0M357.0 123.2h0M360.6 132.3h0M364.7 112.5h0M347.6 125.5h0M359.3 114.1h0M355.2 72.5h0M359.6 131.6h0M362.0 106.5h0M358.0 141.8h0M366.8 88.0h0M326.4 130.5h0M363.1 97.1h0M346.0 99.9h0M365.3 108.2h0M361.5 51.1h0M356.2 87.2h0M353.7 55.4h0M350.0 111.0h0M364.4 46.7h0M350.3 136.8h0M345.7 103.6h0M360.4 83.9h0M373.1 88.3h0M349.3 99.2h0M338.2 99.9h0M333.9 133.5h0M360.1 133.6h0M357.0 135.3h0M366.3 131.6h0M369.0 101.4h0M339.8 132.9h0M367.6 98.3h0M359.5 113.3h0M347.5 118.1h0M368.0 98.8h0M340.7 115.9h0M336.4 87.8h0M358.0 123.5h0M333.5 115.8h0M363.2 124.6h0M333.7 117.9h0M353.7 73.2h0M330.9 132.8h0M345.6 135.2h0M365.7 78.7h0M350.1 67.5h0M367.8 92.5h0M356.2 81.2h0M357.0 137.9h0M327.0 131.0h0M337.0 103.4h0M376.2 110.5h0M342.3 90.0h0M348.8 117.1h0M371.9 110.8h0M323.3 123.8h0M365.4 81.4h0M335.2 89.4h0M347.5 114.2h0M350.9 83.1h0M335.1 92.0h0M328.3 113.9h0M350.3 140.1h0M367.5 105.0h0M354.1 100.2h0M349.9 131.9h0M358.6 110.7h0M350.3 68.9h0M330.0 118.7h0M357.8 134.6h0M351.9 56.0h0M338.8 101.1h0M366.3 80.3h0M355.4 91.0h0M367.0 95.2h0M363.2 41.7h0M341.8 137.6h0M334.9 101.8h0M344.6 118.0h0M367.6 85.5h0M351.2 121.0h0M377.5 101.6h0M358.1 139.4h0M349.0 89.9h0M334.3 125.2h0M360.0 91.4h0M331.0 100.8h0M340.3 109.0h0M347.7 75.4h0M367.7 89.1h0M353.7 70.7h0M359.5 100.7h0M361.7 64.4h0M333.9 125.7h0M360.6 96.9h0M376.7 110.1h0M346.1 98.7h0M340.2 138.2h0M378.3 103.7h0M354.8 73.1h0M346.9 76.1h0M351.2 93.1h0M341.2 82.3h0M375.7 91.3h0M337.7 101.6h0M353.2 73.5h0M367.4 88.9h0M358.3 118.9h0M361.2 87.4h0M325.9 131.4h0M359.9 131.4h0M358.5 84.1h0M371.8 104.1h0M345.0 89.3h0M326.3 106.3h0M332.5 113.0h0M339.8 116.5h0M377.0 117.1h0M339.1 111.3h0M337.9 103.0h0M323.6 117.4h0M362.1 129.7h0M367.0 106.9h0M370.3 89.8h0M349.0 75.0h0M358.6 142.7h0M372.1 98.5h0M360.8 92.7h0M372.9 111.4h0M372.1 93.9h0M338.9 136.0h0M353.9 103.2h0M363.1 92.1h0M341.1 98.3h0M350.0 74.9h0M358.6 100.7h0M348.3 83.6h0M364.4 78.4h0M354.2 72.6h0M334.4 135.9h0M350.8 104.4h0M348.4 143.6h0M366.2 133.7h0M340.2 137.2h0M337.4 87.6h0M366.4 110.4h0M376.4 116.4h0M363.7 123.8h0M348.3 68.9h0M359.3 94.6h0M359.0 114.6h0M370.6 113.6h0M368.2 105.7h0M340.2 81.6h0M376.3 104.4h0M344.2 77.6h0M358.2 111.9h0M340.2 119.6h0M358.6 76.8h0M330.4 111.3h0M344.0 93.3h0M347.2 131.8h0M377.3 33.4h0M371.7 83.3h0M366.3 80.2h0M351.3 113.2h0M348.6 143.7h0M333.2 104.0h0M349.0 92.2h0M367.1 122.8h0M339.9 90.9h0M360.1 116.7h0M335.3 106.0h0M359.1 109.6h0M328.1 128.6h0M352.3 93.5h0M372.2 109.7h0M353.4 130.8h0"/>
<path stroke="#e8303a" stroke-width="1.6" stroke-linecap="square" d="M437.5 67.1h0M408.7 112.6h0M428.0 152.4h0M443.5 121.0h0M396.8 53.1h0M416.0 155.8h0M413.6 127.8h0M428.1 109.1h0M426.4 165.0h0M432.5 116.9h0M405.8 146.1h0M434.2 143.5h0M436.8 102.9h0M409.0 140.6h0M421.4 134.2h0M419.7 135.5h0M428.3 148.3h0M408.7 133.1h0M413.6 52.4h0M439.8 140.6h0M415.3 145.0h0M412.6 146.5h0M451.1 126.8h0M436.1 116.9h0M433.5 139.2h0M416.1 152.5h0M441.7 116.3h0M398.6 154.7h0M408.4 141.8h0M413.4 160.6h0M426.6 75.6h0M440.1 125.6h0M408.8 131.3h0M404.7 144.4h0M416.1 132.4h0M428.0 143.2h0M415.4 147.0h0M402.2 53.2h0M432.6 101.4h0M448.5 110.7h0M445.8 114.2h0M440.3 113.1h0M435.0 142.7h0M414.5 132.3h0M418.1 59.0h0M417.6 150.8h0M440.3 129.5h0M404.2 162.3h0M445.6 114.6h0M410.7 165.3h0M409.4 147.3h0M415.8 92.2h0M404.6 144.0h0M401.9 124.2h0M429.5 135.6h0M427.5 130.6h0M416.0 90.7h0M399.7 136.3h0M429.0 154.3h0M436.2 136.7h0M398.8 108.7h0M390.3 148.1h0M415.1 155.4h0M436.0 133.2h0M405.4 138.8h0M419.4 134.2h0M435.1 140.9h0M429.6 73.7h0M431.4 105.9h0M428.0 145.4h0M419.8 138.0h0M419.3 139.9h0M444.4 139.7h0M415.6 152.5h0M418.9 94.8h0M414.8 141.6h0M452.0 117.6h0M438.8 70.1h0M406.3 140.2h0M417.9 141.3h0M403.3 134.9h0M415.9 158.1h0M428.9 64.1h0M413.7 156.2h0M420.4 112.6h0M445.9 133.1h0M417.8 77.4h0M410.2 136.3h0M399.5 121.6h0M413.1 129.3h0M414.8 90.0h0M414.5 153.1h0M434.0 115.0h0M418.4 84.2h0M402.6 149.3h0M434.2 143.7h0M425.3 54.9h0M442.2 129.0h0M444.4 136.5h0M401.4 154.6h0M394.4 144.0h0M428.0 104.6h0M429.0 108.8h0M415.7 160.9h0M435.4 138.5h0M412.8 152.0h0M414.1 137.7h0M425.4 164.8h0M410.4 147.6h0M439.4 61.6h0M410.7 152.8h0M392.7 149.7h0M447.2 112.0h0M440.5 142.1h0M423.6 68.7h0M414.7 156.0h0M402.3 144.5h0M432.2 72.1h0M413.1 156.6h0M430.0 67.9h0M400.4 125.6h0M409.4 141.4h0M415.2 160.7h0M459.8 115.8h0M409.5 139.7h0M421.3 75.9h0M420.9 91.7h0M439.8 111.8h0M425.2 135.8h0M413.4 140.6h0M415.7 88.4h0M416.2 139.5h0M448.7 132.9h0M415.8 86.1h0M414.1 154.6h0M437.6 81.8h0M415.4 89.0h0M424.8 136.8h0M438.5 119.6h0M406.9 133.2h0M407.6 53.5h0M409.3 165.8h0M434.9 118.5h0M430.1 129.7h0M408.6 158.0h0M413.6 130.9h0M399.7 152.2h0M409.4 139.8h0M413.1 141.4h0M416.8 91.4h0M419.6 165.0h0M433.0 144.6h0M416.9 83.7h0M424.1 143.4h0M425.0 144.4h0M397.8 127.9h0M389.7 158.0h0M424.6 149.2h0M435.7 104.9h0M445.6 121.7h0M425.1 163.2h0M458.0 117.6h0M419.1 138.2h0M426.0 151.4h0M398.2 140.3h0M401.8 120.8h0M407.3 112.9h0M417.1 82.5h0M408.6 132.5h0M412.7 131.5h0M436.4 134.7h0M438.5 106.6h0M399.2 138.1h0M402.3 155.5h0M404.1 146.2h0M422.4 69.7h0M411.3 131.9h0M417.3 137.0h0M405.2 149.6h0M421.9 64.6h0M424.1 113.0h0M427.5 149.3h0M422.7 145.8h0M411.5 116.5h0M405.3 148.8h0M434.3 116.7h0M417.9 83.3h0M401.0 125.9h0M419.2 163.5h0M414.5 152.5h0M422.9 159.6h0M413.6 132.3h0M453.4 127.7h0M410.2 146.9h0M444.7 122.3h0M393.0 142.0h0M427.9 105.2h0M399.7 123.9h0"/>
<path stroke="#2e7cc0" stroke-width="1.6" stroke-linecap="square" d="M360.3 68.5h0M356.0 104.1h0M341.8 124.9h0M371.8 114.8h0M367.7 82.1h0M402.1 103.4h0M331.4 135.6h0M360.0 75.1h0M346.3 134.0h0M345.8 111.0h0M363.0 46.5h0M390.4 95.6h0M403.2 101.3h0M341.3 89.9h0M343.7 141.5h0M393.5 84.2h0M388.4 92.8h0M362.3 91.0h0M370.0 108.7h0M326.3 126.4h0M404.1 106.3h0M405.1 54.1h0M358.7 126.2h0M388.1 61.3h0M343.2 77.3h0M362.2 77.4h0M389.4 95.1h0M345.6 134.5h0M347.1 69.8h0M323.1 116.4h0M358.3 63.7h0M333.5 100.2h0M359.3 117.5h0M376.6 102.1h0M394.0 94.0h0M329.7 118.0h0M335.4 105.2h0M397.1 91.9h0M352.7 71.1h0M339.4 85.0h0M401.6 57.0h0M391.7 91.2h0M393.0 70.2h0M363.9 46.2h0M399.4 59.7h0M393.6 70.5h0M324.6 118.7h0M358.1 82.2h0M343.5 122.1h0M390.0 90.8h0M374.4 66.2h0M366.5 96.2h0M357.3 75.8h0M334.7 129.6h0M348.9 59.3h0M352.2 71.9h0M365.2 59.0h0M394.6 105.9h0M359.7 60.0h0M390.9 93.5h0M350.6 137.8h0M350.1 57.2h0M405.6 106.0h0M397.7 66.5h0M358.9 126.5h0M374.7 87.5h0M348.8 108.6h0M348.8 67.6h0M400.9 100.1h0M359.7 97.5h0M351.0 64.7h0M353.8 65.1h0M353.7 79.3h0M330.0 121.3h0M353.6 105.4h0M390.7 90.0h0M341.9 120.5h0M394.1 77.1h0M332.4 127.6h0M363.4 98.0h0M322.4 123.9h0M351.6 60.3h0M337.9 93.3h0M377.9 100.5h0M374.5 98.6h0M387.9 99.1h0M353.1 130.7h0M391.9 93.2h0M350.3 83.8h0M371.1 98.9h0M398.3 77.5h0M354.7 119.5h0M390.7 103.0h0M380.2 82.9h0M338.6 105.5h0M356.0 49.0h0M372.0 116.5h0M353.4 83.4h0M374.6 114.1h0M361.8 91.7h0M335.9 90.2h0M395.9 89.9h0M391.1 105.7h0M351.3 93.0h0M353.7 72.6h0M394.1 69.5h0M402.3 79.8h0M398.1 108.3h0M403.4 93.9h0M332.1 135.9h0M358.8 76.4h0M353.7 119.4h0M357.6 110.6h0M367.2 85.4h0M350.8 93.4h0M353.9 89.0h0M358.8 114.7h0M352.8 117.5h0M394.8 101.2h0M386.7 61.6h0M338.9 128.5h0M330.9 110.9h0M346.5 89.6h0M363.5 79.2h0M399.5 105.5h0M354.2 140.4h0M349.8 88.9h0M359.7 131.9h0M353.1 125.6h0M353.6 127.6h0M371.3 82.9h0M339.6 125.3h0M364.9 114.5h0M361.6 80.2h0M388.7 100.5h0M355.8 132.1h0M348.0 144.6h0M361.3 101.2h0M361.1 62.4h0M367.6 111.1h0M350.7 141.2h0M387.6 84.5h0M388.4 95.0h0M362.5 119.0h0M359.5 134.4h0M364.3 127.0h0M354.6 61.9h0M367.0 117.1h0M371.6 60.1h0M343.2 112.6h0M394.2 109.0h0M395.9 92.5h0M351.0 114.3h0M374.8 110.5h0M366.1 79.1h0M341.6 106.1h0M339.2 120.5h0M346.5 117.7h0M367.0 125.6h0M363.7 107.9h0M361.9 100.8h0M346.5 76.3h0M393.7 63.8h0M396.6 76.5h0M361.5 61.0h0M344.1 140.5h0M341.1 140.6h0M371.0 91.1h0M326.0 107.8h0M344.1 112.6h0M352.4 130.9h0M396.5 91.0h0M322.9 116.8h0M389.9 84.4h0M363.1 124.4h0M363.8 119.1h0M393.1 86.2h0M402.4 111.1h0M365.3 122.1h0M330.1 130.5h0M395.2 56.6h0M393.2 64.8h0M362.1 128.3h0M350.2 99.8h0M355.7 85.3h0M393.8 93.6h0M375.8 110.7h0M395.7 90.1h0M333.9 102.0h0M341.1 135.5h0M396.2 101.6h0M399.4 59.0h0M393.9 85.2h0M355.7 96.1h0M367.4 92.1h0M333.0 114.0h0M343.3 77.8h0M368.5 111.3h0M331.3 93.7h0M361.1 124.6h0M356.4 118.7h0M365.7 79.7h0M352.4 138.5h0M371.9 119.5h0M354.9 142.5h0M348.4 85.3h0M371.6 87.9h0M331.6 121.9h0M355.1 141.6h0M362.7 93.8h0M390.0 93.9h0M398.7 67.9h0M380.8 73.0h0M342.2 113.0h0M329.6 110.6h0M352.5 88.1h0M347.6 60.3h0M362.9 86.2h0M346.2 80.2h0M348.3 124.7h0M341.5 103.6h0M391.0 92.8h0M341.6 90.1h0M355.0 133.1h0M345.3 142.6h0M393.1 110.2h0M364.7 108.2h0M390.0 97.9h0M374.3 84.3h0M357.4 97.6h0M370.9 115.1h0M389.8 90.5h0M329.0 118.3h0M401.1 104.5h0M358.9 107.5h0"/>
<path stroke="#fbb552" stroke-width="1.6" stroke-linecap="square" d="M369.7 67.5h0M347.2 69.8h0M378.6 149.5h0M360.7 60.3h0M387.7 111.5h0M423.1 56.5h0M417.2 81.4h0M353.5 56.9h0M376.3 134.1h0M355.0 65.0h0M394.4 74.8h0M400.3 140.6h0M380.5 148.1h0M419.8 58.1h0M391.1 135.9h0M359.0 47.3h0M392.8 124.0h0M380.8 129.7h0M347.9 63.5h0M398.2 159.1h0M372.8 34.8h0M374.3 121.3h0M431.1 68.6h0M425.1 56.5h0M372.9 138.1h0M396.1 64.8h0M377.3 131.4h0M396.1 69.8h0M365.6 65.5h0M392.6 145.8h0M353.2 74.4h0M435.1 77.2h0M377.1 145.8h0M376.9 143.8h0M365.1 38.6h0M354.1 54.4h0M438.0 74.6h0M394.4 57.5h0M353.1 51.6h0M379.2 145.4h0M365.3 35.9h0M418.9 78.2h0M375.3 131.1h0M397.3 67.2h0M398.2 71.7h0M398.7 67.5h0M354.3 64.2h0M368.8 45.1h0M362.1 40.8h0M397.1 161.0h0M365.6 56.3h0M417.2 80.3h0M390.7 141.6h0M386.7 142.8h0M390.7 140.0h0M384.0 125.2h0M356.4 63.2h0M376.3 36.2h0M373.8 37.9h0M374.9 131.2h0M392.0 76.0h0M387.0 121.2h0M416.0 76.5h0M385.7 143.1h0M434.3 58.9h0M392.7 138.0h0M364.0 46.3h0M391.0 148.2h0M381.4 113.0h0M355.0 56.9h0M385.4 65.6h0M374.8 123.1h0M369.7 31.3h0M403.1 54.9h0M388.1 142.0h0M363.0 56.7h0M414.6 72.9h0M426.6 58.4h0M378.3 131.7h0M391.6 122.1h0M356.8 52.7h0M390.5 116.0h0M424.8 58.2h0M436.2 64.7h0M384.6 147.0h0M389.7 134.6h0M375.0 122.4h0M371.6 30.5h0M393.1 115.4h0M357.6 48.1h0M371.9 40.3h0M375.0 36.9h0M370.6 124.9h0M375.2 120.6h0M399.7 119.0h0M390.8 138.9h0M385.3 149.9h0M386.5 127.8h0M388.5 124.9h0M390.2 67.5h0M374.8 37.9h0M438.2 67.3h0M373.5 37.8h0M379.1 136.0h0M383.7 113.6h0M370.7 34.3h0M397.7 72.6h0M378.0 141.3h0M392.0 155.0h0M379.8 127.5h0M376.3 37.3h0M377.6 29.6h0M392.1 117.2h0M360.0 47.5h0M366.1 38.7h0M402.4 75.9h0M395.2 55.3h0M374.6 124.2h0M403.4 76.2h0M357.4 63.2h0M378.1 130.1h0M396.9 139.9h0M431.6 61.3h0M403.6 53.4h0M382.8 130.9h0M435.7 65.6h0M394.6 157.2h0M358.4 44.3h0M402.2 74.3h0M395.4 58.8h0M395.6 140.6h0M380.1 132.5h0M382.6 151.6h0M392.4 75.0h0M397.9 52.9h0M389.0 132.4h0M374.6 141.3h0M381.2 148.8h0M379.1 149.6h0M352.9 70.2h0M382.3 144.1h0M396.6 77.8h0M440.8 74.1h0M395.2 59.9h0M392.1 112.5h0M364.0 38.1h0M372.4 40.5h0M425.3 75.9h0M383.6 122.3h0M377.2 177.5h0M387.7 158.4h0M373.7 29.3h0M388.7 108.7h0M383.5 122.2h0M391.3 71.7h0M392.9 57.7h0M387.5 116.8h0M381.1 131.2h0M387.0 123.8h0M400.7 124.3h0M399.9 77.4h0M392.8 114.4h0M386.9 114.1h0M390.0 121.6h0M375.9 144.1h0M393.7 54.7h0M372.7 54.1h0"/>
<path stroke="#f8883f" stroke-width="1.6" stroke-linecap="square" d="M421.4 69.6h0M424.9 76.0h0M405.3 52.1h0M417.5 70.1h0M405.9 140.0h0M388.4 122.4h0M407.2 53.8h0M381.6 143.3h0M420.9 61.9h0M385.2 114.2h0M435.1 63.8h0M389.0 134.4h0M389.5 116.1h0M413.2 53.8h0M416.4 77.3h0M402.8 141.4h0M399.5 122.1h0M427.4 66.4h0M390.3 157.7h0M399.0 51.9h0M391.6 146.0h0M397.2 119.1h0M381.4 114.6h0M393.2 152.1h0M383.2 124.3h0M417.0 81.4h0M398.1 156.3h0M392.5 121.7h0M383.3 148.7h0M394.4 139.1h0M438.6 62.5h0M394.0 136.9h0M405.7 49.0h0M389.9 111.3h0M393.5 143.3h0M435.9 69.2h0M390.6 142.5h0M417.8 81.4h0M401.3 123.4h0M431.8 72.2h0M395.3 139.6h0M395.4 157.9h0M417.7 66.0h0M401.1 141.3h0M387.3 113.1h0M383.6 153.6h0M379.1 132.7h0M442.1 74.5h0M380.8 147.0h0M423.2 76.2h0M392.8 144.0h0M422.3 53.6h0M434.5 71.2h0M387.8 150.6h0M418.1 68.6h0M406.5 126.0h0M406.2 164.7h0M401.2 165.4h0M396.0 140.4h0M433.8 59.4h0M411.2 151.6h0M420.8 67.3h0M389.6 148.9h0M392.8 150.0h0M377.3 140.5h0M418.0 69.7h0M392.2 144.1h0M407.9 53.0h0M402.9 137.0h0M395.4 148.6h0M434.2 66.6h0M398.6 121.5h0M394.2 133.6h0M382.9 147.7h0M375.8 122.6h0M425.2 71.4h0M395.0 151.6h0M402.8 145.6h0M422.7 66.5h0M384.4 122.2h0M403.7 144.2h0M423.7 66.2h0M421.1 68.4h0M401.3 155.9h0M392.1 134.9h0M408.5 53.6h0M406.7 141.2h0M436.1 84.3h0M441.8 74.0h0M421.3 60.8h0M429.9 73.7h0M433.4 78.7h0M383.1 123.8h0M430.3 75.9h0M373.6 129.6h0M434.4 61.7h0M439.1 66.7h0M420.2 55.6h0M439.4 70.3h0M422.9 64.4h0M433.1 67.8h0M431.3 62.3h0M387.8 132.2h0M419.9 61.7h0M394.1 116.5h0M388.5 151.4h0M398.1 119.9h0M372.0 138.5h0M397.4 147.4h0M417.8 56.3h0M435.9 71.2h0M426.3 75.6h0M418.8 66.2h0M393.5 150.4h0M401.6 156.5h0M386.3 125.5h0M392.2 144.2h0M424.0 76.4h0M435.5 78.3h0M426.8 68.4h0M396.3 145.1h0M393.4 136.1h0M420.1 89.2h0M421.2 68.3h0M420.9 56.2h0M440.7 63.8h0M374.9 138.7h0M414.4 51.7h0M393.7 144.8h0M408.9 151.3h0M380.5 143.9h0M392.0 132.1h0M438.0 67.7h0M383.9 113.2h0M400.1 152.9h0M401.6 52.7h0M399.7 52.7h0M434.0 63.7h0M388.3 110.7h0M400.7 152.4h0M386.9 159.1h0M421.6 57.3h0M414.6 56.3h0M409.1 148.9h0M420.0 55.0h0M379.7 139.1h0M390.1 125.9h0M387.3 152.7h0M411.5 164.4h0M394.0 151.9h0M412.4 54.5h0M396.6 124.0h0M389.9 148.1h0M396.5 148.3h0M435.2 68.0h0M431.2 71.9h0M400.6 154.7h0M391.2 141.4h0M439.7 74.8h0M436.0 67.3h0M415.7 78.1h0M428.9 72.5h0M377.5 130.2h0M434.9 69.7h0M380.2 127.4h0M402.7 148.2h0M419.2 59.1h0M397.6 126.8h0M396.1 147.8h0M381.7 125.1h0M404.8 162.9h0M427.2 78.3h0M386.8 137.6h0M432.3 63.9h0M433.4 77.9h0M428.4 78.0h0M409.0 51.4h0M395.1 154.7h0M394.1 135.3h0M388.1 143.4h0M416.2 80.9h0M434.1 69.5h0M420.6 62.6h0M394.6 144.6h0M400.5 143.0h0M389.0 135.5h0M391.8 119.2h0M427.1 67.5h0M385.2 152.6h0M405.4 51.1h0M422.3 64.6h0M421.8 73.7h0M438.3 80.9h0M431.9 59.8h0M420.2 60.1h0M403.2 53.2h0M402.6 128.1h0M420.7 57.5h0M397.6 158.2h0M407.7 53.0h0M438.3 77.4h0M392.1 145.3h0M383.2 118.0h0M428.7 77.0h0M393.4 133.9h0M419.1 55.6h0M416.5 54.0h0M374.6 125.3h0M432.3 62.8h0M401.4 149.8h0M421.1 55.1h0M411.5 137.2h0M403.5 152.4h0M434.8 64.4h0M417.0 57.0h0M387.1 136.0h0M390.7 158.1h0M422.6 61.3h0M397.2 127.8h0M392.1 131.0h0M426.4 66.7h0M438.3 66.0h0M388.6 120.7h0M419.8 58.1h0M384.3 152.0h0M375.8 141.4h0M439.5 64.7h0M403.5 50.6h0M419.2 76.1h0M422.2 68.1h0M424.8 70.6h0M374.2 130.5h0M432.9 70.9h0M425.6 72.3h0M389.2 131.3h0M422.8 63.6h0M422.7 57.5h0M396.6 159.8h0M403.5 128.4h0M392.7 135.7h0M437.3 65.8h0M403.6 146.3h0M392.3 128.8h0M401.0 139.9h0M392.0 118.3h0M440.5 75.5h0M434.4 78.1h0M395.1 138.6h0M403.4 131.5h0M404.3 164.2h0M382.6 122.4h0M396.5 123.7h0M394.0 115.6h0M374.5 126.6h0M397.8 161.7h0M395.9 153.9h0M387.7 135.2h0M391.2 135.5h0M379.8 134.2h0M380.7 124.9h0M425.8 70.7h0M438.1 74.5h0M378.4 145.2h0M406.1 50.0h0M434.7 65.6h0M435.5 71.1h0M428.9 71.4h0M406.2 53.3h0M393.9 117.5h0M376.3 130.7h0M396.9 145.4h0M438.8 63.3h0M381.6 137.2h0M381.0 124.6h0M418.6 82.0h0M415.7 55.7h0M381.6 152.0h0M416.0 56.7h0"/>
<defs><linearGradient id="cb" x1="0" y1="0" x2="0" y2="1">
<stop offset="0" stop-color="#b8104a"/><stop offset="0.1" stop-color="#e4283c"/><stop offset="0.2" stop-color="#f45a3a"/>
<stop offset="0.3" stop-color="#f98c42"/><stop offset="0.4" stop-color="#fcbf52"/><stop offset="0.5" stop-color="#fee000"/>
<stop offset="0.6" stop-color="#dde98e"/><stop offset="0.7" stop-color="#94d6a2"/><stop offset="0.8" stop-color="#1eb0a0"/>
<stop offset="0.9" stop-color="#2a80c0"/><stop offset="1" stop-color="#5040a0"/></linearGradient></defs>
<rect x="469.6" y="103" width="13.6" height="68" fill="url(#cb)"/>
<text x="488.6" y="106.9" font-size="9.52" textLength="56.39" lengthAdjust="spacingAndGlyphs" font-weight="normal" text-anchor="start" fill="#222" stroke="#222" stroke-width="0.12">1.0 (Less diff.)</text>
<line x1="469.6" y1="117.0" x2="472.0" y2="117.0" stroke="#444" stroke-width="0.9"/>
<line x1="480.8" y1="117.0" x2="483.2" y2="117.0" stroke="#444" stroke-width="0.9"/>
<text x="488.6" y="120.3" font-size="9.52" textLength="12.37" lengthAdjust="spacingAndGlyphs" font-weight="normal" text-anchor="start" fill="#222" stroke="#222" stroke-width="0.12">0.8</text>
<line x1="469.6" y1="130.4" x2="472.0" y2="130.4" stroke="#444" stroke-width="0.9"/>
<line x1="480.8" y1="130.4" x2="483.2" y2="130.4" stroke="#444" stroke-width="0.9"/>
<text x="488.6" y="133.7" font-size="9.52" textLength="12.37" lengthAdjust="spacingAndGlyphs" font-weight="normal" text-anchor="start" fill="#222" stroke="#222" stroke-width="0.12">0.6</text>
<line x1="469.6" y1="143.8" x2="472.0" y2="143.8" stroke="#444" stroke-width="0.9"/>
<line x1="480.8" y1="143.8" x2="483.2" y2="143.8" stroke="#444" stroke-width="0.9"/>
<text x="488.6" y="147.1" font-size="9.52" textLength="12.37" lengthAdjust="spacingAndGlyphs" font-weight="normal" text-anchor="start" fill="#222" stroke="#222" stroke-width="0.12">0.4</text>
<line x1="469.6" y1="157.2" x2="472.0" y2="157.2" stroke="#444" stroke-width="0.9"/>
<line x1="480.8" y1="157.2" x2="483.2" y2="157.2" stroke="#444" stroke-width="0.9"/>
<text x="488.6" y="160.5" font-size="9.52" textLength="12.37" lengthAdjust="spacingAndGlyphs" font-weight="normal" text-anchor="start" fill="#222" stroke="#222" stroke-width="0.12">0.2</text>
<text x="488.6" y="173.9" font-size="9.52" textLength="57.87" lengthAdjust="spacingAndGlyphs" font-weight="normal" text-anchor="start" fill="#222" stroke="#222" stroke-width="0.12">0.0 (More diff.)</text>
<text x="470.3" y="84.7" font-size="11.02" textLength="43.51" lengthAdjust="spacingAndGlyphs" font-weight="normal" text-anchor="start" fill="#222" stroke="#222" stroke-width="0.12">Predicted</text>
<text x="470.3" y="96.8" font-size="11.02" textLength="24.05" lengthAdjust="spacingAndGlyphs" font-weight="normal" text-anchor="start" fill="#222" stroke="#222" stroke-width="0.12">order</text>
<rect x="133.85" y="251.75" width="143.40" height="8.76" fill="#e9a9ab" stroke="#c42838" stroke-width="0.9"/>
<line x1="71.6" y1="256.1" x2="75.2" y2="256.1" stroke="#3a3a3a" stroke-width="1.0"/>
<text x="68.3" y="259.3" font-size="9.42" textLength="23.96" lengthAdjust="spacingAndGlyphs" font-weight="bold" text-anchor="end" fill="#111" stroke="#111" stroke-width="0.28">Rpl41</text>
<rect x="133.85" y="261.42" width="142.10" height="8.76" fill="#e9a9ab" stroke="#c42838" stroke-width="0.9"/>
<line x1="71.6" y1="265.8" x2="75.2" y2="265.8" stroke="#3a3a3a" stroke-width="1.0"/>
<text x="68.3" y="269.0" font-size="9.42" textLength="28.38" lengthAdjust="spacingAndGlyphs" font-weight="bold" text-anchor="end" fill="#111" stroke="#111" stroke-width="0.28">Eef1a1</text>
<rect x="133.85" y="271.08" width="141.80" height="8.76" fill="#e9a9ab" stroke="#c42838" stroke-width="0.9"/>
<line x1="71.6" y1="275.5" x2="75.2" y2="275.5" stroke="#3a3a3a" stroke-width="1.0"/>
<text x="68.3" y="278.7" font-size="9.42" textLength="21.52" lengthAdjust="spacingAndGlyphs" font-weight="bold" text-anchor="end" fill="#111" stroke="#111" stroke-width="0.28">Rps8</text>
<rect x="133.85" y="280.75" width="141.80" height="8.76" fill="#e9a9ab" stroke="#c42838" stroke-width="0.9"/>
<line x1="71.6" y1="285.1" x2="75.2" y2="285.1" stroke="#3a3a3a" stroke-width="1.0"/>
<text x="68.3" y="288.3" font-size="9.42" textLength="23.96" lengthAdjust="spacingAndGlyphs" font-weight="bold" text-anchor="end" fill="#111" stroke="#111" stroke-width="0.28">Rpl13</text>
<rect x="133.85" y="290.41" width="141.10" height="8.76" fill="#e9a9ab" stroke="#c42838" stroke-width="0.9"/>
<line x1="71.6" y1="294.8" x2="75.2" y2="294.8" stroke="#3a3a3a" stroke-width="1.0"/>
<text x="68.3" y="298.0" font-size="9.42" textLength="18.58" lengthAdjust="spacingAndGlyphs" font-weight="bold" text-anchor="end" fill="#111" stroke="#111" stroke-width="0.28">Tpt1</text>
<rect x="133.85" y="300.07" width="140.50" height="8.76" fill="#e9a9ab" stroke="#c42838" stroke-width="0.9"/>
<line x1="71.6" y1="304.5" x2="75.2" y2="304.5" stroke="#3a3a3a" stroke-width="1.0"/>
<text x="68.3" y="307.7" font-size="9.42" textLength="23.96" lengthAdjust="spacingAndGlyphs" font-weight="bold" text-anchor="end" fill="#111" stroke="#111" stroke-width="0.28">Rpl26</text>
<rect x="133.85" y="309.74" width="140.20" height="8.76" fill="#e9a9ab" stroke="#c42838" stroke-width="0.9"/>
<line x1="71.6" y1="314.1" x2="75.2" y2="314.1" stroke="#3a3a3a" stroke-width="1.0"/>
<text x="68.3" y="317.3" font-size="9.42" textLength="23.96" lengthAdjust="spacingAndGlyphs" font-weight="bold" text-anchor="end" fill="#111" stroke="#111" stroke-width="0.28">Rpl23</text>
<rect x="133.85" y="319.41" width="140.20" height="8.76" fill="#e9a9ab" stroke="#c42838" stroke-width="0.9"/>
<line x1="71.6" y1="323.8" x2="75.2" y2="323.8" stroke="#3a3a3a" stroke-width="1.0"/>
<text x="68.3" y="327.0" font-size="9.42" textLength="24.44" lengthAdjust="spacingAndGlyphs" font-weight="bold" text-anchor="end" fill="#111" stroke="#111" stroke-width="0.28">Rplp1</text>
<rect x="133.85" y="329.07" width="140.20" height="8.76" fill="#e9a9ab" stroke="#c42838" stroke-width="0.9"/>
<line x1="71.6" y1="333.5" x2="75.2" y2="333.5" stroke="#3a3a3a" stroke-width="1.0"/>
<text x="68.3" y="336.7" font-size="9.42" textLength="26.41" lengthAdjust="spacingAndGlyphs" font-weight="bold" text-anchor="end" fill="#111" stroke="#111" stroke-width="0.28">Rps10</text>
<rect x="133.85" y="338.73" width="140.20" height="8.76" fill="#e9a9ab" stroke="#c42838" stroke-width="0.9"/>
<line x1="71.6" y1="343.1" x2="75.2" y2="343.1" stroke="#3a3a3a" stroke-width="1.0"/>
<text x="68.3" y="346.3" font-size="9.42" textLength="23.96" lengthAdjust="spacingAndGlyphs" font-weight="bold" text-anchor="end" fill="#111" stroke="#111" stroke-width="0.28">Rpl32</text>
<rect x="117.15" y="348.40" width="15.80" height="8.76" fill="#c9b3db" stroke="#6e3aa8" stroke-width="0.9"/>
<line x1="71.6" y1="352.8" x2="75.2" y2="352.8" stroke="#3a3a3a" stroke-width="1.0"/>
<text x="68.3" y="356.0" font-size="9.42" textLength="28.86" lengthAdjust="spacingAndGlyphs" font-weight="bold" text-anchor="end" fill="#111" stroke="#111" stroke-width="0.28">Col1a1</text>
<rect x="115.85" y="358.06" width="17.10" height="8.76" fill="#c9b3db" stroke="#6e3aa8" stroke-width="0.9"/>
<line x1="71.6" y1="362.4" x2="75.2" y2="362.4" stroke="#3a3a3a" stroke-width="1.0"/>
<text x="68.3" y="365.6" font-size="9.42" textLength="18.08" lengthAdjust="spacingAndGlyphs" font-weight="bold" text-anchor="end" fill="#111" stroke="#111" stroke-width="0.28">Mgp</text>
<rect x="114.65" y="367.73" width="18.30" height="8.76" fill="#c9b3db" stroke="#6e3aa8" stroke-width="0.9"/>
<line x1="71.6" y1="372.1" x2="75.2" y2="372.1" stroke="#3a3a3a" stroke-width="1.0"/>
<text x="68.3" y="375.3" font-size="9.42" textLength="28.86" lengthAdjust="spacingAndGlyphs" font-weight="bold" text-anchor="end" fill="#111" stroke="#111" stroke-width="0.28">Col1a2</text>
<rect x="113.45" y="377.39" width="19.50" height="8.76" fill="#c9b3db" stroke="#6e3aa8" stroke-width="0.9"/>
<line x1="71.6" y1="381.8" x2="75.2" y2="381.8" stroke="#3a3a3a" stroke-width="1.0"/>
<text x="68.3" y="385.0" font-size="9.42" textLength="28.86" lengthAdjust="spacingAndGlyphs" font-weight="bold" text-anchor="end" fill="#111" stroke="#111" stroke-width="0.28">Col3a1</text>
<rect x="106.35" y="387.06" width="26.60" height="8.76" fill="#c9b3db" stroke="#6e3aa8" stroke-width="0.9"/>
<line x1="71.6" y1="391.4" x2="75.2" y2="391.4" stroke="#3a3a3a" stroke-width="1.0"/>
<text x="68.3" y="394.6" font-size="9.42" textLength="28.34" lengthAdjust="spacingAndGlyphs" font-weight="bold" text-anchor="end" fill="#111" stroke="#111" stroke-width="0.28">Hbb-bt</text>
<rect x="99.85" y="396.72" width="33.10" height="8.76" fill="#c9b3db" stroke="#6e3aa8" stroke-width="0.9"/>
<line x1="71.6" y1="401.1" x2="75.2" y2="401.1" stroke="#3a3a3a" stroke-width="1.0"/>
<text x="68.3" y="404.3" font-size="9.42" textLength="29.34" lengthAdjust="spacingAndGlyphs" font-weight="bold" text-anchor="end" fill="#111" stroke="#111" stroke-width="0.28">Hba-a2</text>
<rect x="98.65" y="406.39" width="34.30" height="8.76" fill="#c9b3db" stroke="#6e3aa8" stroke-width="0.9"/>
<line x1="71.6" y1="410.8" x2="75.2" y2="410.8" stroke="#3a3a3a" stroke-width="1.0"/>
<text x="68.3" y="414.0" font-size="9.42" textLength="39.14" lengthAdjust="spacingAndGlyphs" font-weight="bold" text-anchor="end" fill="#111" stroke="#111" stroke-width="0.28">Gm42418</text>
<rect x="96.25" y="416.06" width="36.70" height="8.76" fill="#c9b3db" stroke="#6e3aa8" stroke-width="0.9"/>
<line x1="71.6" y1="420.4" x2="75.2" y2="420.4" stroke="#3a3a3a" stroke-width="1.0"/>
<text x="68.3" y="423.6" font-size="9.42" textLength="29.34" lengthAdjust="spacingAndGlyphs" font-weight="bold" text-anchor="end" fill="#111" stroke="#111" stroke-width="0.28">Hba-a1</text>
<rect x="92.85" y="425.72" width="40.10" height="8.76" fill="#c9b3db" stroke="#6e3aa8" stroke-width="0.9"/>
<line x1="71.6" y1="430.1" x2="75.2" y2="430.1" stroke="#3a3a3a" stroke-width="1.0"/>
<text x="68.3" y="433.3" font-size="9.42" textLength="41.59" lengthAdjust="spacingAndGlyphs" font-weight="bold" text-anchor="end" fill="#111" stroke="#111" stroke-width="0.28">AY036118</text>
<rect x="84.85" y="435.38" width="48.10" height="8.76" fill="#aaaade" stroke="#4a3cb5" stroke-width="0.9"/>
<line x1="71.6" y1="439.8" x2="75.2" y2="439.8" stroke="#3a3a3a" stroke-width="1.0"/>
<text x="68.3" y="443.0" font-size="9.42" textLength="30.31" lengthAdjust="spacingAndGlyphs" font-weight="bold" text-anchor="end" fill="#111" stroke="#111" stroke-width="0.28">Hbb-bs</text>
<line x1="75.2" y1="248.0" x2="290.0" y2="248.0" stroke="#f0f0f0" stroke-width="0.8"/>
<line x1="75.2" y1="247.8" x2="75.2" y2="445.8" stroke="#3a3a3a" stroke-width="1.3"/>
<line x1="74.6" y1="445.2" x2="287.2" y2="445.2" stroke="#3a3a3a" stroke-width="1.3"/>
<line x1="84.3" y1="445.2" x2="84.3" y2="448.6" stroke="#3a3a3a" stroke-width="1.0"/>
<text x="82.7" y="457.6" font-size="9.20" textLength="11.96" lengthAdjust="spacingAndGlyphs" font-weight="bold" text-anchor="middle" fill="#111" stroke="#111" stroke-width="0.28">0.3</text>
<rect x="71.3" y="453.6" width="2.4" height="1.4" fill="#111"/>
<line x1="117.1" y1="445.2" x2="117.1" y2="448.6" stroke="#3a3a3a" stroke-width="1.0"/>
<text x="118.5" y="457.6" font-size="9.20" textLength="11.96" lengthAdjust="spacingAndGlyphs" font-weight="bold" text-anchor="middle" fill="#111" stroke="#111" stroke-width="0.28">0.1</text>
<rect x="107.1" y="453.6" width="2.4" height="1.4" fill="#111"/>
<line x1="150.1" y1="445.2" x2="150.1" y2="448.6" stroke="#3a3a3a" stroke-width="1.0"/>
<text x="149.8" y="457.6" font-size="9.20" textLength="11.96" lengthAdjust="spacingAndGlyphs" font-weight="bold" text-anchor="middle" fill="#111" stroke="#111" stroke-width="0.28">0.1</text>
<line x1="182.8" y1="445.2" x2="182.8" y2="448.6" stroke="#3a3a3a" stroke-width="1.0"/>
<text x="183.0" y="457.6" font-size="9.20" textLength="11.96" lengthAdjust="spacingAndGlyphs" font-weight="bold" text-anchor="middle" fill="#111" stroke="#111" stroke-width="0.28">0.3</text>
<line x1="215.7" y1="445.2" x2="215.7" y2="448.6" stroke="#3a3a3a" stroke-width="1.0"/>
<text x="216.1" y="457.6" font-size="9.20" textLength="11.96" lengthAdjust="spacingAndGlyphs" font-weight="bold" text-anchor="middle" fill="#111" stroke="#111" stroke-width="0.28">0.5</text>
<line x1="248.6" y1="445.2" x2="248.6" y2="448.6" stroke="#3a3a3a" stroke-width="1.0"/>
<text x="248.4" y="457.6" font-size="9.20" textLength="11.96" lengthAdjust="spacingAndGlyphs" font-weight="bold" text-anchor="middle" fill="#111" stroke="#111" stroke-width="0.28">0.7</text>
<line x1="281.5" y1="445.2" x2="281.5" y2="448.6" stroke="#3a3a3a" stroke-width="1.0"/>
<text x="281.2" y="457.6" font-size="9.20" textLength="11.96" lengthAdjust="spacingAndGlyphs" font-weight="bold" text-anchor="middle" fill="#111" stroke="#111" stroke-width="0.28">0.9</text>
<text x="181.8" y="479.9" font-size="10.06" textLength="127.42" lengthAdjust="spacingAndGlyphs" font-weight="bold" text-anchor="middle" fill="#111" stroke="#111" stroke-width="0.28">Correlation with CytoTRACE</text>
<text x="23.6" y="332.4" font-size="10.17" textLength="23.76" lengthAdjust="spacingAndGlyphs" font-weight="bold" text-anchor="middle" fill="#111" stroke="#111" stroke-width="0.28" transform="rotate(-90 23.6 332.4)">Gene</text>
<text x="7.3" y="230.0" font-size="9.63" textLength="5.01" lengthAdjust="spacingAndGlyphs" font-weight="bold" text-anchor="start" fill="#111" stroke="#111" stroke-width="0.28">c</text>
<path stroke="#9a2eec" stroke-width="1.3" fill="none" d="M424.3 268.2L424.3 270.2M435.7 273.3L435.7 274.5M453.4 284.3L453.4 285.5M406.7 268.0L406.7 270.0M360.8 267.3L360.8 268.5M435.7 278.5L435.7 279.7M422.9 272.8L422.9 274.8M382.0 264.5L382.0 266.5M389.1 260.7L389.1 261.9M380.0 258.7L380.0 260.7M447.5 284.1L447.5 285.3M374.4 266.2L374.4 268.2M359.5 263.8L359.5 265.0M441.0 279.4L441.0 280.6M429.8 277.0L429.8 278.2M436.7 274.1L436.7 275.3M397.3 264.3L397.3 265.5M378.4 261.0L378.4 262.2M452.7 282.1L452.7 284.1M414.2 267.1L414.2 268.3M441.4 275.7L441.4 277.7M367.8 263.3L367.8 265.3M394.4 261.2L394.4 263.2M392.2 266.0L392.2 268.0M430.8 270.5L430.8 272.5M456.2 287.0L456.2 289.0M419.9 268.1L419.9 269.3M365.2 261.3L365.2 262.5M442.3 280.5L442.3 282.5M425.2 269.6L425.2 271.6M374.8 261.0L374.8 263.0M459.2 286.0L459.2 287.2M409.6 266.0L409.6 267.2M399.8 268.6L399.8 269.8M454.1 285.4L454.1 286.6M368.7 263.9L368.7 265.1M397.0 262.1L397.0 263.3M427.2 271.4L427.2 273.4M388.7 262.7L388.7 264.7M389.9 260.5L389.9 261.7M360.6 264.5L360.6 266.5M407.1 264.1L407.1 265.3M395.3 262.3L395.3 264.3M396.3 261.4L396.3 263.4M456.4 283.9L456.4 285.9M377.2 260.3L377.2 262.3M430.1 271.8L430.1 273.8M423.6 268.9L423.6 270.1M361.8 266.7L361.8 267.9M381.8 261.4L381.8 263.4M407.8 268.4L407.8 270.4M392.1 266.4L392.1 267.6M406.7 267.2L406.7 268.4M385.2 260.6L385.2 261.8M389.0 264.9L389.0 266.1M397.3 267.3L397.3 269.3M413.8 269.2L413.8 270.4M441.4 278.2L441.4 280.2M396.6 266.4L396.6 268.4M455.0 282.6L455.0 284.6M447.2 286.0L447.2 287.2M421.0 272.2L421.0 273.4M398.1 265.3L398.1 267.3M455.9 287.1L455.9 288.3M420.3 271.5L420.3 272.7M402.9 266.7L402.9 267.9M389.7 264.5L389.7 265.7M405.1 266.7L405.1 267.9M360.6 265.4L360.6 266.6M437.3 278.8L437.3 280.8M455.5 287.9L455.5 289.9M425.6 270.7L425.6 272.7M435.0 277.2L435.0 279.2M389.8 263.5L389.8 265.5M435.2 275.5L435.2 276.7M407.6 263.2L407.6 265.2M360.1 262.9L360.1 264.1M430.4 273.4L430.4 275.4M399.1 265.4L399.1 266.6M391.3 261.8L391.3 263.8M429.5 274.8L429.5 276.8M448.1 285.3L448.1 287.3M410.6 268.8L410.6 270.8M439.7 281.6L439.7 283.6M440.1 276.9L440.1 278.1M457.3 283.7L457.3 285.7M442.2 280.8L442.2 282.0M430.3 277.5L430.3 279.5M374.7 262.6L374.7 263.8M422.5 273.8L422.5 275.8M366.3 265.7L366.3 267.7M445.5 283.8L445.5 285.8M420.9 270.0L420.9 271.2M365.3 262.8L365.3 264.8M411.3 265.0L411.3 266.2M386.9 263.6L386.9 265.6M411.9 270.9L411.9 272.1M432.8 276.4L432.8 278.4M368.0 262.2L368.0 264.2M419.9 270.8L419.9 272.8M393.9 262.1L393.9 264.1M365.8 265.9L365.8 267.1M383.1 265.5L383.1 266.7M440.3 280.7L440.3 281.9M383.6 263.6L383.6 265.6M399.1 266.3L399.1 268.3M440.2 277.8L440.2 279.8M419.8 268.6L419.8 270.6M369.5 266.5L369.5 267.7M447.9 282.2L447.9 284.2M408.1 264.2L408.1 265.4M407.0 269.6L407.0 270.8M398.1 265.0L398.1 267.0M386.0 264.8L386.0 266.8M385.2 263.6L385.2 264.8M397.4 260.9L397.4 262.9M409.3 264.3L409.3 266.3M389.7 262.1L389.7 264.1M380.1 266.0L380.1 268.0M401.6 262.6L401.6 263.8M407.2 267.1L407.2 269.1M375.8 263.8L375.8 265.0M425.3 272.5L425.3 273.7M365.2 261.7L365.2 263.7M415.8 265.3L415.8 267.3M369.6 265.4L369.6 267.4M450.6 287.1L450.6 289.1M399.8 268.1L399.8 270.1M392.1 267.3L392.1 268.5M377.4 263.0L377.4 265.0M368.5 264.7L368.5 266.7M360.5 263.8L360.5 265.8M398.1 262.6L398.1 264.6M391.4 264.1L391.4 265.3M372.3 264.8L372.3 266.0M441.1 280.1L441.1 281.3M384.1 265.9L384.1 267.9M384.7 265.6L384.7 267.6M379.8 264.7L379.8 265.9M402.8 265.9L402.8 267.9M449.1 281.4L449.1 282.6M405.0 263.3L405.0 264.5M433.4 275.0L433.4 276.2M398.7 267.1L398.7 269.1M386.9 262.2L386.9 264.2M436.6 275.9L436.6 277.9M373.8 262.7L373.8 264.7M421.2 272.1L421.2 274.1M392.4 267.0L392.4 268.2M431.5 277.6L431.5 278.8M432.0 274.5L432.0 275.7M372.3 263.7L372.3 265.7M404.4 265.3L404.4 266.5M414.5 265.4L414.5 266.6M442.0 279.2L442.0 281.2M361.7 263.8L361.7 265.0M399.5 266.9L399.5 268.9M416.6 269.3L416.6 271.3M396.4 266.1L396.4 267.3M444.7 279.7L444.7 281.7M443.3 279.4L443.3 281.4M369.4 261.3L369.4 263.3M438.5 278.1L438.5 279.3M424.0 269.0L424.0 271.0M412.2 267.9L412.2 269.1M391.7 267.3L391.7 269.3M407.6 266.3L407.6 268.3M441.9 275.0L441.9 277.0M414.4 266.8L414.4 268.8M428.5 273.4L428.5 274.6M367.5 263.6L367.5 265.6M431.6 275.7L431.6 276.9M430.8 276.2L430.8 278.2M454.8 282.4L454.8 284.4M434.4 275.6L434.4 276.8M448.4 283.9L448.4 285.9M399.2 268.1L399.2 270.1M427.7 269.6L427.7 270.8M398.6 266.5L398.6 268.5M431.8 274.9L431.8 276.9M390.1 264.4L390.1 266.4M376.8 261.9L376.8 263.1M366.2 262.1L366.2 264.1M432.2 276.0L432.2 277.2M448.6 284.7L448.6 286.7M453.9 288.2L453.9 289.4M417.1 268.5L417.1 270.5M419.9 267.9L419.9 269.9M366.2 262.8L366.2 264.0M391.9 260.6L391.9 262.6M369.9 265.5L369.9 266.7M375.9 262.9L375.9 264.1M434.8 272.5L434.8 274.5M451.6 280.4L451.6 282.4M370.4 266.0L370.4 267.2M397.5 264.4L397.5 265.6M367.4 264.0L367.4 265.2M371.2 262.7L371.2 264.7M411.2 264.6L411.2 265.8M436.4 275.4L436.4 276.6M408.4 266.6L408.4 268.6M397.8 266.3L397.8 267.5M438.7 277.2L438.7 279.2M445.0 280.1L445.0 282.1M384.8 262.3L384.8 263.5M399.8 262.1L399.8 264.1M439.4 281.0L439.4 282.2M360.9 266.1L360.9 267.3M411.9 271.8L411.9 273.8M405.5 266.7L405.5 267.9M454.1 284.8L454.1 286.0M399.3 263.6L399.3 264.8M449.5 281.9L449.5 283.9M360.8 263.1L360.8 264.3M442.5 277.9L442.5 279.9M437.1 274.7L437.1 275.9M404.3 262.8L404.3 264.0M426.6 275.2L426.6 277.2M367.8 263.8L367.8 265.0M419.9 273.1L419.9 275.1M450.9 287.7L450.9 289.7M386.8 262.6L386.8 263.8M376.0 262.5L376.0 264.5M368.5 265.2L368.5 267.2M396.2 264.3L396.2 265.5M384.7 263.1L384.7 265.1M431.6 277.3L431.6 279.3M359.6 262.6L359.6 264.6M423.5 268.7L423.5 270.7M363.3 264.9L363.3 266.1M389.6 262.9L389.6 264.9M397.3 263.1L397.3 265.1M454.7 282.7L454.7 284.7M449.5 287.3L449.5 288.5M413.7 268.5L413.7 270.5M416.6 266.8L416.6 268.8M410.5 267.7L410.5 268.9M365.6 266.7L365.6 267.9M453.9 288.7L453.9 289.9M433.9 276.6L433.9 277.8M399.4 264.2L399.4 266.2M446.9 282.1L446.9 283.3M373.7 265.4L373.7 266.6M361.1 266.5L361.1 268.5M444.7 283.7L444.7 285.7M432.4 274.1L432.4 275.3M452.6 288.0L452.6 289.2M368.4 266.0L368.4 268.0M449.6 281.3L449.6 283.3M442.8 281.6L442.8 283.6M390.0 266.6L390.0 267.8M449.2 283.3L449.2 285.3M387.3 260.5L387.3 262.5M394.8 267.2L394.8 269.2M425.4 274.6L425.4 275.8M428.1 273.5L428.1 274.7M373.9 264.7L373.9 265.9M448.8 281.9L448.8 283.9M439.0 275.3L439.0 277.3M386.7 263.8L386.7 265.8M424.5 270.5L424.5 271.7M437.0 277.9L437.0 279.9M445.6 279.8L445.6 281.8M398.9 263.7L398.9 264.9M401.7 266.2L401.7 268.2M431.9 275.2L431.9 276.4M391.3 265.4L391.3 267.4M449.0 282.8L449.0 284.8M382.3 266.1L382.3 267.3M371.3 262.2L371.3 264.2M406.9 269.1L406.9 270.3M414.4 270.8L414.4 272.8M403.1 266.8L403.1 268.8M402.2 267.3L402.2 269.3M399.7 259.6L399.7 260.8M442.6 273.8L442.6 275.8M453.4 281.1L453.4 283.1M418.9 265.8L418.9 267.0M386.8 258.0L386.8 259.2M373.1 258.4L373.1 259.6M369.1 257.4L369.1 258.6M366.9 258.1L366.9 259.3M377.0 257.9L377.0 259.9M387.2 259.4L387.2 260.6M371.8 258.3L371.8 259.5M427.6 266.1L427.6 268.1M389.5 258.9L389.5 260.9M404.4 261.3L404.4 262.5M428.4 266.9L428.4 268.9M455.3 280.9L455.3 282.1M404.2 259.7L404.2 260.9M435.0 269.8L435.0 271.8M440.7 274.1L440.7 276.1M441.0 272.4L441.0 273.6M415.6 264.3L415.6 265.5M458.4 282.9L458.4 284.1M427.4 267.4L427.4 269.4"/>
<path stroke="#2ae8ea" stroke-width="1.3" fill="none" d="M437.7 276.4L437.7 277.6M383.2 261.4L383.2 262.6M369.7 263.4L369.7 264.6M402.4 267.3L402.4 268.5M380.3 264.8L380.3 266.8"/>
<path stroke="#f82b2b" stroke-width="1.3" fill="none" d="M451.3 282.9L451.3 284.9"/>
<path stroke="#9a2eec" stroke-width="1.15" fill="none" d="M348.7 272.7L352.7 274.4M348.2 275.1L352.2 276.8M352.8 275.1L356.2 276.8M346.5 279.8L350.5 281.5M350.9 279.8L354.3 281.5M345.8 282.1L349.8 283.8M350.4 282.1L353.8 283.8M349.6 284.5L353.0 286.2M344.0 286.8L348.0 288.5M348.0 286.8L351.4 288.5M342.4 289.2L346.4 290.9M347.2 289.2L350.6 290.9M342.3 291.5L346.3 293.2M346.8 291.5L350.2 293.2M345.8 293.9L349.2 295.6M340.8 296.2L344.8 297.9M344.4 296.2L347.8 297.9M339.6 298.6L343.6 300.3M343.6 298.6L347.0 300.3M343.0 300.9L346.4 302.6M337.3 303.3L341.3 305.0M342.2 303.3L345.6 305.0M335.8 308.0L339.8 309.7M340.7 308.0L344.1 309.7M335.5 310.3L339.5 312.0M339.5 310.3L342.9 312.0M333.6 312.7L337.6 314.4M338.4 312.7L341.8 314.4M333.5 315.0L337.5 316.7M337.2 315.0L340.6 316.7M332.5 317.4L336.5 319.1M336.2 317.4L339.6 319.1M336.2 319.7L339.6 321.4M330.3 322.1L334.3 323.8M335.1 322.1L338.5 323.8"/>
<path stroke="#f82b2b" stroke-width="1.15" fill="none" d="M340.9 293.9L344.9 295.6M341.7 305.6L345.1 307.3M331.5 319.7L335.5 321.4"/>
<path d="M349.3 253.0L353.0 252.3L356.0 254.0L356.8 258.0L358.0 262.0L357.5 266.0L355.0 266.2L353.0 262.0L350.0 258.5Z" fill="#9a2eec" fill-opacity="0.85"/>
<path d="M382.0 258.5L386.5 258.0L387.2 261.0L385.5 265.0L383.0 265.8L382.0 262.0Z" fill="#9a2eec" fill-opacity="0.85"/>
<path d="M333.0 324.0L338.0 323.5L341.0 327.0L343.5 332.0L343.0 337.0L341.0 341.0L337.0 344.3L333.0 343.0L331.7 338.0L332.0 330.0Z" fill="#f82b2b" fill-opacity="0.85"/>
<path d="M488.3 290.0L493.0 290.0L494.0 294.0L493.8 298.8L489.0 298.5L488.0 294.0Z" fill="#0c10f0" fill-opacity="0.8"/>
<path stroke="#9a2eec" stroke-width="1.3" stroke-linecap="square" d="M354.3 258.8h0M352.7 255.7h0M349.3 255.1h0M355.1 258.8h0M355.3 258.2h0M356.6 259.6h0M355.4 261.2h0M352.6 253.9h0M353.5 263.0h0M356.9 262.3h0M357.3 261.0h0M350.5 255.0h0M351.9 259.4h0M354.8 256.5h0M355.9 260.0h0M357.4 260.3h0M352.6 253.3h0M352.9 256.7h0M354.3 255.1h0M350.8 254.7h0M353.4 262.3h0M350.7 255.3h0M351.9 254.7h0M357.9 262.3h0M350.6 256.0h0M355.1 259.8h0M350.4 253.9h0M353.9 255.6h0M357.0 265.3h0M356.7 258.7h0M356.3 257.0h0M353.0 253.1h0M352.9 260.4h0M356.9 265.1h0M355.3 258.7h0M353.9 261.1h0M350.1 256.6h0M351.5 253.9h0M350.8 254.5h0M357.0 260.9h0M355.4 256.2h0M354.9 253.9h0M356.2 255.9h0M353.7 257.9h0M383.2 260.7h0M383.6 257.9h0M383.8 262.3h0M384.9 262.2h0M386.2 263.2h0M385.2 262.7h0M384.4 262.7h0M384.7 262.2h0M383.6 265.6h0M383.1 261.9h0M383.1 265.5h0M386.0 261.5h0M386.1 261.1h0M382.6 261.3h0M385.2 260.8h0M385.1 259.3h0M382.6 258.5h0M384.5 259.2h0"/>
<path stroke="#f82b2b" stroke-width="1.3" stroke-linecap="square" d="M339.9 332.5h0M336.3 330.4h0M339.2 341.2h0M338.6 331.5h0M342.0 336.4h0M341.4 332.2h0M338.8 327.9h0M335.3 334.7h0M339.7 328.6h0M335.6 337.9h0M336.2 340.8h0M336.4 325.3h0M337.1 328.0h0M334.4 329.9h0M334.3 331.9h0M339.6 329.3h0M339.6 328.9h0M341.8 331.8h0M339.9 339.3h0M336.3 343.5h0M335.5 332.5h0M335.2 338.8h0M337.7 331.1h0M332.9 327.3h0M340.9 339.7h0M334.1 325.7h0M337.5 344.7h0M334.4 327.7h0M342.8 335.0h0M337.8 343.6h0M342.0 334.6h0M340.8 335.8h0M334.7 330.1h0M332.6 336.8h0M337.2 332.6h0M337.9 341.9h0M340.4 338.8h0M335.1 327.7h0M336.7 324.5h0M339.9 330.8h0M339.6 339.3h0M335.0 332.0h0M338.7 337.5h0M337.6 331.5h0M333.3 340.3h0M339.9 328.8h0M339.3 324.2h0M340.7 329.4h0M337.9 330.7h0M332.6 332.8h0M336.5 326.2h0M336.3 326.2h0M332.7 334.8h0M340.2 341.4h0M333.3 328.4h0M338.7 327.6h0M337.9 336.2h0M337.5 340.4h0M339.7 329.5h0M336.8 324.9h0M337.2 331.3h0M337.4 331.8h0M339.7 332.0h0M338.8 327.6h0M337.4 338.8h0M334.4 327.1h0M334.4 330.7h0M333.7 328.1h0M331.7 335.5h0M338.1 339.5h0M335.5 324.4h0M339.2 332.8h0M340.1 338.4h0M339.5 327.8h0M338.2 327.3h0M340.0 341.0h0M337.4 327.7h0M336.9 325.3h0M333.9 339.2h0M333.5 331.0h0M336.4 327.7h0M337.0 333.5h0M336.4 327.1h0M334.6 328.3h0M342.0 335.8h0M333.6 335.7h0M334.1 326.0h0M336.6 340.5h0M335.3 329.1h0M334.3 330.7h0M333.2 342.7h0M335.7 341.9h0M332.7 330.8h0M335.3 331.9h0M341.2 331.6h0M339.7 332.6h0M334.8 324.7h0M332.6 330.4h0M336.4 326.7h0M342.8 337.2h0M332.4 330.7h0M333.7 330.0h0M332.1 333.0h0M337.7 325.5h0M342.4 335.0h0M332.3 340.3h0M334.8 338.9h0M337.7 332.8h0M337.7 338.5h0M334.1 335.0h0M334.2 329.7h0M440.5 317.3h0M450.7 312.6h0M445.6 310.3h0M441.1 323.8h0M443.4 310.4h0M443.7 323.0h0M452.7 317.5h0M445.3 319.6h0M444.8 322.8h0M440.0 315.4h0M450.8 320.8h0M447.7 315.1h0M450.0 317.3h0M447.7 321.3h0M442.0 317.9h0M447.3 321.2h0M446.2 323.1h0M445.7 316.8h0M449.2 322.7h0M446.7 315.9h0M443.7 319.7h0M440.4 322.0h0M449.3 317.9h0M451.8 319.0h0M444.3 324.6h0M448.5 322.1h0M442.6 319.5h0M444.2 318.5h0M443.5 314.9h0M449.1 320.0h0M450.1 316.0h0M443.0 317.3h0M452.0 315.6h0M448.3 319.3h0M446.9 322.7h0M447.3 323.1h0M438.9 317.6h0M447.6 317.6h0M444.9 325.6h0M447.9 319.4h0M442.0 315.9h0M446.6 323.6h0M441.0 316.3h0M451.4 315.0h0M449.8 314.1h0M445.7 319.1h0M443.0 320.6h0M444.1 318.9h0M440.5 316.0h0M443.1 321.9h0M450.5 322.1h0M444.2 316.4h0M448.6 323.4h0M441.9 323.0h0M446.9 321.2h0M446.7 319.4h0M443.1 314.7h0M447.1 318.3h0M447.5 322.1h0M439.0 319.0h0M439.9 317.5h0M442.2 320.5h0M439.4 319.7h0M440.7 315.4h0M447.1 314.9h0M441.4 318.9h0M447.4 315.7h0M441.5 315.9h0M448.8 318.8h0M440.1 320.0h0M442.3 317.1h0M440.8 321.9h0M446.0 316.2h0M450.3 319.0h0M445.6 314.9h0M445.3 322.2h0M444.6 313.3h0M448.1 318.7h0M440.9 324.0h0M442.1 313.9h0M452.7 315.7h0M447.8 315.2h0M449.0 322.0h0M450.1 323.9h0M444.6 315.1h0M439.3 317.6h0M442.8 323.7h0M450.3 319.6h0M445.0 319.8h0M450.9 319.2h0M448.5 324.8h0M446.6 317.9h0M440.5 317.6h0M438.6 319.6h0M450.1 315.9h0M439.9 319.9h0M452.2 314.8h0M439.6 320.4h0M448.7 323.0h0M441.7 316.2h0M449.4 321.8h0M438.3 316.5h0M440.2 316.8h0M449.9 317.1h0M450.9 318.2h0M444.2 312.9h0M440.4 313.7h0M441.5 319.1h0M450.2 316.3h0M450.4 322.5h0M444.6 314.2h0M451.2 315.9h0M446.8 320.0h0M444.6 323.9h0M447.9 312.2h0M451.3 317.3h0M438.8 316.9h0M442.8 319.2h0M447.3 324.3h0M439.3 319.7h0M443.4 315.7h0M445.4 313.1h0M444.9 319.3h0M441.5 321.5h0M447.4 324.2h0M443.3 316.9h0M442.4 316.1h0M443.0 317.1h0M447.3 317.4h0M448.5 315.3h0M451.1 316.4h0M451.6 315.5h0M447.2 320.4h0M444.1 323.0h0M448.8 315.1h0M440.8 322.9h0M445.0 325.2h0M443.7 319.2h0M444.8 319.5h0M445.1 318.3h0M444.7 322.8h0M449.0 312.6h0M441.4 323.2h0M452.3 315.0h0M445.7 317.1h0M448.7 311.2h0M446.5 321.1h0M446.3 319.6h0M441.6 318.1h0M452.3 315.2h0M441.3 314.7h0M442.1 323.8h0M448.3 319.0h0M441.1 321.3h0M445.6 323.2h0M440.8 321.1h0M441.0 323.1h0M446.0 317.3h0M445.9 316.4h0M452.2 314.8h0M444.7 314.4h0M451.2 318.2h0M448.9 312.8h0M449.8 322.6h0M460.2 303.2h0M458.3 301.1h0M459.7 303.0h0M458.4 302.9h0M459.2 299.1h0M459.7 302.1h0M457.1 295.2h0M459.1 295.5h0"/>
<path stroke="#0c10f0" stroke-width="1.3" stroke-linecap="square" d="M335.2 331.2h0M475.9 290.9h0M483.4 291.7h0M460.0 289.8h0M487.5 293.4h0M459.0 291.9h0M472.6 287.8h0M474.9 294.6h0M480.6 293.1h0M467.4 289.7h0M472.3 289.0h0M469.5 289.6h0M489.1 291.4h0M491.3 290.3h0M488.5 296.9h0M491.0 292.0h0M490.5 293.5h0M489.9 298.2h0M489.1 295.6h0M493.3 292.3h0M492.4 293.5h0M492.2 298.0h0M488.9 292.3h0M489.8 295.4h0M490.1 298.0h0M491.5 298.4h0M488.0 295.1h0M491.7 293.5h0M491.5 294.8h0M492.1 298.3h0M490.9 298.1h0M491.7 290.5h0M493.5 293.4h0M488.7 293.2h0M490.8 296.9h0M442.7 318.6h0M444.6 313.4h0M445.5 312.0h0M448.7 314.7h0M446.9 320.3h0M442.7 311.1h0M449.8 309.6h0M441.6 312.9h0M440.5 316.0h0M449.8 323.7h0M442.5 318.4h0M446.3 317.6h0M449.7 318.2h0M451.0 312.5h0M446.9 311.8h0M442.7 316.8h0M442.8 310.9h0M446.5 310.4h0M445.3 312.7h0M444.8 311.8h0M446.0 311.1h0M443.0 318.3h0M445.4 310.7h0M450.7 312.2h0M446.4 320.7h0M444.0 323.2h0M450.2 311.8h0M442.6 311.1h0M448.5 318.0h0M444.3 316.7h0M443.4 313.0h0M448.4 312.2h0M446.7 312.3h0M445.7 322.8h0M440.4 320.0h0M447.1 314.5h0M449.8 309.0h0M453.5 300.7h0M454.7 301.3h0M453.4 303.0h0M451.1 307.3h0M455.5 297.3h0M460.1 300.8h0M460.1 299.3h0M459.8 302.9h0M460.9 301.0h0M457.9 297.3h0M459.3 303.5h0M457.6 295.9h0M460.6 304.5h0M459.5 304.4h0M457.7 295.3h0M459.5 303.6h0M458.2 294.8h0M459.7 298.2h0M459.5 298.2h0"/>
<path stroke="#22a2a1" stroke-width="1.3" stroke-linecap="square" d="M470.0 292.9h0M472.0 290.5h0M468.8 290.2h0M468.4 293.3h0M473.3 293.5h0M484.9 290.1h0M483.4 293.4h0M488.7 290.2h0M484.7 290.5h0M485.3 288.4h0M483.1 292.2h0M474.5 293.9h0M461.7 292.4h0M489.5 289.9h0M483.9 294.2h0M460.9 293.9h0M484.2 291.2h0M482.8 292.4h0M467.0 293.3h0M469.8 292.8h0M483.8 288.8h0M458.7 294.5h0M465.7 291.1h0M462.1 289.5h0M485.5 292.7h0M464.9 288.7h0M478.1 293.2h0M490.0 290.6h0M487.3 289.6h0M475.2 290.5h0M488.3 294.2h0M458.8 293.4h0M490.7 290.7h0M488.4 291.1h0M488.9 288.2h0M462.9 290.4h0M470.5 290.0h0M489.2 294.6h0M480.8 293.7h0M478.2 289.9h0M481.8 287.7h0M490.3 289.4h0M460.1 287.4h0M457.8 293.5h0M461.6 291.5h0M487.9 293.5h0M459.2 291.3h0M459.4 293.4h0M489.1 293.6h0M479.8 291.0h0M464.5 292.3h0M483.3 290.3h0M474.8 290.5h0M487.6 289.1h0M471.7 292.1h0M488.0 288.7h0M459.0 289.9h0M463.0 290.3h0M481.2 291.8h0M484.0 288.3h0M480.2 292.4h0M465.1 292.2h0M462.8 292.4h0M463.4 288.7h0M490.2 290.0h0M474.6 289.5h0M489.7 293.3h0M475.9 292.2h0M461.7 291.4h0M480.4 294.1h0M485.3 292.2h0M471.7 289.0h0M461.6 290.2h0M470.6 292.0h0M485.5 294.1h0M486.5 290.0h0M488.7 289.7h0M468.3 293.0h0M461.4 294.5h0M488.7 291.8h0M482.4 294.0h0M489.0 292.4h0M486.2 293.0h0M457.7 294.5h0M472.0 293.8h0M478.9 289.3h0M488.6 292.5h0M463.8 292.9h0M484.3 293.9h0M479.2 288.9h0M478.5 288.4h0M473.1 290.8h0M479.2 290.6h0M479.6 293.2h0M477.4 292.2h0M463.7 289.3h0M487.8 292.1h0M466.6 293.7h0M458.6 293.1h0M474.4 291.3h0M488.6 293.0h0M481.0 289.6h0M460.3 290.5h0M459.1 290.4h0M487.3 294.4h0M466.3 292.0h0M475.5 289.4h0M484.0 289.2h0M487.0 292.8h0M468.2 292.8h0M461.4 290.5h0M474.1 288.4h0M463.5 289.3h0M478.7 293.7h0M487.8 291.4h0M481.1 287.9h0M457.7 289.2h0M485.9 293.6h0M475.2 290.0h0M466.4 289.9h0M460.2 290.7h0M488.9 293.1h0M488.3 291.0h0M460.5 292.0h0M476.5 294.0h0M486.2 293.3h0M487.0 292.1h0M466.9 289.2h0M462.1 293.5h0M490.9 291.6h0M460.9 291.4h0M466.7 292.9h0M482.5 291.6h0M485.3 292.1h0M472.5 288.0h0M475.8 289.6h0M480.6 292.6h0M483.0 288.0h0M478.8 288.2h0M484.3 292.3h0M471.5 294.9h0M469.9 287.8h0M462.9 292.3h0M483.8 293.4h0M476.6 292.9h0M471.7 293.3h0M475.0 292.4h0M485.3 290.2h0M488.6 290.9h0M470.9 292.1h0M478.5 293.9h0M478.5 290.7h0M489.0 289.5h0M478.2 292.4h0M483.1 292.9h0M475.3 294.2h0M488.7 291.8h0M486.3 293.5h0M459.6 294.2h0M461.0 293.7h0M485.7 287.8h0M473.8 290.5h0M461.7 293.1h0M461.8 288.5h0M481.7 293.6h0M465.5 293.2h0M463.2 294.0h0M475.6 288.6h0M478.2 289.8h0M483.6 290.0h0M467.4 288.9h0M474.6 291.0h0M474.1 295.0h0M472.4 291.5h0M487.8 289.2h0M469.5 291.2h0M459.6 292.4h0M488.6 291.0h0M482.9 292.0h0M465.3 293.9h0M478.5 291.1h0M460.2 289.6h0M474.2 289.0h0M472.1 291.3h0M474.9 294.4h0M467.4 288.5h0M472.1 290.1h0M483.2 289.9h0M478.2 288.2h0M479.6 288.3h0M476.7 293.3h0M481.4 292.7h0M470.6 290.0h0M467.9 289.1h0M458.0 292.1h0M473.2 293.9h0M482.2 289.4h0M484.3 293.3h0M468.1 292.3h0M487.6 293.2h0M464.3 292.9h0M482.7 292.0h0M482.8 294.2h0M464.4 294.7h0M481.8 288.4h0M464.2 289.8h0M476.5 294.6h0M489.6 294.0h0M473.9 290.5h0M467.2 288.7h0M474.9 294.0h0M473.7 295.0h0M461.8 293.0h0M474.3 294.0h0M459.6 289.2h0M459.4 289.9h0M459.5 293.1h0M466.4 288.1h0M474.0 287.9h0M469.2 291.8h0M471.1 289.5h0M465.1 288.4h0M483.0 292.0h0M488.0 292.8h0M486.9 291.2h0M460.2 293.6h0M481.8 289.6h0M486.3 292.4h0M483.1 292.8h0M476.4 288.8h0M474.5 288.1h0M461.7 292.8h0M482.6 290.7h0M478.2 294.1h0M480.5 293.3h0M469.6 288.6h0M484.2 292.6h0M463.4 294.3h0M457.6 288.1h0M458.1 290.1h0M469.0 289.5h0M477.1 293.2h0M460.0 293.7h0M485.7 289.7h0M481.0 289.0h0M478.2 290.4h0M486.7 289.5h0M474.4 290.5h0M481.7 294.7h0M462.7 294.2h0M473.8 289.1h0M474.1 288.2h0M478.7 290.9h0M484.0 289.6h0M489.0 292.0h0M470.2 291.5h0M474.9 288.3h0M474.0 291.6h0M487.1 290.0h0M474.1 289.4h0M484.0 290.9h0M458.2 288.5h0M458.6 290.4h0M490.1 293.9h0M474.4 292.6h0M475.2 291.1h0M474.2 292.3h0M466.6 293.5h0M459.0 291.7h0M478.3 294.9h0M476.9 294.1h0M478.6 290.4h0M460.2 292.0h0M463.5 294.2h0M463.2 293.6h0M468.5 292.8h0M470.7 288.0h0M467.5 293.5h0M482.4 293.7h0M480.8 294.2h0M485.3 293.3h0M476.4 292.5h0M470.7 288.7h0M464.3 289.2h0M464.8 288.3h0M472.4 289.0h0M477.1 287.7h0M464.1 294.9h0M471.3 294.8h0M481.2 289.9h0M468.8 290.1h0M488.8 288.9h0M482.5 291.2h0M458.1 292.3h0M478.7 289.4h0M478.6 292.9h0M486.5 292.6h0M464.8 294.1h0M467.6 289.2h0M480.6 289.3h0M456.6 289.9h0M480.6 294.9h0M464.3 289.4h0M459.5 292.7h0M487.8 291.5h0M488.2 291.0h0"/>
<path stroke="#2ae8ea" stroke-width="1.3" stroke-linecap="square" d="M469.3 293.2h0M460.7 291.9h0M472.3 292.7h0M478.1 294.5h0M475.8 291.6h0M470.4 292.4h0M485.3 291.3h0M481.3 290.8h0M469.6 291.6h0M489.4 288.4h0M475.0 289.9h0M463.9 290.2h0M474.5 289.2h0M486.5 294.1h0M478.0 293.9h0M473.9 287.6h0M488.0 287.9h0M466.9 289.2h0M445.2 314.2h0M450.1 312.6h0M443.8 311.9h0M448.7 309.8h0M444.4 309.3h0M451.3 314.1h0M442.1 313.7h0M448.1 322.8h0M450.8 313.8h0M442.2 317.0h0M447.1 310.6h0M450.4 310.9h0M441.3 312.9h0M450.2 320.9h0M440.3 313.9h0M445.3 324.1h0M449.8 321.8h0M451.2 315.6h0M449.7 312.4h0M443.4 311.3h0M442.0 311.7h0M442.9 311.3h0M448.2 312.0h0M445.1 311.9h0M448.7 311.4h0M448.5 311.1h0M450.6 312.3h0M440.1 312.2h0M441.3 318.0h0M441.7 314.5h0M449.9 314.2h0M449.6 314.1h0M441.5 313.3h0M446.8 310.1h0M443.7 309.4h0M447.9 310.0h0M455.6 298.9h0M452.7 305.3h0M452.0 304.5h0M453.4 298.8h0M454.8 299.6h0M451.9 304.7h0M455.2 296.7h0M452.4 299.7h0"/>
<path d="M339.1 325.2L346.5 307.0L353.3 290.0L357.0 279.0L360.1 269.9" stroke="#444" stroke-width="0.75" fill="none"/>
<path d="M360.1 269.9L371.0 268.5L383.3 268.5" stroke="#444" stroke-width="0.75" fill="none"/>
<path d="M383.3 268.5L400.0 270.5L420.0 275.5L440.0 284.0L455.2 292.8" stroke="#444" stroke-width="0.75" fill="none"/>
<path d="M455.2 292.8L470.0 291.5L490.0 291.0" stroke="#444" stroke-width="0.75" fill="none"/>
<path d="M454.5 297.1L452.0 304.0L450.2 309.0L447.0 314.0" stroke="#444" stroke-width="0.75" fill="none"/>
<path d="M456.0 295.0L458.8 297.0L460.3 304.6" stroke="#444" stroke-width="0.75" fill="none"/>
<path d="M360.1 269.9L356.5 264.5" stroke="#444" stroke-width="0.75" fill="none"/>
<path stroke="#0c10f0" stroke-width="1.3" stroke-linecap="square" d="M421.9 275.4h0M391.2 269.3h0M369.2 268.5h0M445.8 288.3h0M387.8 269.8h0M364.1 268.0h0M420.9 276.6h0M361.6 271.8h0M421.5 277.4h0M377.8 269.6h0M452.2 293.2h0M446.2 288.1h0M390.5 270.4h0M383.8 270.5h0M407.0 273.4h0M389.8 269.8h0M371.9 270.3h0"/>
<path stroke="#2ae8ea" stroke-width="1.3" stroke-linecap="square" d="M451.2 291.9h0M401.1 270.4h0M370.8 268.8h0M404.3 273.4h0M451.9 290.4h0M397.3 271.0h0M438.9 284.1h0M400.0 271.8h0M430.5 281.4h0M431.5 279.6h0M368.9 269.2h0M430.3 279.8h0M363.3 269.0h0M409.5 272.7h0M446.0 289.0h0M383.1 268.6h0M415.9 276.3h0M429.4 282.2h0M419.0 274.1h0M404.7 271.8h0M397.2 271.0h0M369.9 270.8h0M419.2 277.2h0M414.5 273.7h0M415.1 276.0h0M383.9 269.3h0M427.2 278.2h0M449.4 288.5h0M402.1 273.5h0M392.6 269.0h0M436.4 285.0h0M394.5 270.6h0M376.1 270.5h0M422.7 275.7h0M406.9 273.3h0M434.0 282.3h0M415.5 276.2h0M387.9 269.2h0M439.5 286.2h0M396.3 271.4h0M367.1 268.1h0M404.2 273.3h0M362.7 270.4h0M429.3 280.4h0M358.2 273.1h0M352.5 289.0h0M355.9 282.7h0M352.9 289.7h0M345.2 311.4h0M355.6 282.0h0M341.1 321.5h0M354.5 287.7h0M355.5 285.4h0M344.1 312.9h0M351.9 292.9h0M353.4 286.5h0M355.5 282.4h0"/>
<path stroke="#f82b2b" stroke-width="1.3" stroke-linecap="square" d="M433.8 280.7h0M437.6 282.2h0M387.8 269.1h0M406.6 271.9h0M407.3 274.2h0M421.7 276.9h0M414.7 273.6h0M389.7 270.3h0M443.1 287.5h0M371.0 270.4h0M361.2 269.3h0M354.8 287.8h0M352.6 292.3h0"/>
<path stroke="#9a2eec" stroke-width="1.3" stroke-linecap="square" d="M401.3 270.9h0M362.4 269.0h0M393.6 270.2h0M384.2 270.3h0M369.5 269.0h0M412.9 274.3h0M428.2 279.4h0M376.2 269.0h0M353.3 288.1h0M348.4 299.7h0M354.6 286.9h0M356.3 281.4h0M351.7 292.6h0M340.7 321.2h0M358.0 273.8h0M353.2 288.1h0M356.9 279.1h0M351.3 296.8h0M341.4 321.1h0M347.3 304.8h0M357.9 278.4h0M358.7 274.2h0M353.2 286.8h0M353.3 290.3h0M349.3 302.1h0M357.6 278.8h0M353.0 290.0h0M347.9 301.3h0M344.6 313.3h0M356.0 280.6h0M357.8 275.0h0M339.8 324.6h0M344.6 311.7h0M345.0 307.6h0M353.9 285.5h0M343.0 313.1h0M347.8 302.1h0M358.5 275.3h0M341.3 320.3h0M356.9 275.9h0M341.2 321.4h0M346.7 306.8h0M350.8 297.4h0M355.0 285.4h0M355.3 281.7h0M350.0 296.9h0M355.1 286.0h0M351.4 293.9h0M348.6 299.0h0M347.7 304.8h0M360.3 270.1h0M356.1 279.1h0M349.1 301.2h0M355.3 284.1h0M359.2 273.3h0M349.3 302.1h0M340.6 320.9h0M350.5 296.0h0M355.5 281.4h0M347.6 304.0h0M356.5 279.9h0M350.8 296.2h0M340.9 321.8h0"/>
<circle cx="360.1" cy="269.9" r="1.75" fill="#444" stroke="#111" stroke-width="0.9"/>
<circle cx="383.3" cy="268.5" r="1.75" fill="#444" stroke="#111" stroke-width="0.9"/>
<circle cx="455.2" cy="292.8" r="1.75" fill="#444" stroke="#111" stroke-width="0.9"/>
<circle cx="454.5" cy="297.1" r="1.75" fill="#444" stroke="#111" stroke-width="0.9"/>
<path d="M371.5 272.7C380 268.5 410 272 422.3 291.6" stroke="#666" stroke-width="0.8" fill="none"/>
<path d="M419.6 287.2C420.8 288.8 421.6 290.2 422.4 291.8" stroke="#111" stroke-width="1.9" fill="none" stroke-linecap="round"/>
<path d="M371.5 272.9L374.2 271.3" stroke="#111" stroke-width="1.7" fill="none" stroke-linecap="round"/>
<path d="M365.7 275.9C358 280.5 352.5 292 350 306C348.8 314 348.8 321 349.5 326.6" stroke="#777" stroke-width="0.8" fill="none"/>
<path d="M349.0 320.5C349.0 322.8 349.2 324.8 349.6 326.8" stroke="#111" stroke-width="1.8" fill="none" stroke-linecap="round"/>
<path d="M365.7 275.9L363.4 277.3" stroke="#111" stroke-width="1.7" fill="none" stroke-linecap="round"/>
<line x1="323.4" y1="248.3" x2="323.4" y2="349.2" stroke="#bdbdbd" stroke-width="1.0"/>
<line x1="322.9" y1="348.8" x2="500.5" y2="348.8" stroke="#bdbdbd" stroke-width="1.0"/>
<line x1="321.3" y1="265.8" x2="323.4" y2="265.8" stroke="#bdbdbd" stroke-width="0.8"/>
<line x1="321.3" y1="291.2" x2="323.4" y2="291.2" stroke="#bdbdbd" stroke-width="0.8"/>
<line x1="321.3" y1="316.1" x2="323.4" y2="316.1" stroke="#bdbdbd" stroke-width="0.8"/>
<line x1="321.3" y1="340.7" x2="323.4" y2="340.7" stroke="#bdbdbd" stroke-width="0.8"/>
<line x1="326.6" y1="348.8" x2="326.6" y2="350.8" stroke="#bdbdbd" stroke-width="0.8"/>
<line x1="376.6" y1="348.8" x2="376.6" y2="350.8" stroke="#bdbdbd" stroke-width="0.8"/>
<line x1="426.0" y1="348.8" x2="426.0" y2="350.8" stroke="#bdbdbd" stroke-width="0.8"/>
<line x1="475.8" y1="348.8" x2="475.8" y2="350.8" stroke="#bdbdbd" stroke-width="0.8"/>
<text x="318.4" y="292.9" font-size="9.95" textLength="59.41" lengthAdjust="spacingAndGlyphs" font-weight="bold" text-anchor="middle" fill="#111" stroke="#111" stroke-width="0.28" transform="rotate(-90 318.4 292.9)">Component 2</text>
<text x="304.7" y="229.7" font-size="9.63" textLength="5.50" lengthAdjust="spacingAndGlyphs" font-weight="bold" text-anchor="start" fill="#111" stroke="#111" stroke-width="0.28">d</text>
<circle cx="457.4" cy="227.4" r="2.9" fill="#22a2a1"/>
<text x="461.6" y="230.6" font-size="9.26" textLength="61.99" lengthAdjust="spacingAndGlyphs" font-weight="bold" text-anchor="start" fill="#111" stroke="#111" stroke-width="0.28">CD-PC-Fibrotic</text>
<circle cx="457.4" cy="239.2" r="2.9" fill="#9a2eec"/>
<text x="461.6" y="242.4" font-size="9.26" textLength="51.89" lengthAdjust="spacingAndGlyphs" font-weight="bold" text-anchor="start" fill="#111" stroke="#111" stroke-width="0.28">CD-PC-hipro</text>
<circle cx="457.4" cy="251.0" r="2.9" fill="#0c10f0"/>
<text x="461.6" y="254.2" font-size="9.26" textLength="74.98" lengthAdjust="spacingAndGlyphs" font-weight="bold" text-anchor="start" fill="#111" stroke="#111" stroke-width="0.28">CD-PC-Conserved</text>
<circle cx="457.4" cy="262.8" r="2.9" fill="#f82b2b"/>
<text x="461.6" y="266.0" font-size="9.26" textLength="24.02" lengthAdjust="spacingAndGlyphs" font-weight="bold" text-anchor="start" fill="#111" stroke="#111" stroke-width="0.28">CD-IC</text>
<circle cx="457.4" cy="274.6" r="2.9" fill="#2ae8ea"/>
<text x="461.6" y="277.8" font-size="9.26" textLength="62.95" lengthAdjust="spacingAndGlyphs" font-weight="bold" text-anchor="start" fill="#111" stroke="#111" stroke-width="0.28">CD-PC-IC-trans</text>
<path stroke="#8cc63f" stroke-width="1.3" fill="none" d="M406.4 390.0L406.4 391.2M359.1 385.9L359.1 387.1M415.6 389.7L415.6 390.9M429.4 395.4L429.4 397.4M381.7 387.8L381.7 389.0M418.3 389.8L418.3 391.0M401.2 390.8L401.2 392.0M388.1 383.8L388.1 385.0M443.9 406.5L443.9 408.5M360.9 386.3L360.9 387.5M417.3 393.5L417.3 395.5M379.7 388.5L379.7 390.5M359.3 389.2L359.3 390.4M401.5 387.9L401.5 389.1M415.7 392.4L415.7 394.4M363.4 384.8L363.4 386.0M386.9 380.8L386.9 382.8M431.3 393.2L431.3 394.4M362.4 385.6L362.4 387.6M434.3 401.9L434.3 403.9M416.5 392.4L416.5 393.6M416.0 393.8L416.0 395.8M402.2 389.9L402.2 391.1M367.6 384.1L367.6 386.1M429.3 397.3L429.3 398.5M381.5 381.3L381.5 382.5M443.7 403.1L443.7 404.3M443.3 403.7L443.3 404.9M376.8 381.1L376.8 382.3M360.0 389.5L360.0 391.5M422.5 388.6L422.5 390.6M415.5 393.8L415.5 395.0M435.1 398.3L435.1 400.3M432.0 393.8L432.0 395.0M421.6 395.1L421.6 397.1M359.3 388.2L359.3 390.2M396.6 388.8L396.6 390.8M415.5 386.5L415.5 388.5M446.5 403.5L446.5 404.7M389.6 383.5L389.6 384.7M428.4 395.5L428.4 397.5M362.7 384.9L362.7 386.9M381.8 381.0L381.8 383.0M443.3 406.0L443.3 407.2M427.3 395.6L427.3 396.8M420.3 394.1L420.3 396.1M407.7 387.9L407.7 389.9M394.2 383.3L394.2 385.3M420.2 387.2L420.2 389.2M369.1 386.4L369.1 388.4M452.5 403.6L452.5 404.8M406.0 388.7L406.0 389.9M382.5 386.6L382.5 387.8M404.8 383.9L404.8 385.9M437.1 403.6L437.1 404.8M419.7 394.0L419.7 395.2M390.5 383.0L390.5 384.2M450.5 400.4L450.5 402.4M451.9 410.9L451.9 412.1M419.2 392.5L419.2 393.7M398.8 389.1L398.8 391.1M421.0 391.7L421.0 392.9M400.1 388.3L400.1 390.3M377.5 382.8L377.5 384.0M421.3 393.7L421.3 395.7M436.1 394.4L436.1 396.4M414.0 391.1L414.0 393.1M407.1 386.1L407.1 388.1M410.1 391.8L410.1 393.8M413.2 393.3L413.2 394.5M362.9 388.1L362.9 390.1M442.0 396.4L442.0 397.6M447.4 404.4L447.4 405.6M394.8 388.4L394.8 389.6M377.5 382.9L377.5 384.9M359.6 384.2L359.6 386.2M446.3 401.1L446.3 402.3M385.6 387.8L385.6 389.8M382.0 385.1L382.0 387.1M419.6 391.2L419.6 392.4M377.3 381.9L377.3 383.9M371.2 386.7L371.2 387.9M446.0 398.1L446.0 399.3M408.6 391.6L408.6 393.6M407.0 387.1L407.0 388.3M451.7 402.4L451.7 403.6M448.2 402.0L448.2 403.2M412.8 386.0L412.8 388.0M372.3 386.4L372.3 387.6M436.6 398.6L436.6 400.6M375.8 386.9L375.8 388.9M425.5 393.3L425.5 395.3M452.5 408.3L452.5 410.3M376.8 381.3L376.8 383.3M453.5 408.2L453.5 409.4M363.7 386.0L363.7 387.2M379.2 388.2L379.2 390.2M390.4 388.0L390.4 390.0M450.2 406.8L450.2 408.0M450.2 404.6L450.2 406.6M429.0 396.7L429.0 397.9M363.1 384.7L363.1 385.9M396.3 384.7L396.3 385.9M413.2 386.8L413.2 388.0M390.4 386.8L390.4 388.0M414.1 388.7L414.1 389.9M441.1 398.9L441.1 400.9M404.6 391.2L404.6 392.4M450.7 408.5L450.7 409.7M424.5 393.7L424.5 395.7M400.0 382.8L400.0 384.0M359.1 388.8L359.1 390.0M420.5 394.3L420.5 395.5M376.7 381.5L376.7 382.7M373.5 382.5L373.5 383.7M406.4 387.1L406.4 389.1M423.2 394.0L423.2 395.2M405.9 387.2L405.9 388.4M367.3 384.9L367.3 386.1M365.1 384.6L365.1 386.6M373.6 382.9L373.6 384.1M452.0 405.9L452.0 407.1M428.9 398.2L428.9 400.2M435.3 400.2L435.3 402.2M393.2 383.1L393.2 385.1M384.5 382.1L384.5 383.3M364.4 385.8L364.4 387.8M404.3 392.0L404.3 394.0M447.4 403.5L447.4 404.7M443.7 403.9L443.7 405.9M363.4 383.8L363.4 385.0M447.1 406.8L447.1 408.0M384.5 386.7L384.5 387.9M454.6 406.0L454.6 408.0M401.1 385.7L401.1 386.9M429.0 397.2L429.0 398.4M377.0 388.3L377.0 389.5M410.0 387.5L410.0 389.5M415.0 387.8L415.0 389.8M439.1 400.3L439.1 402.3M366.4 385.8L366.4 387.8M381.8 384.4L381.8 385.6M421.5 394.4L421.5 395.6M364.2 382.9L364.2 384.9M439.2 402.9L439.2 404.9M448.0 403.0L448.0 404.2M417.8 391.7L417.8 392.9M422.9 396.1L422.9 397.3M395.8 382.5L395.8 384.5M423.1 396.2L423.1 397.4M434.3 395.8L434.3 397.8M386.7 387.9L386.7 389.1M383.0 387.6L383.0 389.6M359.4 385.1L359.4 387.1M363.5 384.5L363.5 385.7M423.0 393.2L423.0 395.2M379.9 381.3L379.9 383.3M413.9 391.5L413.9 393.5M431.0 391.7L431.0 393.7M375.8 384.4L375.8 385.6M393.9 389.7L393.9 390.9M432.5 395.4L432.5 396.6M431.5 396.7L431.5 398.7M455.7 409.3L455.7 411.3M403.8 388.1L403.8 390.1M392.8 384.7L392.8 385.9M439.2 404.4L439.2 405.6M369.7 386.7L369.7 388.7M452.1 408.7L452.1 410.7M410.7 391.1L410.7 392.3M363.0 388.0L363.0 390.0M365.0 381.4L365.0 383.4M395.5 382.6L395.5 383.8M376.9 382.9L376.9 384.1M363.3 387.3L363.3 389.3M448.5 405.9L448.5 407.1M363.7 385.8L363.7 387.8M411.5 390.4L411.5 392.4M395.0 384.6L395.0 386.6M452.3 406.4L452.3 407.6M360.5 388.3L360.5 390.3M394.3 386.3L394.3 388.3M409.4 386.8L409.4 388.0M397.0 386.7L397.0 388.7M390.7 385.7L390.7 386.9M409.3 390.3L409.3 391.5M377.0 386.8L377.0 388.8M393.4 388.7L393.4 389.9M417.8 387.1L417.8 388.3M419.8 387.7L419.8 389.7M372.0 387.3L372.0 389.3M425.3 394.6L425.3 395.8M368.9 387.5L368.9 388.7M445.0 400.5L445.0 401.7M388.2 382.0L388.2 384.0M425.7 392.8L425.7 394.0M375.6 386.9L375.6 388.1M441.2 400.7L441.2 401.9M442.0 404.3L442.0 405.5M410.8 388.5L410.8 389.7M429.1 399.1L429.1 401.1M420.6 394.7L420.6 396.7M363.6 388.6L363.6 390.6M426.2 397.6L426.2 399.6M419.4 388.8L419.4 390.8M429.7 400.0L429.7 401.2M412.0 391.3L412.0 392.5M361.6 388.8L361.6 390.8M429.9 396.6L429.9 398.6M360.6 384.2L360.6 386.2M371.0 382.5L371.0 383.7M426.1 393.5L426.1 395.5M441.8 404.9L441.8 406.9M359.5 385.7L359.5 386.9M410.8 384.4L410.8 386.4M366.5 381.4L366.5 382.6M376.8 381.5L376.8 383.5M367.7 382.0L367.7 383.2M420.4 394.6L420.4 396.6M434.6 395.6L434.6 396.8M437.2 395.7L437.2 396.9M373.5 380.8L373.5 382.0M429.3 394.2L429.3 396.2M450.0 405.0L450.0 406.2M423.7 390.9L423.7 392.1M435.8 398.5L435.8 399.7M425.5 391.8L425.5 393.8M430.1 394.1L430.1 396.1M447.6 401.9L447.6 403.1M387.9 384.9L387.9 386.1M376.4 387.1L376.4 388.3M417.2 389.6L417.2 391.6M430.9 392.8L430.9 394.0M393.8 386.1L393.8 388.1M444.3 396.8L444.3 398.8M366.0 381.9L366.0 383.1M396.3 389.2L396.3 390.4M441.8 400.2L441.8 401.4M395.7 382.2L395.7 383.4M450.8 406.1L450.8 408.1M451.0 402.5L451.0 403.7M417.3 390.5L417.3 392.5M385.8 388.5L385.8 389.7M403.5 385.3L403.5 386.5M430.1 391.8L430.1 393.8M452.8 407.3L452.8 409.3M425.8 396.7L425.8 398.7M422.0 389.9L422.0 391.1M450.1 408.6L450.1 409.8M377.5 383.8L377.5 385.0M391.6 388.6L391.6 389.8M450.2 405.9L450.2 407.1M406.8 386.5L406.8 387.7M437.0 400.2L437.0 401.4M412.0 393.5L412.0 395.5M395.4 389.2L395.4 390.4M416.7 389.4L416.7 390.6M453.3 405.0L453.3 406.2M456.3 409.6L456.3 410.8M367.9 385.0L367.9 387.0M399.7 387.4L399.7 389.4M391.9 384.9L391.9 386.9M402.8 385.4L402.8 386.6M410.4 390.0L410.4 392.0M438.0 397.6L438.0 398.8M416.0 390.5L416.0 392.5M377.3 386.1L377.3 388.1M446.8 407.5L446.8 408.7M388.9 385.6L388.9 387.6M361.7 384.6L361.7 386.6M387.5 384.7L387.5 386.7M361.5 386.8L361.5 388.8M442.3 396.5L442.3 398.5M430.2 394.6L430.2 395.8M403.1 384.0L403.1 385.2M399.9 384.4L399.9 386.4M448.4 403.2L448.4 405.2M404.6 389.8L404.6 391.0M370.2 385.5L370.2 387.5M453.0 407.6L453.0 409.6M408.9 385.1L408.9 386.3M366.0 381.2L366.0 383.2M367.8 388.4L367.8 389.6M434.0 399.2L434.0 400.4M403.8 389.5L403.8 391.5M367.6 382.6L367.6 383.8M426.3 395.4L426.3 396.6M401.2 383.8L401.2 385.8M388.4 382.8L388.4 384.0M456.2 405.9L456.2 407.1M428.2 397.0L428.2 399.0M407.9 392.1L407.9 393.3M405.7 389.7L405.7 390.9M436.3 396.4L436.3 398.4M403.3 385.7L403.3 387.7M414.9 389.1L414.9 390.3M383.4 388.2L383.4 389.4M411.4 388.3L411.4 390.3M447.8 401.4L447.8 403.4M374.1 385.3L374.1 386.5M454.1 411.4L454.1 412.6M437.9 400.3L437.9 402.3M437.2 397.1L437.2 399.1M429.2 396.1L429.2 397.3M442.1 397.9L442.1 399.1M440.6 402.2L440.6 404.2M380.2 381.8L380.2 383.0M359.5 388.3L359.5 389.5M451.4 406.4L451.4 408.4M369.4 382.7L369.4 384.7M445.8 400.3L445.8 401.5M367.0 383.2L367.0 384.4M433.0 393.7L433.0 394.9M437.2 397.0L437.2 399.0M366.0 386.7L366.0 387.9M394.3 384.4L394.3 385.6M380.4 386.0L380.4 387.2M408.9 390.6L408.9 391.8M390.9 386.7L390.9 387.9M444.9 406.3L444.9 408.3M409.7 385.9L409.7 387.1M436.8 401.6L436.8 403.6M413.2 389.5L413.2 391.5M412.0 388.9L412.0 390.9M411.0 390.1L411.0 391.3M395.5 386.0L395.5 387.2M375.1 386.3L375.1 388.3M452.0 403.7L452.0 404.9M442.7 402.0L442.7 403.2M393.2 385.8L393.2 387.0M437.6 395.2L437.6 396.4M384.8 388.2L384.8 389.4M447.4 405.1L447.4 407.1M426.2 390.3L426.2 391.5M449.2 404.6L449.2 406.6M433.0 392.3L433.0 393.5M394.0 380.7L394.0 381.9M409.4 385.6L409.4 386.8M446.9 398.5L446.9 399.7M436.2 392.6L436.2 394.6M390.7 381.4L390.7 382.6M359.2 380.9L359.2 382.1M369.7 379.8L369.7 381.8M423.3 390.2L423.3 391.4M451.3 399.5L451.3 400.7M434.7 391.9L434.7 393.1M430.6 391.3L430.6 393.3M364.5 380.6L364.5 381.8M376.6 377.7L376.6 379.7M407.6 383.8L407.6 385.0M449.2 400.6L449.2 401.8M447.4 401.0L447.4 402.2M445.9 398.9L445.9 400.1M374.3 381.6L374.3 382.8M420.0 386.4L420.0 387.6M382.0 380.5L382.0 382.5M374.7 379.3L374.7 380.5M375.0 382.0L375.0 383.2M406.8 385.8L406.8 387.8M451.2 401.0L451.2 403.0M384.2 379.1L384.2 381.1M372.2 381.4L372.2 382.6M456.2 403.5L456.2 404.7M366.0 381.0L366.0 383.0M452.7 400.4L452.7 402.4M381.5 381.9L381.5 383.9"/>
<path stroke="#2ee02e" stroke-width="1.3" fill="none" d="M368.2 385.3L368.2 387.3M446.5 407.4L446.5 408.6M378.2 387.0L378.2 388.2M365.2 382.4L365.2 383.6M409.7 389.4L409.7 391.4M427.3 396.9L427.3 398.1M446.8 406.6L446.8 407.8M374.6 386.3L374.6 388.3M453.4 406.8L453.4 408.0M405.8 386.0L405.8 387.2M431.6 398.2L431.6 399.4M423.5 395.5L423.5 397.5M434.0 397.7L434.0 398.9M390.0 383.8L390.0 385.0M386.3 389.1L386.3 390.3M415.8 387.2L415.8 389.2"/>
<path stroke="#f7841f" stroke-width="1.3" fill="none" d="M360.7 383.0L360.7 384.2M426.8 398.8L426.8 400.0M368.3 387.9L368.3 389.9M451.9 407.6L451.9 409.6M380.8 388.4L380.8 389.6M397.6 385.0L397.6 387.0M380.5 388.1L380.5 389.3M408.9 388.8L408.9 390.0M411.8 388.6L411.8 389.8M420.9 393.0L420.9 395.0M383.9 384.7L383.9 385.9M374.2 381.7L374.2 382.9M372.5 386.3L372.5 387.5M414.3 394.0L414.3 396.0"/>
<path stroke="#f07a62" stroke-width="1.3" fill="none" d="M380.3 386.1L380.3 388.1M453.9 410.3L453.9 412.3M417.1 392.7L417.1 394.7M439.2 396.0L439.2 398.0M453.9 410.7L453.9 411.9M415.7 393.3L415.7 394.5M362.6 383.4L362.6 384.6M444.2 406.1L444.2 408.1M389.3 383.8L389.3 385.8M443.2 402.0L443.2 404.0M402.6 390.9L402.6 392.9M423.6 390.9L423.6 392.1M436.6 395.3L436.6 397.3M388.8 386.9L388.8 388.9M435.9 400.6L435.9 402.6"/>
<path stroke="#f7841f" stroke-width="0.95" fill="none" d="M348.1 394.4L350.9 396.1M344.4 406.0L347.2 407.7M346.1 413.0L348.9 414.7M342.4 420.0L345.2 421.6M335.4 429.3L338.2 431.0M333.2 433.9L336.0 435.6"/>
<path stroke="#f07a62" stroke-width="0.95" fill="none" d="M353.3 394.4L356.1 396.1M351.6 396.7L354.4 398.4M349.8 401.4L352.6 403.0M345.4 403.7L348.2 405.4M342.5 422.3L345.3 424.0M334.3 431.6L337.1 433.3M336.6 436.2L339.4 437.9M330.4 440.9L333.2 442.6M329.5 443.2L332.3 444.9"/>
<path stroke="#8cc63f" stroke-width="0.95" fill="none" d="M346.9 399.0L349.7 400.7M348.6 403.7L351.4 405.4M348.8 406.0L351.6 407.7M342.6 408.3L345.4 410.0M341.9 413.0L344.7 414.7M340.5 415.3L343.3 417.0M344.3 415.3L347.1 417.0M338.5 420.0L341.3 421.6M336.7 424.6L339.5 426.3M340.5 426.9L343.3 428.6M337.4 433.9L340.2 435.6M331.7 438.6L334.5 440.3M336.2 438.6L339.0 440.3M335.3 440.9L338.1 442.6"/>
<path stroke="#2ee02e" stroke-width="0.95" fill="none" d="M351.5 399.0L354.3 400.7M343.3 417.6L346.1 419.3M341.6 424.6L344.4 426.3"/>
<path stroke="#8cc63f" stroke-width="1.2" fill="none" d="M369.6 395.0L369.6 396.7M378.2 395.6L378.2 397.4M371.1 390.7L371.1 392.5M367.9 392.7L367.9 394.5M363.9 395.2L363.9 397.0M376.5 392.8L376.5 394.6M369.0 391.1L369.0 392.9M377.6 394.2L377.6 395.9M370.8 394.4L370.8 396.2M372.1 394.9L372.1 396.7M378.1 392.4L378.1 394.2M373.5 391.5L373.5 393.2M375.4 390.6L375.4 392.4M367.1 394.7L367.1 396.5M359.3 393.5L359.3 395.3M377.3 394.1L377.3 395.9M373.0 394.3L373.0 396.1M365.2 391.3L365.2 393.1M365.9 395.6L365.9 397.4M380.7 394.4L380.7 396.2M375.0 391.5L375.0 393.3M380.4 395.6L380.4 397.3M370.3 395.0L370.3 396.8M367.9 391.0L367.9 392.8M370.5 395.5L370.5 397.3M365.0 393.5L365.0 395.3M364.2 395.1L364.2 396.9M376.7 394.4L376.7 396.2M365.6 394.0L365.6 395.8M360.4 394.1L360.4 395.9M375.6 392.4L375.6 394.1M376.7 391.9L376.7 393.7M363.6 392.0L363.6 393.8M360.8 394.7L360.8 396.4M363.9 391.8L363.9 393.6"/>
<path stroke="#2ee02e" stroke-width="1.2" fill="none" d="M374.4 395.9L374.4 397.7"/>
<path stroke="#f7841f" stroke-width="1.2" fill="none" d="M362.5 392.4L362.5 394.1M364.4 391.3L364.4 393.1M375.0 392.2L375.0 394.0M361.8 396.0L361.8 397.8"/>
<path stroke="#f07a62" stroke-width="1.2" fill="none" d="M370.2 390.9L370.2 392.7M360.3 393.2L360.3 395.0M377.3 395.0L377.3 396.8"/>
<path stroke="#1f2a8a" stroke-width="1.2" fill="none" d="M366.6 396.4L366.6 398.2M373.5 390.6L373.5 392.4"/>
<path d="M348.1 374.9L351.8 374.2L354.8 375.9L355.6 379.8L356.8 383.8L356.3 387.7L353.8 387.9L351.8 383.8L348.8 380.3Z" fill="#8cc63f" fill-opacity="0.85"/>
<path d="M380.8 380.3L385.3 379.8L386.0 382.8L384.3 386.7L381.8 387.5L380.8 383.8Z" fill="#8cc63f" fill-opacity="0.85"/>
<path d="M331.8 445.2L336.8 444.7L339.8 448.1L342.3 453.1L341.8 458.0L339.8 462.0L335.8 465.3L331.8 464.0L330.5 459.0L330.8 451.1Z" fill="#8cc63f" fill-opacity="0.85"/>
<path d="M487.1 411.5L491.8 411.5L492.8 415.5L492.6 420.2L487.8 419.9L486.8 415.5Z" fill="#8cc63f" fill-opacity="0.8"/>
<path stroke="#8cc63f" stroke-width="1.3" stroke-linecap="square" d="M353.2 380.6h0M354.7 379.3h0M350.8 376.4h0M348.7 377.7h0M352.0 382.9h0M355.3 386.3h0M353.2 387.4h0M348.4 378.1h0M354.2 387.3h0M355.4 382.6h0M355.6 387.4h0M349.6 379.9h0M353.2 386.3h0M356.2 385.8h0M350.0 378.5h0M353.0 379.5h0M351.2 379.6h0M351.1 376.9h0M351.4 377.1h0M348.9 377.7h0M354.9 384.3h0M348.8 376.4h0M349.8 376.7h0M349.6 376.8h0M350.0 375.1h0M355.8 381.7h0M353.5 378.5h0M356.3 381.7h0M352.3 384.7h0M351.4 381.4h0M353.1 376.6h0M353.1 384.7h0M354.1 378.8h0M354.3 378.7h0M350.0 379.8h0M353.9 386.1h0M354.5 386.6h0M350.7 382.4h0M352.0 376.0h0M353.9 387.3h0M351.5 375.1h0M354.5 380.5h0M350.0 381.4h0M352.6 381.7h0M380.8 383.7h0M382.2 385.0h0M382.9 386.4h0M384.2 386.4h0M383.3 382.1h0M381.1 383.3h0M382.2 384.6h0M382.5 381.9h0M383.8 383.3h0M383.8 383.6h0M382.0 380.7h0M381.6 387.3h0M381.9 387.3h0M382.2 381.5h0M383.6 381.7h0M381.5 380.5h0M382.2 383.3h0M383.9 382.2h0M336.6 457.8h0M337.5 460.6h0M337.8 448.8h0M340.8 460.4h0M333.0 446.2h0M335.3 454.1h0M333.6 450.6h0M340.0 451.6h0M335.6 465.2h0M336.4 445.9h0M335.5 456.2h0M332.2 454.4h0M334.8 459.9h0M335.1 454.9h0M339.4 448.8h0M338.5 456.7h0M337.5 461.3h0M336.6 452.5h0M339.9 458.6h0M332.1 454.9h0M333.4 452.2h0M336.8 446.7h0M339.2 450.0h0M337.5 454.9h0M333.5 460.1h0M340.4 449.5h0M335.7 457.7h0M340.5 457.5h0M339.6 459.0h0M337.3 449.1h0M338.4 451.6h0M342.0 456.0h0M332.2 446.0h0M336.4 456.4h0M339.0 457.6h0M336.6 449.0h0M340.3 457.6h0M336.6 452.5h0M335.2 453.6h0M337.7 452.2h0M332.0 456.1h0M339.5 456.5h0M335.4 458.9h0M335.0 456.3h0M334.7 447.5h0M339.5 460.1h0M339.8 456.3h0M339.8 451.1h0M337.0 453.3h0M338.4 450.2h0M339.9 454.9h0M334.0 462.2h0M340.9 455.3h0M336.5 455.5h0M334.8 447.6h0M333.6 455.4h0M337.6 463.3h0M339.6 450.6h0M340.9 450.3h0M341.5 455.2h0M341.0 448.8h0M332.9 455.2h0M333.8 447.9h0M334.5 456.6h0M334.8 447.7h0M335.2 463.2h0M339.1 456.3h0M333.2 451.3h0M332.8 449.8h0M340.0 449.5h0M332.8 454.1h0M334.2 444.9h0M334.4 453.5h0M337.7 456.4h0M335.1 456.3h0M335.3 445.9h0M340.7 458.0h0M341.6 456.6h0M332.1 451.6h0M338.7 454.1h0M334.1 454.2h0M332.8 446.0h0M339.1 459.4h0M337.4 454.1h0M334.5 449.9h0M342.1 452.8h0M340.1 459.5h0M336.1 460.0h0M331.5 446.7h0M337.2 457.5h0M335.4 453.9h0M485.6 414.5h0M487.4 416.8h0M489.5 411.1h0M487.4 412.4h0M466.3 417.0h0M489.2 412.6h0M465.5 414.8h0M472.6 409.2h0M477.4 414.5h0M460.8 416.9h0M455.1 410.7h0M485.7 412.1h0M472.6 413.8h0M476.8 414.4h0M489.0 414.6h0M469.3 412.4h0M458.4 415.2h0M461.4 410.0h0M468.4 412.0h0M457.3 412.2h0M464.7 412.8h0M462.0 412.0h0M487.2 415.7h0M475.0 414.4h0M484.0 411.7h0M487.1 410.8h0M458.3 418.2h0M479.9 414.9h0M472.8 412.9h0M487.0 415.9h0M483.8 411.5h0M487.6 415.1h0M477.1 417.8h0M474.5 417.0h0M457.2 414.0h0M467.5 410.4h0M480.4 410.0h0M473.5 415.5h0M459.8 414.1h0M487.2 413.9h0M464.2 412.8h0M463.7 409.8h0M472.3 415.7h0M488.8 416.8h0M462.9 412.2h0M456.0 414.6h0M487.0 414.7h0M455.7 413.6h0M465.6 415.7h0M483.3 414.7h0M457.3 416.7h0M483.7 412.7h0M481.2 410.8h0M462.7 415.2h0M472.0 413.7h0M472.1 411.4h0M476.7 410.8h0M480.9 417.0h0M470.8 412.1h0M482.7 416.4h0M488.9 417.0h0M465.0 413.4h0M485.4 416.4h0M480.2 410.4h0M488.8 415.0h0M479.2 414.6h0M470.1 416.4h0M458.3 417.4h0M465.1 413.9h0M468.1 411.7h0M470.1 410.6h0M482.4 412.6h0M479.4 411.3h0M486.8 412.0h0M467.6 413.6h0M486.6 413.6h0M486.4 414.0h0M478.3 411.2h0M471.4 415.5h0M488.7 410.1h0M478.3 412.9h0M464.5 411.1h0M462.1 411.3h0M482.3 415.6h0M460.2 410.4h0M469.9 414.9h0M471.2 412.4h0M480.2 417.2h0M488.1 413.6h0M459.7 417.3h0M470.8 411.0h0M460.9 414.5h0M483.5 409.8h0M482.1 410.2h0M482.0 415.3h0M480.9 413.3h0M462.0 413.8h0M460.9 414.2h0M463.0 415.1h0M487.3 410.5h0M484.9 416.6h0M460.9 410.6h0M483.2 415.3h0M477.2 410.4h0M474.2 412.1h0M462.3 414.1h0M482.6 416.2h0M486.9 409.6h0M460.2 413.4h0M472.0 409.9h0M473.8 410.4h0M468.7 414.1h0M458.0 413.1h0M458.9 411.7h0M470.1 412.2h0M488.2 412.6h0M456.7 416.9h0M458.3 410.2h0M460.7 413.7h0M468.5 413.7h0M487.4 416.6h0M458.8 415.1h0M471.4 417.0h0M469.4 417.2h0M458.2 416.7h0M478.6 412.6h0M468.4 415.3h0M483.3 417.2h0M460.8 413.7h0M477.3 414.7h0M484.7 412.8h0M460.3 415.8h0M480.5 415.6h0M464.0 415.3h0M475.2 411.7h0M467.3 416.4h0M472.1 417.0h0M461.2 412.5h0M478.6 415.6h0M462.0 414.4h0M461.8 412.7h0M467.9 417.0h0M487.9 417.8h0M457.9 412.9h0M465.6 413.6h0M460.1 412.7h0M475.9 417.2h0M459.1 412.1h0M487.2 410.8h0M462.6 415.4h0M476.5 416.9h0M459.3 416.3h0M486.0 411.9h0M462.2 417.0h0M458.7 415.8h0M474.8 415.8h0M474.7 409.3h0M472.2 415.4h0M479.9 417.0h0M457.8 410.1h0M490.2 414.0h0M477.5 415.1h0M481.9 412.4h0M465.0 417.4h0M463.2 410.6h0M485.1 416.3h0M461.9 414.0h0M488.3 416.1h0M472.6 414.0h0M470.5 414.2h0M474.6 415.3h0M472.7 409.1h0M457.4 411.1h0M470.1 414.0h0M477.9 409.7h0M470.0 410.3h0M474.1 413.6h0M457.4 414.5h0M471.6 411.9h0M480.8 412.4h0M475.5 418.2h0M481.8 412.6h0M474.2 414.3h0M471.0 413.2h0M483.7 412.9h0M459.1 411.2h0M480.6 410.8h0M481.8 409.3h0M473.1 412.3h0M484.4 412.3h0M476.5 411.0h0M487.4 411.3h0M472.6 412.7h0M470.7 415.0h0M482.7 412.3h0M457.6 414.4h0M470.2 410.2h0M478.8 411.6h0M456.2 414.1h0M483.0 415.1h0M476.5 415.2h0M457.9 411.1h0M486.1 415.2h0M462.4 416.4h0M456.9 410.3h0M489.5 415.5h0M486.9 415.9h0M476.7 416.5h0M469.1 410.0h0M455.6 411.1h0M485.2 413.0h0M481.5 417.3h0M458.4 415.0h0M485.0 414.7h0M486.2 412.5h0M473.9 411.0h0M459.9 412.2h0M472.8 416.6h0M468.4 411.4h0M471.5 416.7h0M473.3 408.8h0M487.6 412.3h0M486.5 415.4h0M488.8 412.8h0M482.5 417.1h0M465.9 413.4h0M487.0 415.2h0M477.7 409.9h0M467.4 414.3h0M477.0 414.7h0M468.2 416.3h0M463.6 409.9h0M467.2 412.9h0M477.6 416.7h0M475.4 414.1h0M484.8 409.9h0M483.2 412.2h0M460.3 411.2h0M485.4 412.5h0M468.2 416.3h0M488.2 417.0h0M467.5 413.2h0M484.4 412.3h0M485.2 411.7h0M464.8 411.3h0M467.0 413.7h0M456.8 415.8h0M467.6 414.0h0M489.8 415.8h0M487.0 415.7h0M467.8 413.0h0M483.0 409.6h0M489.0 416.1h0M463.2 412.3h0M478.3 414.7h0M476.3 413.0h0M461.0 415.6h0M458.7 415.9h0M486.9 412.6h0M456.6 412.2h0M475.4 417.0h0M487.2 412.3h0M475.6 412.6h0M475.6 410.1h0M475.0 410.3h0M484.0 413.7h0M486.7 414.2h0M488.2 415.0h0M461.4 415.5h0M473.1 417.2h0M478.5 415.5h0M476.5 409.8h0M463.0 411.6h0M458.9 417.0h0M478.6 417.1h0M466.3 411.0h0M476.2 409.7h0M489.3 415.4h0M479.6 412.1h0M479.4 409.6h0M470.8 414.6h0M461.1 411.2h0M484.0 415.0h0M467.0 411.6h0M458.2 414.5h0M463.0 412.0h0M474.2 410.9h0M459.4 413.0h0M479.9 413.5h0M485.5 415.6h0M476.9 415.6h0M464.9 409.7h0M464.6 410.8h0M458.9 411.3h0M464.4 410.8h0M485.0 414.4h0M469.1 410.8h0M457.5 411.9h0M477.1 412.7h0M477.2 411.1h0M488.6 410.9h0M472.6 412.8h0M484.8 416.5h0M479.1 413.1h0M487.6 413.1h0M474.5 412.5h0M478.4 413.2h0M476.1 411.8h0M478.2 413.0h0M463.7 412.1h0M484.4 418.0h0M476.9 416.1h0M468.1 414.5h0M470.5 409.6h0M473.9 410.7h0M466.2 411.8h0M487.3 411.5h0M469.8 412.4h0M485.6 417.3h0M457.2 416.2h0M463.3 415.9h0M461.0 412.3h0M489.1 414.8h0M485.2 410.4h0M478.8 413.5h0M482.0 409.6h0M484.9 414.3h0M483.1 413.3h0M469.5 413.2h0M465.5 410.5h0M481.8 410.2h0M470.2 411.8h0M462.4 414.7h0M466.9 412.0h0M484.7 409.7h0M459.9 411.2h0M455.7 413.2h0M485.1 412.7h0M471.8 411.4h0M485.0 411.7h0M458.1 416.1h0M482.9 410.7h0M461.4 412.9h0M481.5 410.1h0M465.8 409.8h0M458.4 416.6h0M478.9 410.7h0M476.7 410.1h0M460.1 410.8h0M464.9 414.2h0M476.7 414.7h0M479.4 416.0h0M488.8 411.8h0M485.8 414.8h0M478.8 413.3h0M472.1 413.3h0M465.6 409.1h0M464.1 411.2h0M471.5 416.4h0M474.1 415.1h0M479.4 409.3h0M487.4 417.0h0M456.7 412.8h0M489.6 414.2h0M455.3 410.4h0M460.4 411.7h0M488.8 416.2h0M489.2 412.8h0M487.4 411.4h0M465.0 413.0h0M475.3 412.6h0M483.4 411.8h0M463.2 414.0h0M480.6 414.5h0M484.0 413.9h0M463.6 411.8h0M478.7 412.2h0M477.2 411.7h0M487.5 414.4h0M474.6 411.8h0M486.6 413.2h0M480.3 412.7h0M477.8 413.9h0M477.6 409.6h0M469.2 413.1h0M478.6 412.9h0M473.5 414.8h0M458.0 415.1h0M462.3 411.3h0M460.6 414.1h0M484.1 411.8h0M456.5 412.0h0M468.9 409.9h0M484.3 411.2h0M475.8 413.2h0M483.1 414.3h0M481.1 412.1h0M459.2 410.2h0M481.6 417.4h0M475.1 410.8h0M459.6 409.5h0M464.5 410.2h0M460.4 417.5h0M474.5 414.2h0M460.3 417.6h0M464.0 414.7h0M472.4 413.7h0M462.3 412.4h0M458.3 409.6h0M462.0 417.0h0M457.4 413.3h0M489.2 413.2h0M455.5 413.7h0M459.5 413.9h0M483.0 416.6h0M477.3 412.0h0M468.8 411.1h0M468.0 412.0h0M487.3 412.4h0M462.6 413.3h0M484.3 412.2h0M482.5 412.6h0M474.0 412.3h0M485.4 412.5h0M473.8 416.0h0M466.5 417.8h0M477.7 413.4h0M477.3 409.9h0M456.9 409.6h0M464.4 411.9h0M458.2 415.3h0M486.7 413.0h0M492.4 416.5h0M490.5 413.4h0M488.7 414.0h0M492.3 411.7h0M490.4 416.7h0M488.7 412.4h0M488.3 418.0h0M491.5 417.5h0M491.5 415.8h0M489.8 418.2h0M487.6 415.6h0M489.0 411.8h0M491.9 419.5h0M488.4 416.6h0M491.1 411.8h0M491.9 415.0h0M489.6 416.2h0M491.4 412.2h0M489.6 412.9h0M488.6 418.9h0M489.7 419.8h0M439.7 441.7h0M446.8 440.6h0M448.1 432.3h0M440.8 440.4h0M447.2 440.3h0M442.8 434.1h0M446.2 431.9h0M442.8 440.7h0M444.4 433.7h0M439.8 437.5h0M449.2 433.3h0M447.1 440.3h0M444.9 431.2h0M441.3 434.6h0M448.5 434.4h0M446.2 442.6h0M450.8 435.1h0M448.1 443.0h0M450.7 436.8h0M448.6 431.2h0M440.5 436.0h0M442.3 431.7h0M439.6 436.4h0M441.3 433.6h0M449.7 437.9h0M446.4 432.0h0M438.4 442.8h0M438.3 437.8h0M441.6 431.6h0M446.0 441.4h0M448.0 439.0h0M444.7 446.7h0M445.6 435.1h0M450.7 435.5h0M446.0 437.6h0M448.8 435.3h0M440.9 440.3h0M443.7 443.3h0M440.8 431.7h0M440.1 435.6h0M439.6 442.7h0M451.1 435.6h0M445.4 440.6h0M442.6 435.6h0M442.1 433.3h0M447.7 436.5h0M447.8 442.0h0M441.3 437.3h0M445.7 444.5h0M440.8 445.6h0M444.0 446.0h0M440.3 440.7h0M445.9 435.8h0M442.5 432.0h0M441.8 434.0h0M439.0 438.4h0M447.2 435.0h0M449.8 439.2h0M450.9 437.8h0M442.2 433.1h0M439.9 445.5h0M440.2 435.7h0M448.4 430.8h0M446.2 436.8h0M446.0 440.5h0M450.4 438.5h0M440.8 438.7h0M449.8 442.5h0M440.7 438.1h0M440.2 434.4h0M447.0 431.1h0M443.1 432.6h0M449.2 439.8h0M445.7 438.4h0M449.8 433.6h0M444.1 435.1h0M445.1 433.8h0M439.8 440.1h0M445.9 438.9h0M443.8 438.5h0M443.8 444.1h0M444.6 433.7h0M447.7 432.5h0M446.4 434.4h0M445.0 434.8h0M451.5 435.3h0M451.2 441.1h0M442.2 438.6h0M449.1 433.7h0M440.3 432.4h0M451.8 436.0h0M448.6 438.4h0M437.6 439.2h0M446.6 439.2h0M446.6 438.4h0M443.8 441.1h0M439.9 439.5h0M448.2 436.7h0M445.5 439.6h0M441.4 442.5h0M443.7 432.2h0M443.5 432.5h0M440.2 441.9h0M442.0 438.3h0M444.6 432.8h0M448.3 441.1h0M450.8 435.2h0M448.6 443.8h0M440.0 433.5h0M441.9 446.5h0M437.7 435.3h0M444.9 433.4h0M438.3 438.3h0M448.1 433.7h0M450.3 436.4h0M444.1 441.4h0M444.1 439.0h0M446.4 432.9h0M441.3 437.2h0M445.8 440.8h0M446.9 440.5h0M440.4 436.1h0M445.0 438.9h0M450.7 434.9h0M441.8 443.0h0M441.5 444.5h0M441.8 443.1h0M442.9 435.8h0M440.4 439.0h0M444.4 440.0h0M440.1 441.2h0M439.7 438.7h0M441.0 433.1h0M448.6 432.7h0M447.3 433.5h0M439.5 434.9h0M443.8 434.4h0M444.6 440.7h0M440.4 436.0h0M445.0 440.5h0M451.0 440.0h0M443.7 432.6h0M438.7 441.9h0M444.1 433.7h0M444.8 440.0h0M447.1 438.5h0M447.7 442.9h0M441.6 438.1h0M449.1 440.0h0M439.8 439.4h0M444.3 438.0h0M448.2 439.5h0M449.2 437.8h0M440.1 436.5h0M440.4 432.1h0M444.2 439.2h0M447.5 434.5h0M442.1 438.0h0M443.5 438.8h0M445.0 431.7h0M444.3 431.0h0M440.0 438.7h0M447.3 442.4h0M442.8 440.0h0M440.9 434.6h0M442.5 436.4h0M449.3 433.5h0M438.8 436.7h0M443.3 436.9h0M441.6 440.1h0M446.4 432.7h0M446.8 435.1h0M441.7 431.7h0M447.8 431.6h0M446.9 439.8h0M449.3 432.5h0M440.4 439.4h0M447.6 442.9h0M447.4 439.3h0M446.6 437.0h0M446.0 436.9h0M447.7 445.6h0M445.1 435.9h0M447.8 433.7h0M440.1 443.4h0M444.7 443.0h0M446.0 436.2h0M441.7 437.8h0M444.4 432.1h0M442.4 432.6h0M443.7 434.5h0M452.6 423.0h0M448.3 429.8h0M451.8 425.7h0M451.1 423.2h0M451.6 420.3h0M446.8 433.6h0M456.7 419.9h0M457.1 418.4h0M456.5 418.0h0M458.8 424.7h0"/>
<path stroke="#f7841f" stroke-width="1.3" stroke-linecap="square" d="M335.9 463.5h0M331.5 463.4h0M331.5 456.8h0M331.9 460.7h0M331.4 452.0h0M333.5 462.3h0M335.1 464.2h0M331.0 452.9h0M335.3 457.3h0M331.7 447.2h0M331.5 447.3h0M331.7 456.9h0M331.1 458.2h0M491.4 411.7h0M443.6 444.2h0M446.2 445.7h0M443.2 446.0h0M439.1 443.4h0M440.2 432.9h0M444.0 436.8h0M449.7 435.8h0M441.2 443.9h0M445.7 442.6h0M442.4 443.5h0M442.9 445.1h0M447.1 445.7h0M446.1 443.2h0M446.0 444.1h0M443.7 436.2h0M448.9 437.0h0M443.2 446.0h0M446.6 439.7h0M443.8 444.7h0M443.1 437.3h0M441.9 446.0h0M445.9 445.4h0M445.3 433.3h0M445.8 435.1h0M442.6 445.1h0M442.6 444.4h0M441.2 444.0h0M457.9 419.4h0M458.4 419.2h0M456.4 416.8h0M456.1 416.3h0"/>
<path stroke="#f07a62" stroke-width="1.3" stroke-linecap="square" d="M331.9 457.3h0M331.7 456.2h0M330.6 458.0h0M333.3 464.0h0M339.6 457.0h0M330.4 457.1h0M331.4 458.1h0M336.5 464.5h0M478.2 411.0h0M460.3 410.8h0M472.9 410.4h0M458.9 413.1h0M465.2 414.6h0M471.8 409.7h0M471.2 416.2h0M449.0 433.9h0M445.3 444.7h0M443.2 443.7h0M445.1 437.0h0M447.4 445.4h0M445.5 435.1h0M443.2 437.5h0M439.6 443.2h0M439.1 437.2h0M447.8 444.8h0M444.1 439.0h0M446.6 442.1h0M446.0 444.4h0M441.9 443.0h0M439.0 442.2h0M443.9 443.3h0M443.8 443.3h0M449.5 440.2h0M449.1 429.5h0M446.4 433.8h0M449.1 429.0h0M451.6 420.1h0M452.2 421.4h0M449.4 429.8h0M448.4 431.6h0M448.8 428.9h0"/>
<path stroke="#2ee02e" stroke-width="1.3" stroke-linecap="square" d="M479.1 411.9h0M465.3 412.7h0M467.3 412.9h0M479.3 413.7h0M480.3 408.8h0M488.2 410.8h0M469.1 412.4h0M467.0 410.8h0M464.7 413.0h0M482.1 411.9h0M488.2 415.9h0M487.6 416.4h0M458.3 417.3h0M458.8 415.3h0M477.2 417.0h0M480.2 410.3h0M462.5 414.6h0"/>
<path d="M337.9 446.3L345.3 428.3L352.1 411.5L355.8 400.6L358.9 391.6" stroke="#444" stroke-width="0.75" fill="none"/>
<path d="M358.9 391.6L369.8 390.2L382.1 390.2" stroke="#444" stroke-width="0.75" fill="none"/>
<path d="M382.1 390.2L398.8 392.2L418.8 397.1L438.8 405.6L454.0 414.3" stroke="#444" stroke-width="0.75" fill="none"/>
<path d="M454.0 414.3L468.8 413.0L488.8 412.5" stroke="#444" stroke-width="0.75" fill="none"/>
<path d="M453.3 418.5L450.8 425.4L449.0 430.3L445.8 435.3" stroke="#444" stroke-width="0.75" fill="none"/>
<path d="M454.8 416.4L457.6 418.4L459.1 426.0" stroke="#444" stroke-width="0.75" fill="none"/>
<path d="M358.9 391.6L355.3 386.3" stroke="#444" stroke-width="0.75" fill="none"/>
<path stroke="#f7841f" stroke-width="1.3" stroke-linecap="square" d="M423.3 401.5h0M416.0 398.2h0M364.5 390.9h0M449.7 412.0h0M434.4 403.6h0M364.5 390.2h0M359.3 392.8h0M371.1 391.5h0M423.3 401.7h0M436.5 407.3h0M408.4 394.3h0M369.5 391.5h0M425.7 401.5h0M435.0 404.5h0M355.5 403.3h0M351.9 413.7h0M350.7 414.7h0M338.9 444.4h0M336.9 445.6h0M345.2 429.0h0M343.2 430.5h0M358.3 394.1h0M352.4 410.0h0"/>
<path stroke="#8cc63f" stroke-width="1.3" stroke-linecap="square" d="M393.6 392.2h0M398.4 393.4h0M422.8 399.7h0M408.0 393.7h0M438.7 407.8h0M437.4 404.7h0M380.1 391.4h0M386.4 390.7h0M435.7 406.0h0M345.5 429.2h0M344.0 430.4h0M358.4 391.7h0M357.2 396.4h0M352.4 410.8h0M343.1 435.1h0M341.4 437.0h0M357.9 394.3h0M348.9 416.9h0M347.7 422.6h0M350.3 415.7h0"/>
<path stroke="#1f2a8a" stroke-width="1.3" stroke-linecap="square" d="M362.2 392.1h0M454.2 414.9h0M430.2 401.9h0M404.3 395.5h0M371.1 391.8h0M397.9 393.1h0M345.8 427.5h0M340.8 439.9h0M344.9 429.0h0M337.7 445.4h0M347.8 421.1h0M340.8 438.4h0M354.9 404.2h0"/>
<path stroke="#f07a62" stroke-width="1.3" stroke-linecap="square" d="M387.6 390.8h0M446.8 410.1h0M441.6 405.5h0M398.0 392.3h0M417.0 396.1h0M376.9 389.9h0M385.7 391.4h0M364.6 393.1h0M413.2 397.6h0M449.0 413.7h0M396.4 392.7h0M402.0 395.5h0M384.3 390.8h0M404.8 395.3h0M378.3 389.9h0M377.0 390.4h0M347.2 424.2h0M341.7 436.5h0M342.8 434.3h0M356.8 398.5h0M349.5 416.3h0M351.1 414.1h0M349.6 416.9h0M347.9 423.0h0"/>
<circle cx="358.9" cy="391.6" r="1.75" fill="#444" stroke="#111" stroke-width="0.9"/>
<circle cx="382.1" cy="390.2" r="1.75" fill="#444" stroke="#111" stroke-width="0.9"/>
<circle cx="454.0" cy="414.3" r="1.75" fill="#444" stroke="#111" stroke-width="0.9"/>
<circle cx="453.3" cy="418.5" r="1.75" fill="#444" stroke="#111" stroke-width="0.9"/>
<line x1="322.6" y1="370.5" x2="322.6" y2="469.8" stroke="#bdbdbd" stroke-width="1.0"/>
<line x1="322.1" y1="469.4" x2="498.5" y2="469.4" stroke="#bdbdbd" stroke-width="1.0"/>
<line x1="320.5" y1="388.0" x2="322.6" y2="388.0" stroke="#bdbdbd" stroke-width="0.8"/>
<line x1="320.5" y1="413.0" x2="322.6" y2="413.0" stroke="#bdbdbd" stroke-width="0.8"/>
<line x1="320.5" y1="438.0" x2="322.6" y2="438.0" stroke="#bdbdbd" stroke-width="0.8"/>
<line x1="320.5" y1="462.5" x2="322.6" y2="462.5" stroke="#bdbdbd" stroke-width="0.8"/>
<line x1="325.4" y1="469.4" x2="325.4" y2="471.4" stroke="#bdbdbd" stroke-width="0.8"/>
<line x1="375.4" y1="469.4" x2="375.4" y2="471.4" stroke="#bdbdbd" stroke-width="0.8"/>
<line x1="424.8" y1="469.4" x2="424.8" y2="471.4" stroke="#bdbdbd" stroke-width="0.8"/>
<line x1="474.6" y1="469.4" x2="474.6" y2="471.4" stroke="#bdbdbd" stroke-width="0.8"/>
<text x="318.4" y="419.5" font-size="9.95" textLength="59.41" lengthAdjust="spacingAndGlyphs" font-weight="bold" text-anchor="middle" fill="#111" stroke="#111" stroke-width="0.28" transform="rotate(-90 318.4 419.5)">Component 2</text>
<text x="413.2" y="479.1" font-size="9.95" textLength="59.41" lengthAdjust="spacingAndGlyphs" font-weight="bold" text-anchor="middle" fill="#111" stroke="#111" stroke-width="0.28">Component 1</text>
<text x="301.0" y="366.7" font-size="9.63" textLength="5.01" lengthAdjust="spacingAndGlyphs" font-weight="bold" text-anchor="start" fill="#111" stroke="#111" stroke-width="0.28">e</text>
<circle cx="330.9" cy="366.2" r="1.7" fill="#1f2a8a"/>
<text x="334.7" y="368.4" font-size="6.42" textLength="18.67" lengthAdjust="spacingAndGlyphs" font-weight="bold" text-anchor="start" fill="#111" stroke="#111" stroke-width="0.28">HET07</text>
<circle cx="356.5" cy="366.2" r="1.7" fill="#f8dcb8"/>
<text x="359.8" y="368.4" font-size="6.42" textLength="18.67" lengthAdjust="spacingAndGlyphs" font-weight="bold" text-anchor="start" fill="#111" stroke="#111" stroke-width="0.28">HET14</text>
<circle cx="381.6" cy="366.2" r="1.7" fill="#f7841f"/>
<text x="385.0" y="368.4" font-size="6.42" textLength="18.67" lengthAdjust="spacingAndGlyphs" font-weight="bold" text-anchor="start" fill="#111" stroke="#111" stroke-width="0.28">HET21</text>
<circle cx="408.0" cy="366.2" r="1.7" fill="#2ee02e"/>
<text x="410.4" y="368.4" font-size="6.42" textLength="25.34" lengthAdjust="spacingAndGlyphs" font-weight="bold" text-anchor="start" fill="#111" stroke="#111" stroke-width="0.28">HOMO07</text>
<circle cx="442.6" cy="366.2" r="1.7" fill="#f07a62"/>
<text x="446.0" y="368.4" font-size="6.42" textLength="25.34" lengthAdjust="spacingAndGlyphs" font-weight="bold" text-anchor="start" fill="#111" stroke="#111" stroke-width="0.28">HOMO14</text>
<circle cx="476.9" cy="366.2" r="1.7" fill="#8cc63f"/>
<text x="481.3" y="369.0" font-size="7.38" textLength="29.14" lengthAdjust="spacingAndGlyphs" font-weight="bold" text-anchor="start" fill="#111" stroke="#111" stroke-width="0.28">HOMO21</text>
</svg></body></html>
